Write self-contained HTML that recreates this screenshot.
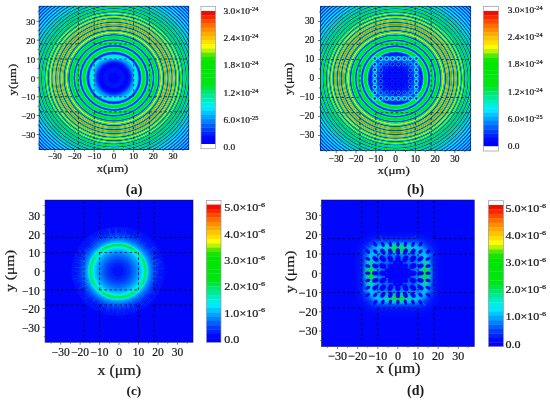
<!DOCTYPE html><html><head><meta charset="utf-8"><style>html,body{margin:0;padding:0;background:#fff;width:550px;height:400px;overflow:hidden}svg{display:block}</style></head><body><svg width="550" height="400" viewBox="0 0 550 400"><defs><clipPath id="cpa"><rect x="39.00" y="6.20" width="149.80" height="143.40"/></clipPath><clipPath id="cpb"><rect x="320.40" y="6.30" width="150.30" height="144.40"/></clipPath><clipPath id="cpc"><rect x="45.10" y="200.10" width="147.90" height="142.20"/></clipPath><clipPath id="cpd"><rect x="321.50" y="200.00" width="152.80" height="146.50"/></clipPath></defs><rect width="550" height="400" fill="#fff"/><g clip-path="url(#cpa)"><g><ellipse cx="113.90" cy="77.90" rx="114.37" ry="109.48" fill="#00a2ff"/><ellipse cx="113.90" cy="77.90" rx="114.27" ry="109.39" fill="#008cff"/><ellipse cx="113.90" cy="77.90" rx="114.17" ry="109.30" fill="#0060ff"/><ellipse cx="113.90" cy="77.90" rx="114.07" ry="109.20" fill="#004bfd"/><ellipse cx="113.90" cy="77.90" rx="113.98" ry="109.11" fill="#0037fb"/><ellipse cx="113.90" cy="77.90" rx="113.88" ry="109.01" fill="#0013fb"/><ellipse cx="113.90" cy="77.90" rx="113.78" ry="108.92" fill="#0005fa"/><ellipse cx="113.90" cy="77.90" rx="113.38" ry="108.54" fill="#0013fb"/><ellipse cx="113.90" cy="77.90" rx="113.29" ry="108.45" fill="#0024fa"/><ellipse cx="113.90" cy="77.90" rx="113.19" ry="108.35" fill="#0037fb"/><ellipse cx="113.90" cy="77.90" rx="113.09" ry="108.26" fill="#0060ff"/><ellipse cx="113.90" cy="77.90" rx="112.99" ry="108.16" fill="#0076ff"/><ellipse cx="113.90" cy="77.90" rx="112.89" ry="108.07" fill="#008cff"/><ellipse cx="113.90" cy="77.90" rx="112.79" ry="107.97" fill="#00a2ff"/><ellipse cx="113.90" cy="77.90" rx="112.69" ry="107.88" fill="#00b7ff"/><ellipse cx="113.90" cy="77.90" rx="112.20" ry="107.41" fill="#00a2ff"/><ellipse cx="113.90" cy="77.90" rx="112.10" ry="107.31" fill="#008cff"/><ellipse cx="113.90" cy="77.90" rx="112.01" ry="107.22" fill="#0076ff"/><ellipse cx="113.90" cy="77.90" rx="111.91" ry="107.13" fill="#004bfd"/><ellipse cx="113.90" cy="77.90" rx="111.81" ry="107.03" fill="#0037fb"/><ellipse cx="113.90" cy="77.90" rx="111.71" ry="106.94" fill="#0024fa"/><ellipse cx="113.90" cy="77.90" rx="111.61" ry="106.84" fill="#0013fb"/><ellipse cx="113.90" cy="77.90" rx="111.51" ry="106.75" fill="#0005fa"/><ellipse cx="113.90" cy="77.90" rx="111.12" ry="106.37" fill="#0013fb"/><ellipse cx="113.90" cy="77.90" rx="111.02" ry="106.28" fill="#0037fb"/><ellipse cx="113.90" cy="77.90" rx="110.92" ry="106.18" fill="#004bfd"/><ellipse cx="113.90" cy="77.90" rx="110.82" ry="106.09" fill="#0060ff"/><ellipse cx="113.90" cy="77.90" rx="110.72" ry="105.99" fill="#008cff"/><ellipse cx="113.90" cy="77.90" rx="110.63" ry="105.90" fill="#00a2ff"/><ellipse cx="113.90" cy="77.90" rx="110.53" ry="105.80" fill="#00b7ff"/><ellipse cx="113.90" cy="77.90" rx="110.23" ry="105.52" fill="#00ccff"/><ellipse cx="113.90" cy="77.90" rx="110.13" ry="105.43" fill="#00b7ff"/><ellipse cx="113.90" cy="77.90" rx="109.94" ry="105.24" fill="#00a2ff"/><ellipse cx="113.90" cy="77.90" rx="109.84" ry="105.14" fill="#008cff"/><ellipse cx="113.90" cy="77.90" rx="109.74" ry="105.05" fill="#0060ff"/><ellipse cx="113.90" cy="77.90" rx="109.64" ry="104.96" fill="#004bfd"/><ellipse cx="113.90" cy="77.90" rx="109.54" ry="104.86" fill="#0037fb"/><ellipse cx="113.90" cy="77.90" rx="109.44" ry="104.77" fill="#0024fa"/><ellipse cx="113.90" cy="77.90" rx="109.34" ry="104.67" fill="#0013fb"/><ellipse cx="113.90" cy="77.90" rx="109.25" ry="104.58" fill="#0005fa"/><ellipse cx="113.90" cy="77.90" rx="108.95" ry="104.30" fill="#0013fb"/><ellipse cx="113.90" cy="77.90" rx="108.85" ry="104.20" fill="#0024fa"/><ellipse cx="113.90" cy="77.90" rx="108.75" ry="104.11" fill="#0037fb"/><ellipse cx="113.90" cy="77.90" rx="108.65" ry="104.01" fill="#004bfd"/><ellipse cx="113.90" cy="77.90" rx="108.56" ry="103.92" fill="#0076ff"/><ellipse cx="113.90" cy="77.90" rx="108.46" ry="103.82" fill="#008cff"/><ellipse cx="113.90" cy="77.90" rx="108.36" ry="103.73" fill="#00a2ff"/><ellipse cx="113.90" cy="77.90" rx="108.26" ry="103.63" fill="#00b7ff"/><ellipse cx="113.90" cy="77.90" rx="108.16" ry="103.54" fill="#00ccff"/><ellipse cx="113.90" cy="77.90" rx="107.77" ry="103.16" fill="#00b7ff"/><ellipse cx="113.90" cy="77.90" rx="107.67" ry="103.07" fill="#00a2ff"/><ellipse cx="113.90" cy="77.90" rx="107.57" ry="102.97" fill="#008cff"/><ellipse cx="113.90" cy="77.90" rx="107.47" ry="102.88" fill="#0076ff"/><ellipse cx="113.90" cy="77.90" rx="107.37" ry="102.79" fill="#0060ff"/><ellipse cx="113.90" cy="77.90" rx="107.27" ry="102.69" fill="#0037fb"/><ellipse cx="113.90" cy="77.90" rx="107.18" ry="102.60" fill="#0024fa"/><ellipse cx="113.90" cy="77.90" rx="107.08" ry="102.50" fill="#0013fb"/><ellipse cx="113.90" cy="77.90" rx="106.98" ry="102.41" fill="#0005fa"/><ellipse cx="113.90" cy="77.90" rx="106.68" ry="102.13" fill="#0013fb"/><ellipse cx="113.90" cy="77.90" rx="106.58" ry="102.03" fill="#0024fa"/><ellipse cx="113.90" cy="77.90" rx="106.49" ry="101.94" fill="#0037fb"/><ellipse cx="113.90" cy="77.90" rx="106.39" ry="101.84" fill="#004bfd"/><ellipse cx="113.90" cy="77.90" rx="106.29" ry="101.75" fill="#0076ff"/><ellipse cx="113.90" cy="77.90" rx="106.19" ry="101.65" fill="#008cff"/><ellipse cx="113.90" cy="77.90" rx="106.09" ry="101.56" fill="#00a2ff"/><ellipse cx="113.90" cy="77.90" rx="105.99" ry="101.46" fill="#00b7ff"/><ellipse cx="113.90" cy="77.90" rx="105.89" ry="101.37" fill="#00ccff"/><ellipse cx="113.90" cy="77.90" rx="105.80" ry="101.28" fill="#00e1ff"/><ellipse cx="113.90" cy="77.90" rx="105.50" ry="100.99" fill="#00ccff"/><ellipse cx="113.90" cy="77.90" rx="105.40" ry="100.90" fill="#00b7ff"/><ellipse cx="113.90" cy="77.90" rx="105.30" ry="100.80" fill="#00a2ff"/><ellipse cx="113.90" cy="77.90" rx="105.20" ry="100.71" fill="#008cff"/><ellipse cx="113.90" cy="77.90" rx="105.11" ry="100.62" fill="#0076ff"/><ellipse cx="113.90" cy="77.90" rx="105.01" ry="100.52" fill="#004bfd"/><ellipse cx="113.90" cy="77.90" rx="104.91" ry="100.43" fill="#0037fb"/><ellipse cx="113.90" cy="77.90" rx="104.81" ry="100.33" fill="#0024fa"/><ellipse cx="113.90" cy="77.90" rx="104.71" ry="100.24" fill="#0013fb"/><ellipse cx="113.90" cy="77.90" rx="104.61" ry="100.14" fill="#0005fa"/><ellipse cx="113.90" cy="77.90" rx="104.32" ry="99.86" fill="#0013fb"/><ellipse cx="113.90" cy="77.90" rx="104.22" ry="99.77" fill="#0024fa"/><ellipse cx="113.90" cy="77.90" rx="104.12" ry="99.67" fill="#004bfd"/><ellipse cx="113.90" cy="77.90" rx="104.02" ry="99.58" fill="#0060ff"/><ellipse cx="113.90" cy="77.90" rx="103.92" ry="99.48" fill="#008cff"/><ellipse cx="113.90" cy="77.90" rx="103.83" ry="99.39" fill="#00a2ff"/><ellipse cx="113.90" cy="77.90" rx="103.73" ry="99.30" fill="#00b7ff"/><ellipse cx="113.90" cy="77.90" rx="103.63" ry="99.20" fill="#00ccff"/><ellipse cx="113.90" cy="77.90" rx="103.53" ry="99.11" fill="#00e1ff"/><ellipse cx="113.90" cy="77.90" rx="103.14" ry="98.73" fill="#00ccff"/><ellipse cx="113.90" cy="77.90" rx="102.94" ry="98.54" fill="#00a2ff"/><ellipse cx="113.90" cy="77.90" rx="102.84" ry="98.45" fill="#008cff"/><ellipse cx="113.90" cy="77.90" rx="102.74" ry="98.35" fill="#0076ff"/><ellipse cx="113.90" cy="77.90" rx="102.64" ry="98.26" fill="#004bfd"/><ellipse cx="113.90" cy="77.90" rx="102.54" ry="98.16" fill="#0037fb"/><ellipse cx="113.90" cy="77.90" rx="102.45" ry="98.07" fill="#0024fa"/><ellipse cx="113.90" cy="77.90" rx="102.35" ry="97.97" fill="#0013fb"/><ellipse cx="113.90" cy="77.90" rx="102.25" ry="97.88" fill="#0005fa"/><ellipse cx="113.90" cy="77.90" rx="101.95" ry="97.60" fill="#0013fb"/><ellipse cx="113.90" cy="77.90" rx="101.85" ry="97.50" fill="#0024fa"/><ellipse cx="113.90" cy="77.90" rx="101.76" ry="97.41" fill="#004bfd"/><ellipse cx="113.90" cy="77.90" rx="101.66" ry="97.31" fill="#0060ff"/><ellipse cx="113.90" cy="77.90" rx="101.56" ry="97.22" fill="#008cff"/><ellipse cx="113.90" cy="77.90" rx="101.46" ry="97.13" fill="#00a2ff"/><ellipse cx="113.90" cy="77.90" rx="101.36" ry="97.03" fill="#00b7ff"/><ellipse cx="113.90" cy="77.90" rx="101.26" ry="96.94" fill="#00ccff"/><ellipse cx="113.90" cy="77.90" rx="101.16" ry="96.84" fill="#00e1ff"/><ellipse cx="113.90" cy="77.90" rx="101.07" ry="96.75" fill="#00ecf5"/><ellipse cx="113.90" cy="77.90" rx="100.77" ry="96.46" fill="#00e1ff"/><ellipse cx="113.90" cy="77.90" rx="100.67" ry="96.37" fill="#00ccff"/><ellipse cx="113.90" cy="77.90" rx="100.57" ry="96.28" fill="#00b7ff"/><ellipse cx="113.90" cy="77.90" rx="100.47" ry="96.18" fill="#00a2ff"/><ellipse cx="113.90" cy="77.90" rx="100.38" ry="96.09" fill="#008cff"/><ellipse cx="113.90" cy="77.90" rx="100.28" ry="95.99" fill="#0060ff"/><ellipse cx="113.90" cy="77.90" rx="100.18" ry="95.90" fill="#004bfd"/><ellipse cx="113.90" cy="77.90" rx="100.08" ry="95.80" fill="#0024fa"/><ellipse cx="113.90" cy="77.90" rx="99.98" ry="95.71" fill="#0013fb"/><ellipse cx="113.90" cy="77.90" rx="99.88" ry="95.62" fill="#0005fa"/><ellipse cx="113.90" cy="77.90" rx="99.59" ry="95.33" fill="#0013fb"/><ellipse cx="113.90" cy="77.90" rx="99.49" ry="95.24" fill="#0024fa"/><ellipse cx="113.90" cy="77.90" rx="99.39" ry="95.14" fill="#0037fb"/><ellipse cx="113.90" cy="77.90" rx="99.29" ry="95.05" fill="#0060ff"/><ellipse cx="113.90" cy="77.90" rx="99.19" ry="94.96" fill="#0076ff"/><ellipse cx="113.90" cy="77.90" rx="99.09" ry="94.86" fill="#00a2ff"/><ellipse cx="113.90" cy="77.90" rx="99.00" ry="94.77" fill="#00b7ff"/><ellipse cx="113.90" cy="77.90" rx="98.90" ry="94.67" fill="#00ccff"/><ellipse cx="113.90" cy="77.90" rx="98.80" ry="94.58" fill="#00e1ff"/><ellipse cx="113.90" cy="77.90" rx="98.70" ry="94.48" fill="#00ecf5"/><ellipse cx="113.90" cy="77.90" rx="98.50" ry="94.29" fill="#00eee2"/><ellipse cx="113.90" cy="77.90" rx="98.40" ry="94.20" fill="#00ecf5"/><ellipse cx="113.90" cy="77.90" rx="98.21" ry="94.01" fill="#00e1ff"/><ellipse cx="113.90" cy="77.90" rx="98.11" ry="93.92" fill="#00ccff"/><ellipse cx="113.90" cy="77.90" rx="98.01" ry="93.82" fill="#00a2ff"/><ellipse cx="113.90" cy="77.90" rx="97.91" ry="93.73" fill="#008cff"/><ellipse cx="113.90" cy="77.90" rx="97.81" ry="93.63" fill="#0060ff"/><ellipse cx="113.90" cy="77.90" rx="97.71" ry="93.54" fill="#004bfd"/><ellipse cx="113.90" cy="77.90" rx="97.62" ry="93.45" fill="#0037fb"/><ellipse cx="113.90" cy="77.90" rx="97.52" ry="93.35" fill="#0013fb"/><ellipse cx="113.90" cy="77.90" rx="97.32" ry="93.16" fill="#0005fa"/><ellipse cx="113.90" cy="77.90" rx="97.12" ry="92.97" fill="#0013fb"/><ellipse cx="113.90" cy="77.90" rx="97.03" ry="92.88" fill="#0024fa"/><ellipse cx="113.90" cy="77.90" rx="96.93" ry="92.79" fill="#004bfd"/><ellipse cx="113.90" cy="77.90" rx="96.83" ry="92.69" fill="#0060ff"/><ellipse cx="113.90" cy="77.90" rx="96.73" ry="92.60" fill="#008cff"/><ellipse cx="113.90" cy="77.90" rx="96.63" ry="92.50" fill="#00a2ff"/><ellipse cx="113.90" cy="77.90" rx="96.53" ry="92.41" fill="#00ccff"/><ellipse cx="113.90" cy="77.90" rx="96.43" ry="92.31" fill="#00e1ff"/><ellipse cx="113.90" cy="77.90" rx="96.34" ry="92.22" fill="#00ecf5"/><ellipse cx="113.90" cy="77.90" rx="96.24" ry="92.13" fill="#00eee2"/><ellipse cx="113.90" cy="77.90" rx="95.74" ry="91.65" fill="#00ecf5"/><ellipse cx="113.90" cy="77.90" rx="95.65" ry="91.56" fill="#00e1ff"/><ellipse cx="113.90" cy="77.90" rx="95.55" ry="91.46" fill="#00b7ff"/><ellipse cx="113.90" cy="77.90" rx="95.45" ry="91.37" fill="#00a2ff"/><ellipse cx="113.90" cy="77.90" rx="95.35" ry="91.28" fill="#0076ff"/><ellipse cx="113.90" cy="77.90" rx="95.25" ry="91.18" fill="#0060ff"/><ellipse cx="113.90" cy="77.90" rx="95.15" ry="91.09" fill="#0037fb"/><ellipse cx="113.90" cy="77.90" rx="95.05" ry="90.99" fill="#0024fa"/><ellipse cx="113.90" cy="77.90" rx="94.96" ry="90.90" fill="#0013fb"/><ellipse cx="113.90" cy="77.90" rx="94.86" ry="90.80" fill="#0005fa"/><ellipse cx="113.90" cy="77.90" rx="94.66" ry="90.62" fill="#0013fb"/><ellipse cx="113.90" cy="77.90" rx="94.56" ry="90.52" fill="#0024fa"/><ellipse cx="113.90" cy="77.90" rx="94.46" ry="90.43" fill="#0037fb"/><ellipse cx="113.90" cy="77.90" rx="94.36" ry="90.33" fill="#0060ff"/><ellipse cx="113.90" cy="77.90" rx="94.27" ry="90.24" fill="#0076ff"/><ellipse cx="113.90" cy="77.90" rx="94.17" ry="90.14" fill="#00a2ff"/><ellipse cx="113.90" cy="77.90" rx="94.07" ry="90.05" fill="#00b7ff"/><ellipse cx="113.90" cy="77.90" rx="93.97" ry="89.96" fill="#00e1ff"/><ellipse cx="113.90" cy="77.90" rx="93.87" ry="89.86" fill="#00ecf5"/><ellipse cx="113.90" cy="77.90" rx="93.77" ry="89.77" fill="#00eee2"/><ellipse cx="113.90" cy="77.90" rx="93.67" ry="89.67" fill="#00f0cd"/><ellipse cx="113.90" cy="77.90" rx="93.18" ry="89.20" fill="#00eee2"/><ellipse cx="113.90" cy="77.90" rx="93.08" ry="89.11" fill="#00e1ff"/><ellipse cx="113.90" cy="77.90" rx="92.98" ry="89.01" fill="#00ccff"/><ellipse cx="113.90" cy="77.90" rx="92.89" ry="88.92" fill="#00a2ff"/><ellipse cx="113.90" cy="77.90" rx="92.79" ry="88.82" fill="#008cff"/><ellipse cx="113.90" cy="77.90" rx="92.69" ry="88.73" fill="#0060ff"/><ellipse cx="113.90" cy="77.90" rx="92.59" ry="88.63" fill="#004bfd"/><ellipse cx="113.90" cy="77.90" rx="92.49" ry="88.54" fill="#0024fa"/><ellipse cx="113.90" cy="77.90" rx="92.39" ry="88.45" fill="#0013fb"/><ellipse cx="113.90" cy="77.90" rx="92.20" ry="88.26" fill="#0005fa"/><ellipse cx="113.90" cy="77.90" rx="92.10" ry="88.16" fill="#0013fb"/><ellipse cx="113.90" cy="77.90" rx="92.00" ry="88.07" fill="#0024fa"/><ellipse cx="113.90" cy="77.90" rx="91.90" ry="87.97" fill="#0037fb"/><ellipse cx="113.90" cy="77.90" rx="91.80" ry="87.88" fill="#0060ff"/><ellipse cx="113.90" cy="77.90" rx="91.70" ry="87.79" fill="#0076ff"/><ellipse cx="113.90" cy="77.90" rx="91.60" ry="87.69" fill="#00a2ff"/><ellipse cx="113.90" cy="77.90" rx="91.51" ry="87.60" fill="#00ccff"/><ellipse cx="113.90" cy="77.90" rx="91.41" ry="87.50" fill="#00e1ff"/><ellipse cx="113.90" cy="77.90" rx="91.31" ry="87.41" fill="#00eee2"/><ellipse cx="113.90" cy="77.90" rx="91.21" ry="87.31" fill="#00f0cd"/><ellipse cx="113.90" cy="77.90" rx="91.11" ry="87.22" fill="#00edb1"/><ellipse cx="113.90" cy="77.90" rx="90.62" ry="86.75" fill="#00f0cd"/><ellipse cx="113.90" cy="77.90" rx="90.52" ry="86.65" fill="#00eee2"/><ellipse cx="113.90" cy="77.90" rx="90.42" ry="86.56" fill="#00ecf5"/><ellipse cx="113.90" cy="77.90" rx="90.32" ry="86.46" fill="#00ccff"/><ellipse cx="113.90" cy="77.90" rx="90.22" ry="86.37" fill="#00a2ff"/><ellipse cx="113.90" cy="77.90" rx="90.13" ry="86.28" fill="#008cff"/><ellipse cx="113.90" cy="77.90" rx="90.03" ry="86.18" fill="#0060ff"/><ellipse cx="113.90" cy="77.90" rx="89.93" ry="86.09" fill="#0037fb"/><ellipse cx="113.90" cy="77.90" rx="89.83" ry="85.99" fill="#0024fa"/><ellipse cx="113.90" cy="77.90" rx="89.73" ry="85.90" fill="#0013fb"/><ellipse cx="113.90" cy="77.90" rx="89.34" ry="85.52" fill="#0037fb"/><ellipse cx="113.90" cy="77.90" rx="89.24" ry="85.43" fill="#004bfd"/><ellipse cx="113.90" cy="77.90" rx="89.14" ry="85.33" fill="#0076ff"/><ellipse cx="113.90" cy="77.90" rx="89.04" ry="85.24" fill="#008cff"/><ellipse cx="113.90" cy="77.90" rx="88.94" ry="85.14" fill="#00b7ff"/><ellipse cx="113.90" cy="77.90" rx="88.85" ry="85.05" fill="#00e1ff"/><ellipse cx="113.90" cy="77.90" rx="88.75" ry="84.96" fill="#00eee2"/><ellipse cx="113.90" cy="77.90" rx="88.65" ry="84.86" fill="#00f0cd"/><ellipse cx="113.90" cy="77.90" rx="88.55" ry="84.77" fill="#00edb1"/><ellipse cx="113.90" cy="77.90" rx="88.45" ry="84.67" fill="#00eb96"/><ellipse cx="113.90" cy="77.90" rx="88.35" ry="84.58" fill="#00e97c"/><ellipse cx="113.90" cy="77.90" rx="87.96" ry="84.20" fill="#00eb96"/><ellipse cx="113.90" cy="77.90" rx="87.86" ry="84.11" fill="#00edb1"/><ellipse cx="113.90" cy="77.90" rx="87.76" ry="84.01" fill="#00eee2"/><ellipse cx="113.90" cy="77.90" rx="87.66" ry="83.92" fill="#00e1ff"/><ellipse cx="113.90" cy="77.90" rx="87.56" ry="83.82" fill="#00ccff"/><ellipse cx="113.90" cy="77.90" rx="87.47" ry="83.73" fill="#00a2ff"/><ellipse cx="113.90" cy="77.90" rx="87.37" ry="83.63" fill="#0076ff"/><ellipse cx="113.90" cy="77.90" rx="87.27" ry="83.54" fill="#004bfd"/><ellipse cx="113.90" cy="77.90" rx="87.17" ry="83.45" fill="#0037fb"/><ellipse cx="113.90" cy="77.90" rx="87.07" ry="83.35" fill="#0024fa"/><ellipse cx="113.90" cy="77.90" rx="86.97" ry="83.26" fill="#0013fb"/><ellipse cx="113.90" cy="77.90" rx="86.68" ry="82.97" fill="#0024fa"/><ellipse cx="113.90" cy="77.90" rx="86.58" ry="82.88" fill="#004bfd"/><ellipse cx="113.90" cy="77.90" rx="86.48" ry="82.79" fill="#0060ff"/><ellipse cx="113.90" cy="77.90" rx="86.38" ry="82.69" fill="#008cff"/><ellipse cx="113.90" cy="77.90" rx="86.28" ry="82.60" fill="#00b7ff"/><ellipse cx="113.90" cy="77.90" rx="86.18" ry="82.50" fill="#00e1ff"/><ellipse cx="113.90" cy="77.90" rx="86.09" ry="82.41" fill="#00eee2"/><ellipse cx="113.90" cy="77.90" rx="85.99" ry="82.31" fill="#00edb1"/><ellipse cx="113.90" cy="77.90" rx="85.89" ry="82.22" fill="#00eb96"/><ellipse cx="113.90" cy="77.90" rx="85.79" ry="82.12" fill="#00e762"/><ellipse cx="113.90" cy="77.90" rx="85.59" ry="81.94" fill="#00e644"/><ellipse cx="113.90" cy="77.90" rx="85.30" ry="81.65" fill="#00e762"/><ellipse cx="113.90" cy="77.90" rx="85.20" ry="81.56" fill="#00e97c"/><ellipse cx="113.90" cy="77.90" rx="85.10" ry="81.46" fill="#00eb96"/><ellipse cx="113.90" cy="77.90" rx="85.00" ry="81.37" fill="#00f0cd"/><ellipse cx="113.90" cy="77.90" rx="84.90" ry="81.28" fill="#00eee2"/><ellipse cx="113.90" cy="77.90" rx="84.80" ry="81.18" fill="#00e1ff"/><ellipse cx="113.90" cy="77.90" rx="84.71" ry="81.09" fill="#00b7ff"/><ellipse cx="113.90" cy="77.90" rx="84.61" ry="80.99" fill="#008cff"/><ellipse cx="113.90" cy="77.90" rx="84.51" ry="80.90" fill="#0060ff"/><ellipse cx="113.90" cy="77.90" rx="84.41" ry="80.80" fill="#0037fb"/><ellipse cx="113.90" cy="77.90" rx="84.31" ry="80.71" fill="#0024fa"/><ellipse cx="113.90" cy="77.90" rx="84.21" ry="80.62" fill="#0013fb"/><ellipse cx="113.90" cy="77.90" rx="83.92" ry="80.33" fill="#0024fa"/><ellipse cx="113.90" cy="77.90" rx="83.82" ry="80.24" fill="#004bfd"/><ellipse cx="113.90" cy="77.90" rx="83.72" ry="80.14" fill="#0076ff"/><ellipse cx="113.90" cy="77.90" rx="83.62" ry="80.05" fill="#00a2ff"/><ellipse cx="113.90" cy="77.90" rx="83.52" ry="79.95" fill="#00ccff"/><ellipse cx="113.90" cy="77.90" rx="83.42" ry="79.86" fill="#00ecf5"/><ellipse cx="113.90" cy="77.90" rx="83.33" ry="79.77" fill="#00f0cd"/><ellipse cx="113.90" cy="77.90" rx="83.23" ry="79.67" fill="#00eb96"/><ellipse cx="113.90" cy="77.90" rx="83.13" ry="79.58" fill="#00e97c"/><ellipse cx="113.90" cy="77.90" rx="83.03" ry="79.48" fill="#00e644"/><ellipse cx="113.90" cy="77.90" rx="82.93" ry="79.39" fill="#00e624"/><ellipse cx="113.90" cy="77.90" rx="82.83" ry="79.29" fill="#00e613"/><ellipse cx="113.90" cy="77.90" rx="82.44" ry="78.92" fill="#00e624"/><ellipse cx="113.90" cy="77.90" rx="82.34" ry="78.82" fill="#00e644"/><ellipse cx="113.90" cy="77.90" rx="82.24" ry="78.73" fill="#00e97c"/><ellipse cx="113.90" cy="77.90" rx="82.14" ry="78.63" fill="#00edb1"/><ellipse cx="113.90" cy="77.90" rx="82.05" ry="78.54" fill="#00eee2"/><ellipse cx="113.90" cy="77.90" rx="81.95" ry="78.45" fill="#00e1ff"/><ellipse cx="113.90" cy="77.90" rx="81.85" ry="78.35" fill="#00b7ff"/><ellipse cx="113.90" cy="77.90" rx="81.75" ry="78.26" fill="#008cff"/><ellipse cx="113.90" cy="77.90" rx="81.65" ry="78.16" fill="#0060ff"/><ellipse cx="113.90" cy="77.90" rx="81.55" ry="78.07" fill="#0037fb"/><ellipse cx="113.90" cy="77.90" rx="81.45" ry="77.97" fill="#0024fa"/><ellipse cx="113.90" cy="77.90" rx="81.36" ry="77.88" fill="#0013fb"/><ellipse cx="113.90" cy="77.90" rx="81.16" ry="77.69" fill="#0024fa"/><ellipse cx="113.90" cy="77.90" rx="81.06" ry="77.60" fill="#0037fb"/><ellipse cx="113.90" cy="77.90" rx="80.96" ry="77.50" fill="#004bfd"/><ellipse cx="113.90" cy="77.90" rx="80.86" ry="77.41" fill="#0076ff"/><ellipse cx="113.90" cy="77.90" rx="80.76" ry="77.31" fill="#00a2ff"/><ellipse cx="113.90" cy="77.90" rx="80.67" ry="77.22" fill="#00e1ff"/><ellipse cx="113.90" cy="77.90" rx="80.57" ry="77.12" fill="#00eee2"/><ellipse cx="113.90" cy="77.90" rx="80.47" ry="77.03" fill="#00edb1"/><ellipse cx="113.90" cy="77.90" rx="80.37" ry="76.94" fill="#00e97c"/><ellipse cx="113.90" cy="77.90" rx="80.27" ry="76.84" fill="#00e644"/><ellipse cx="113.90" cy="77.90" rx="80.17" ry="76.75" fill="#00e613"/><ellipse cx="113.90" cy="77.90" rx="80.07" ry="76.65" fill="#00e610"/><ellipse cx="113.90" cy="77.90" rx="79.98" ry="76.56" fill="#00e60e"/><ellipse cx="113.90" cy="77.90" rx="79.58" ry="76.18" fill="#00e610"/><ellipse cx="113.90" cy="77.90" rx="79.48" ry="76.09" fill="#00e613"/><ellipse cx="113.90" cy="77.90" rx="79.38" ry="75.99" fill="#00e624"/><ellipse cx="113.90" cy="77.90" rx="79.29" ry="75.90" fill="#00e762"/><ellipse cx="113.90" cy="77.90" rx="79.19" ry="75.80" fill="#00eb96"/><ellipse cx="113.90" cy="77.90" rx="79.09" ry="75.71" fill="#00f0cd"/><ellipse cx="113.90" cy="77.90" rx="78.99" ry="75.62" fill="#00ecf5"/><ellipse cx="113.90" cy="77.90" rx="78.89" ry="75.52" fill="#00b7ff"/><ellipse cx="113.90" cy="77.90" rx="78.79" ry="75.43" fill="#008cff"/><ellipse cx="113.90" cy="77.90" rx="78.69" ry="75.33" fill="#0060ff"/><ellipse cx="113.90" cy="77.90" rx="78.60" ry="75.24" fill="#0037fb"/><ellipse cx="113.90" cy="77.90" rx="78.50" ry="75.14" fill="#0024fa"/><ellipse cx="113.90" cy="77.90" rx="78.40" ry="75.05" fill="#0013fb"/><ellipse cx="113.90" cy="77.90" rx="78.20" ry="74.86" fill="#0024fa"/><ellipse cx="113.90" cy="77.90" rx="78.10" ry="74.77" fill="#0037fb"/><ellipse cx="113.90" cy="77.90" rx="78.00" ry="74.67" fill="#0060ff"/><ellipse cx="113.90" cy="77.90" rx="77.91" ry="74.58" fill="#008cff"/><ellipse cx="113.90" cy="77.90" rx="77.81" ry="74.48" fill="#00b7ff"/><ellipse cx="113.90" cy="77.90" rx="77.71" ry="74.39" fill="#00ecf5"/><ellipse cx="113.90" cy="77.90" rx="77.61" ry="74.29" fill="#00f0cd"/><ellipse cx="113.90" cy="77.90" rx="77.51" ry="74.20" fill="#00eb96"/><ellipse cx="113.90" cy="77.90" rx="77.41" ry="74.11" fill="#00e644"/><ellipse cx="113.90" cy="77.90" rx="77.31" ry="74.01" fill="#00e613"/><ellipse cx="113.90" cy="77.90" rx="77.22" ry="73.92" fill="#00e60e"/><ellipse cx="113.90" cy="77.90" rx="77.12" ry="73.82" fill="#00e60c"/><ellipse cx="113.90" cy="77.90" rx="77.02" ry="73.73" fill="#00e609"/><ellipse cx="113.90" cy="77.90" rx="76.92" ry="73.63" fill="#00e607"/><ellipse cx="113.90" cy="77.90" rx="76.62" ry="73.35" fill="#00e609"/><ellipse cx="113.90" cy="77.90" rx="76.53" ry="73.26" fill="#00e60c"/><ellipse cx="113.90" cy="77.90" rx="76.43" ry="73.16" fill="#00e60e"/><ellipse cx="113.90" cy="77.90" rx="76.33" ry="73.07" fill="#00e613"/><ellipse cx="113.90" cy="77.90" rx="76.23" ry="72.97" fill="#00e644"/><ellipse cx="113.90" cy="77.90" rx="76.13" ry="72.88" fill="#00e97c"/><ellipse cx="113.90" cy="77.90" rx="76.03" ry="72.78" fill="#00f0cd"/><ellipse cx="113.90" cy="77.90" rx="75.93" ry="72.69" fill="#00ecf5"/><ellipse cx="113.90" cy="77.90" rx="75.84" ry="72.60" fill="#00ccff"/><ellipse cx="113.90" cy="77.90" rx="75.74" ry="72.50" fill="#008cff"/><ellipse cx="113.90" cy="77.90" rx="75.64" ry="72.41" fill="#0060ff"/><ellipse cx="113.90" cy="77.90" rx="75.54" ry="72.31" fill="#0037fb"/><ellipse cx="113.90" cy="77.90" rx="75.44" ry="72.22" fill="#0024fa"/><ellipse cx="113.90" cy="77.90" rx="75.34" ry="72.12" fill="#0013fb"/><ellipse cx="113.90" cy="77.90" rx="75.15" ry="71.94" fill="#0024fa"/><ellipse cx="113.90" cy="77.90" rx="75.05" ry="71.84" fill="#004bfd"/><ellipse cx="113.90" cy="77.90" rx="74.95" ry="71.75" fill="#0076ff"/><ellipse cx="113.90" cy="77.90" rx="74.85" ry="71.65" fill="#00a2ff"/><ellipse cx="113.90" cy="77.90" rx="74.75" ry="71.56" fill="#00ccff"/><ellipse cx="113.90" cy="77.90" rx="74.65" ry="71.46" fill="#00eee2"/><ellipse cx="113.90" cy="77.90" rx="74.56" ry="71.37" fill="#00edb1"/><ellipse cx="113.90" cy="77.90" rx="74.46" ry="71.28" fill="#00e762"/><ellipse cx="113.90" cy="77.90" rx="74.36" ry="71.18" fill="#00e624"/><ellipse cx="113.90" cy="77.90" rx="74.26" ry="71.09" fill="#00e610"/><ellipse cx="113.90" cy="77.90" rx="74.16" ry="70.99" fill="#00e60c"/><ellipse cx="113.90" cy="77.90" rx="74.06" ry="70.90" fill="#00e607"/><ellipse cx="113.90" cy="77.90" rx="73.96" ry="70.80" fill="#00e605"/><ellipse cx="113.90" cy="77.90" rx="73.87" ry="70.71" fill="#00e602"/><ellipse cx="113.90" cy="77.90" rx="73.77" ry="70.62" fill="#00e600"/><ellipse cx="113.90" cy="77.90" rx="73.57" ry="70.43" fill="#00e602"/><ellipse cx="113.90" cy="77.90" rx="73.47" ry="70.33" fill="#00e605"/><ellipse cx="113.90" cy="77.90" rx="73.37" ry="70.24" fill="#00e607"/><ellipse cx="113.90" cy="77.90" rx="73.27" ry="70.14" fill="#00e60c"/><ellipse cx="113.90" cy="77.90" rx="73.18" ry="70.05" fill="#00e610"/><ellipse cx="113.90" cy="77.90" rx="73.08" ry="69.95" fill="#00e624"/><ellipse cx="113.90" cy="77.90" rx="72.98" ry="69.86" fill="#00e762"/><ellipse cx="113.90" cy="77.90" rx="72.88" ry="69.77" fill="#00edb1"/><ellipse cx="113.90" cy="77.90" rx="72.78" ry="69.67" fill="#00eee2"/><ellipse cx="113.90" cy="77.90" rx="72.68" ry="69.58" fill="#00ccff"/><ellipse cx="113.90" cy="77.90" rx="72.58" ry="69.48" fill="#00a2ff"/><ellipse cx="113.90" cy="77.90" rx="72.49" ry="69.39" fill="#0076ff"/><ellipse cx="113.90" cy="77.90" rx="72.39" ry="69.29" fill="#004bfd"/><ellipse cx="113.90" cy="77.90" rx="72.29" ry="69.20" fill="#0024fa"/><ellipse cx="113.90" cy="77.90" rx="72.19" ry="69.11" fill="#0013fb"/><ellipse cx="113.90" cy="77.90" rx="72.09" ry="69.01" fill="#0024fa"/><ellipse cx="113.90" cy="77.90" rx="71.99" ry="68.92" fill="#0037fb"/><ellipse cx="113.90" cy="77.90" rx="71.89" ry="68.82" fill="#004bfd"/><ellipse cx="113.90" cy="77.90" rx="71.80" ry="68.73" fill="#0076ff"/><ellipse cx="113.90" cy="77.90" rx="71.70" ry="68.63" fill="#00a2ff"/><ellipse cx="113.90" cy="77.90" rx="71.60" ry="68.54" fill="#00e1ff"/><ellipse cx="113.90" cy="77.90" rx="71.50" ry="68.45" fill="#00eee2"/><ellipse cx="113.90" cy="77.90" rx="71.40" ry="68.35" fill="#00eb96"/><ellipse cx="113.90" cy="77.90" rx="71.30" ry="68.26" fill="#00e644"/><ellipse cx="113.90" cy="77.90" rx="71.20" ry="68.16" fill="#00e613"/><ellipse cx="113.90" cy="77.90" rx="71.11" ry="68.07" fill="#00e60c"/><ellipse cx="113.90" cy="77.90" rx="71.01" ry="67.97" fill="#00e607"/><ellipse cx="113.90" cy="77.90" rx="70.91" ry="67.88" fill="#00e602"/><ellipse cx="113.90" cy="77.90" rx="70.81" ry="67.78" fill="#00e600"/><ellipse cx="113.90" cy="77.90" rx="70.71" ry="67.69" fill="#14e600"/><ellipse cx="113.90" cy="77.90" rx="70.61" ry="67.60" fill="#28e600"/><ellipse cx="113.90" cy="77.90" rx="70.22" ry="67.22" fill="#14e600"/><ellipse cx="113.90" cy="77.90" rx="70.12" ry="67.12" fill="#00e602"/><ellipse cx="113.90" cy="77.90" rx="70.02" ry="67.03" fill="#00e607"/><ellipse cx="113.90" cy="77.90" rx="69.92" ry="66.94" fill="#00e60c"/><ellipse cx="113.90" cy="77.90" rx="69.82" ry="66.84" fill="#00e610"/><ellipse cx="113.90" cy="77.90" rx="69.73" ry="66.75" fill="#00e644"/><ellipse cx="113.90" cy="77.90" rx="69.63" ry="66.65" fill="#00e97c"/><ellipse cx="113.90" cy="77.90" rx="69.53" ry="66.56" fill="#00f0cd"/><ellipse cx="113.90" cy="77.90" rx="69.43" ry="66.46" fill="#00e1ff"/><ellipse cx="113.90" cy="77.90" rx="69.33" ry="66.37" fill="#00b7ff"/><ellipse cx="113.90" cy="77.90" rx="69.23" ry="66.28" fill="#0076ff"/><ellipse cx="113.90" cy="77.90" rx="69.13" ry="66.18" fill="#004bfd"/><ellipse cx="113.90" cy="77.90" rx="69.04" ry="66.09" fill="#0037fb"/><ellipse cx="113.90" cy="77.90" rx="68.94" ry="65.99" fill="#0024fa"/><ellipse cx="113.90" cy="77.90" rx="68.64" ry="65.71" fill="#004bfd"/><ellipse cx="113.90" cy="77.90" rx="68.54" ry="65.61" fill="#0076ff"/><ellipse cx="113.90" cy="77.90" rx="68.44" ry="65.52" fill="#00a2ff"/><ellipse cx="113.90" cy="77.90" rx="68.35" ry="65.43" fill="#00ccff"/><ellipse cx="113.90" cy="77.90" rx="68.25" ry="65.33" fill="#00eee2"/><ellipse cx="113.90" cy="77.90" rx="68.15" ry="65.24" fill="#00eb96"/><ellipse cx="113.90" cy="77.90" rx="68.05" ry="65.14" fill="#00e644"/><ellipse cx="113.90" cy="77.90" rx="67.95" ry="65.05" fill="#00e613"/><ellipse cx="113.90" cy="77.90" rx="67.85" ry="64.95" fill="#00e60c"/><ellipse cx="113.90" cy="77.90" rx="67.75" ry="64.86" fill="#00e605"/><ellipse cx="113.90" cy="77.90" rx="67.66" ry="64.77" fill="#00e600"/><ellipse cx="113.90" cy="77.90" rx="67.56" ry="64.67" fill="#28e600"/><ellipse cx="113.90" cy="77.90" rx="67.46" ry="64.58" fill="#72ec00"/><ellipse cx="113.90" cy="77.90" rx="67.36" ry="64.48" fill="#b6f200"/><ellipse cx="113.90" cy="77.90" rx="67.26" ry="64.39" fill="#e7fb00"/><ellipse cx="113.90" cy="77.90" rx="66.87" ry="64.01" fill="#b6f200"/><ellipse cx="113.90" cy="77.90" rx="66.77" ry="63.92" fill="#28e600"/><ellipse cx="113.90" cy="77.90" rx="66.67" ry="63.82" fill="#00e600"/><ellipse cx="113.90" cy="77.90" rx="66.57" ry="63.73" fill="#00e605"/><ellipse cx="113.90" cy="77.90" rx="66.47" ry="63.63" fill="#00e609"/><ellipse cx="113.90" cy="77.90" rx="66.38" ry="63.54" fill="#00e610"/><ellipse cx="113.90" cy="77.90" rx="66.28" ry="63.45" fill="#00e644"/><ellipse cx="113.90" cy="77.90" rx="66.18" ry="63.35" fill="#00e97c"/><ellipse cx="113.90" cy="77.90" rx="66.08" ry="63.26" fill="#00f0cd"/><ellipse cx="113.90" cy="77.90" rx="65.98" ry="63.16" fill="#00e1ff"/><ellipse cx="113.90" cy="77.90" rx="65.88" ry="63.07" fill="#00b7ff"/><ellipse cx="113.90" cy="77.90" rx="65.78" ry="62.97" fill="#0076ff"/><ellipse cx="113.90" cy="77.90" rx="65.69" ry="62.88" fill="#004bfd"/><ellipse cx="113.90" cy="77.90" rx="65.59" ry="62.78" fill="#0037fb"/><ellipse cx="113.90" cy="77.90" rx="65.49" ry="62.69" fill="#0024fa"/><ellipse cx="113.90" cy="77.90" rx="65.29" ry="62.50" fill="#0037fb"/><ellipse cx="113.90" cy="77.90" rx="65.19" ry="62.41" fill="#004bfd"/><ellipse cx="113.90" cy="77.90" rx="65.09" ry="62.31" fill="#0076ff"/><ellipse cx="113.90" cy="77.90" rx="65.00" ry="62.22" fill="#00b7ff"/><ellipse cx="113.90" cy="77.90" rx="64.90" ry="62.12" fill="#00e1ff"/><ellipse cx="113.90" cy="77.90" rx="64.80" ry="62.03" fill="#00f0cd"/><ellipse cx="113.90" cy="77.90" rx="64.70" ry="61.94" fill="#00e97c"/><ellipse cx="113.90" cy="77.90" rx="64.60" ry="61.84" fill="#00e624"/><ellipse cx="113.90" cy="77.90" rx="64.50" ry="61.75" fill="#00e60e"/><ellipse cx="113.90" cy="77.90" rx="64.40" ry="61.65" fill="#00e607"/><ellipse cx="113.90" cy="77.90" rx="64.31" ry="61.56" fill="#00e600"/><ellipse cx="113.90" cy="77.90" rx="64.21" ry="61.46" fill="#28e600"/><ellipse cx="113.90" cy="77.90" rx="64.11" ry="61.37" fill="#b6f200"/><ellipse cx="113.90" cy="77.90" rx="64.01" ry="61.28" fill="#fff600"/><ellipse cx="113.90" cy="77.90" rx="63.91" ry="61.18" fill="#ffd200"/><ellipse cx="113.90" cy="77.90" rx="63.81" ry="61.09" fill="#ffc100"/><ellipse cx="113.90" cy="77.90" rx="63.42" ry="60.71" fill="#ffd200"/><ellipse cx="113.90" cy="77.90" rx="63.32" ry="60.61" fill="#ffe400"/><ellipse cx="113.90" cy="77.90" rx="63.22" ry="60.52" fill="#e7fb00"/><ellipse cx="113.90" cy="77.90" rx="63.12" ry="60.43" fill="#72ec00"/><ellipse cx="113.90" cy="77.90" rx="63.02" ry="60.33" fill="#14e600"/><ellipse cx="113.90" cy="77.90" rx="62.93" ry="60.24" fill="#00e602"/><ellipse cx="113.90" cy="77.90" rx="62.83" ry="60.14" fill="#00e609"/><ellipse cx="113.90" cy="77.90" rx="62.73" ry="60.05" fill="#00e610"/><ellipse cx="113.90" cy="77.90" rx="62.63" ry="59.95" fill="#00e644"/><ellipse cx="113.90" cy="77.90" rx="62.53" ry="59.86" fill="#00eb96"/><ellipse cx="113.90" cy="77.90" rx="62.43" ry="59.77" fill="#00eee2"/><ellipse cx="113.90" cy="77.90" rx="62.33" ry="59.67" fill="#00ccff"/><ellipse cx="113.90" cy="77.90" rx="62.24" ry="59.58" fill="#00a2ff"/><ellipse cx="113.90" cy="77.90" rx="62.14" ry="59.48" fill="#0076ff"/><ellipse cx="113.90" cy="77.90" rx="62.04" ry="59.39" fill="#004bfd"/><ellipse cx="113.90" cy="77.90" rx="61.94" ry="59.29" fill="#0024fa"/><ellipse cx="113.90" cy="77.90" rx="61.64" ry="59.01" fill="#004bfd"/><ellipse cx="113.90" cy="77.90" rx="61.55" ry="58.92" fill="#0060ff"/><ellipse cx="113.90" cy="77.90" rx="61.45" ry="58.82" fill="#00a2ff"/><ellipse cx="113.90" cy="77.90" rx="61.35" ry="58.73" fill="#00ccff"/><ellipse cx="113.90" cy="77.90" rx="61.25" ry="58.63" fill="#00eee2"/><ellipse cx="113.90" cy="77.90" rx="61.15" ry="58.54" fill="#00eb96"/><ellipse cx="113.90" cy="77.90" rx="61.05" ry="58.44" fill="#00e644"/><ellipse cx="113.90" cy="77.90" rx="60.95" ry="58.35" fill="#00e610"/><ellipse cx="113.90" cy="77.90" rx="60.86" ry="58.26" fill="#00e609"/><ellipse cx="113.90" cy="77.90" rx="60.76" ry="58.16" fill="#00e602"/><ellipse cx="113.90" cy="77.90" rx="60.66" ry="58.07" fill="#28e600"/><ellipse cx="113.90" cy="77.90" rx="60.56" ry="57.97" fill="#e7fb00"/><ellipse cx="113.90" cy="77.90" rx="60.46" ry="57.88" fill="#ffe400"/><ellipse cx="113.90" cy="77.90" rx="60.36" ry="57.78" fill="#ffc100"/><ellipse cx="113.90" cy="77.90" rx="60.26" ry="57.69" fill="#ffa000"/><ellipse cx="113.90" cy="77.90" rx="60.17" ry="57.60" fill="#ff8c00"/><ellipse cx="113.90" cy="77.90" rx="60.07" ry="57.50" fill="#ff7800"/><ellipse cx="113.90" cy="77.90" rx="59.67" ry="57.12" fill="#ff8c00"/><ellipse cx="113.90" cy="77.90" rx="59.58" ry="57.03" fill="#ffb100"/><ellipse cx="113.90" cy="77.90" rx="59.48" ry="56.94" fill="#ffd200"/><ellipse cx="113.90" cy="77.90" rx="59.38" ry="56.84" fill="#fff600"/><ellipse cx="113.90" cy="77.90" rx="59.28" ry="56.75" fill="#b6f200"/><ellipse cx="113.90" cy="77.90" rx="59.18" ry="56.65" fill="#14e600"/><ellipse cx="113.90" cy="77.90" rx="59.08" ry="56.56" fill="#00e605"/><ellipse cx="113.90" cy="77.90" rx="58.98" ry="56.46" fill="#00e60c"/><ellipse cx="113.90" cy="77.90" rx="58.89" ry="56.37" fill="#00e613"/><ellipse cx="113.90" cy="77.90" rx="58.79" ry="56.28" fill="#00e762"/><ellipse cx="113.90" cy="77.90" rx="58.69" ry="56.18" fill="#00edb1"/><ellipse cx="113.90" cy="77.90" rx="58.59" ry="56.09" fill="#00ecf5"/><ellipse cx="113.90" cy="77.90" rx="58.49" ry="55.99" fill="#00b7ff"/><ellipse cx="113.90" cy="77.90" rx="58.39" ry="55.90" fill="#008cff"/><ellipse cx="113.90" cy="77.90" rx="58.29" ry="55.80" fill="#0060ff"/><ellipse cx="113.90" cy="77.90" rx="58.20" ry="55.71" fill="#0037fb"/><ellipse cx="113.90" cy="77.90" rx="58.10" ry="55.61" fill="#0024fa"/><ellipse cx="113.90" cy="77.90" rx="57.90" ry="55.43" fill="#0037fb"/><ellipse cx="113.90" cy="77.90" rx="57.80" ry="55.33" fill="#004bfd"/><ellipse cx="113.90" cy="77.90" rx="57.70" ry="55.24" fill="#0076ff"/><ellipse cx="113.90" cy="77.90" rx="57.60" ry="55.14" fill="#00a2ff"/><ellipse cx="113.90" cy="77.90" rx="57.51" ry="55.05" fill="#00e1ff"/><ellipse cx="113.90" cy="77.90" rx="57.41" ry="54.95" fill="#00f0cd"/><ellipse cx="113.90" cy="77.90" rx="57.31" ry="54.86" fill="#00e97c"/><ellipse cx="113.90" cy="77.90" rx="57.21" ry="54.77" fill="#00e624"/><ellipse cx="113.90" cy="77.90" rx="57.11" ry="54.67" fill="#00e60e"/><ellipse cx="113.90" cy="77.90" rx="57.01" ry="54.58" fill="#00e607"/><ellipse cx="113.90" cy="77.90" rx="56.91" ry="54.48" fill="#00e600"/><ellipse cx="113.90" cy="77.90" rx="56.82" ry="54.39" fill="#72ec00"/><ellipse cx="113.90" cy="77.90" rx="56.72" ry="54.29" fill="#fff600"/><ellipse cx="113.90" cy="77.90" rx="56.62" ry="54.20" fill="#ffd200"/><ellipse cx="113.90" cy="77.90" rx="56.52" ry="54.11" fill="#ffb100"/><ellipse cx="113.90" cy="77.90" rx="56.42" ry="54.01" fill="#ff8c00"/><ellipse cx="113.90" cy="77.90" rx="56.32" ry="53.92" fill="#ff6200"/><ellipse cx="113.90" cy="77.90" rx="56.22" ry="53.82" fill="#ff4a00"/><ellipse cx="113.90" cy="77.90" rx="55.83" ry="53.44" fill="#ff6200"/><ellipse cx="113.90" cy="77.90" rx="55.73" ry="53.35" fill="#ff7800"/><ellipse cx="113.90" cy="77.90" rx="55.63" ry="53.26" fill="#ff8c00"/><ellipse cx="113.90" cy="77.90" rx="55.53" ry="53.16" fill="#ffb100"/><ellipse cx="113.90" cy="77.90" rx="55.44" ry="53.07" fill="#ffd200"/><ellipse cx="113.90" cy="77.90" rx="55.34" ry="52.97" fill="#e7fb00"/><ellipse cx="113.90" cy="77.90" rx="55.24" ry="52.88" fill="#72ec00"/><ellipse cx="113.90" cy="77.90" rx="55.14" ry="52.78" fill="#00e600"/><ellipse cx="113.90" cy="77.90" rx="55.04" ry="52.69" fill="#00e607"/><ellipse cx="113.90" cy="77.90" rx="54.94" ry="52.60" fill="#00e60e"/><ellipse cx="113.90" cy="77.90" rx="54.84" ry="52.50" fill="#00e624"/><ellipse cx="113.90" cy="77.90" rx="54.75" ry="52.41" fill="#00e97c"/><ellipse cx="113.90" cy="77.90" rx="54.65" ry="52.31" fill="#00f0cd"/><ellipse cx="113.90" cy="77.90" rx="54.55" ry="52.22" fill="#00e1ff"/><ellipse cx="113.90" cy="77.90" rx="54.45" ry="52.12" fill="#00b7ff"/><ellipse cx="113.90" cy="77.90" rx="54.35" ry="52.03" fill="#008cff"/><ellipse cx="113.90" cy="77.90" rx="54.25" ry="51.94" fill="#0060ff"/><ellipse cx="113.90" cy="77.90" rx="54.15" ry="51.84" fill="#0037fb"/><ellipse cx="113.90" cy="77.90" rx="54.06" ry="51.75" fill="#0024fa"/><ellipse cx="113.90" cy="77.90" rx="53.86" ry="51.56" fill="#0037fb"/><ellipse cx="113.90" cy="77.90" rx="53.76" ry="51.46" fill="#004bfd"/><ellipse cx="113.90" cy="77.90" rx="53.66" ry="51.37" fill="#0060ff"/><ellipse cx="113.90" cy="77.90" rx="53.56" ry="51.27" fill="#008cff"/><ellipse cx="113.90" cy="77.90" rx="53.46" ry="51.18" fill="#00ccff"/><ellipse cx="113.90" cy="77.90" rx="53.37" ry="51.09" fill="#00ecf5"/><ellipse cx="113.90" cy="77.90" rx="53.27" ry="50.99" fill="#00edb1"/><ellipse cx="113.90" cy="77.90" rx="53.17" ry="50.90" fill="#00e762"/><ellipse cx="113.90" cy="77.90" rx="53.07" ry="50.80" fill="#00e624"/><ellipse cx="113.90" cy="77.90" rx="52.97" ry="50.71" fill="#00e60e"/><ellipse cx="113.90" cy="77.90" rx="52.87" ry="50.61" fill="#00e607"/><ellipse cx="113.90" cy="77.90" rx="52.77" ry="50.52" fill="#00e600"/><ellipse cx="113.90" cy="77.90" rx="52.68" ry="50.43" fill="#28e600"/><ellipse cx="113.90" cy="77.90" rx="52.58" ry="50.33" fill="#e7fb00"/><ellipse cx="113.90" cy="77.90" rx="52.48" ry="50.24" fill="#ffe400"/><ellipse cx="113.90" cy="77.90" rx="52.38" ry="50.14" fill="#ffc100"/><ellipse cx="113.90" cy="77.90" rx="52.28" ry="50.05" fill="#ffb100"/><ellipse cx="113.90" cy="77.90" rx="52.18" ry="49.95" fill="#ff8c00"/><ellipse cx="113.90" cy="77.90" rx="52.09" ry="49.86" fill="#ff7800"/><ellipse cx="113.90" cy="77.90" rx="51.89" ry="49.67" fill="#ff6200"/><ellipse cx="113.90" cy="77.90" rx="51.69" ry="49.48" fill="#ff7800"/><ellipse cx="113.90" cy="77.90" rx="51.49" ry="49.29" fill="#ffa000"/><ellipse cx="113.90" cy="77.90" rx="51.40" ry="49.20" fill="#ffb100"/><ellipse cx="113.90" cy="77.90" rx="51.30" ry="49.11" fill="#ffd200"/><ellipse cx="113.90" cy="77.90" rx="51.20" ry="49.01" fill="#ffe400"/><ellipse cx="113.90" cy="77.90" rx="51.10" ry="48.92" fill="#b6f200"/><ellipse cx="113.90" cy="77.90" rx="51.00" ry="48.82" fill="#28e600"/><ellipse cx="113.90" cy="77.90" rx="50.90" ry="48.73" fill="#00e602"/><ellipse cx="113.90" cy="77.90" rx="50.80" ry="48.63" fill="#00e607"/><ellipse cx="113.90" cy="77.90" rx="50.71" ry="48.54" fill="#00e60e"/><ellipse cx="113.90" cy="77.90" rx="50.61" ry="48.44" fill="#00e624"/><ellipse cx="113.90" cy="77.90" rx="50.51" ry="48.35" fill="#00e762"/><ellipse cx="113.90" cy="77.90" rx="50.41" ry="48.26" fill="#00edb1"/><ellipse cx="113.90" cy="77.90" rx="50.31" ry="48.16" fill="#00eee2"/><ellipse cx="113.90" cy="77.90" rx="50.21" ry="48.07" fill="#00ccff"/><ellipse cx="113.90" cy="77.90" rx="50.11" ry="47.97" fill="#00a2ff"/><ellipse cx="113.90" cy="77.90" rx="50.02" ry="47.88" fill="#0076ff"/><ellipse cx="113.90" cy="77.90" rx="49.92" ry="47.78" fill="#004bfd"/><ellipse cx="113.90" cy="77.90" rx="49.82" ry="47.69" fill="#0037fb"/><ellipse cx="113.90" cy="77.90" rx="49.72" ry="47.60" fill="#0024fa"/><ellipse cx="113.90" cy="77.90" rx="49.42" ry="47.31" fill="#0037fb"/><ellipse cx="113.90" cy="77.90" rx="49.33" ry="47.22" fill="#004bfd"/><ellipse cx="113.90" cy="77.90" rx="49.23" ry="47.12" fill="#0076ff"/><ellipse cx="113.90" cy="77.90" rx="49.13" ry="47.03" fill="#00a2ff"/><ellipse cx="113.90" cy="77.90" rx="49.03" ry="46.94" fill="#00b7ff"/><ellipse cx="113.90" cy="77.90" rx="48.93" ry="46.84" fill="#00ecf5"/><ellipse cx="113.90" cy="77.90" rx="48.83" ry="46.75" fill="#00f0cd"/><ellipse cx="113.90" cy="77.90" rx="48.73" ry="46.65" fill="#00eb96"/><ellipse cx="113.90" cy="77.90" rx="48.64" ry="46.56" fill="#00e644"/><ellipse cx="113.90" cy="77.90" rx="48.54" ry="46.46" fill="#00e613"/><ellipse cx="113.90" cy="77.90" rx="48.44" ry="46.37" fill="#00e60e"/><ellipse cx="113.90" cy="77.90" rx="48.34" ry="46.27" fill="#00e609"/><ellipse cx="113.90" cy="77.90" rx="48.24" ry="46.18" fill="#00e602"/><ellipse cx="113.90" cy="77.90" rx="48.14" ry="46.09" fill="#14e600"/><ellipse cx="113.90" cy="77.90" rx="48.04" ry="45.99" fill="#28e600"/><ellipse cx="113.90" cy="77.90" rx="47.95" ry="45.90" fill="#b6f200"/><ellipse cx="113.90" cy="77.90" rx="47.85" ry="45.80" fill="#e7fb00"/><ellipse cx="113.90" cy="77.90" rx="47.75" ry="45.71" fill="#ffe400"/><ellipse cx="113.90" cy="77.90" rx="47.65" ry="45.61" fill="#ffd200"/><ellipse cx="113.90" cy="77.90" rx="47.45" ry="45.43" fill="#ffc100"/><ellipse cx="113.90" cy="77.90" rx="47.16" ry="45.14" fill="#ffd200"/><ellipse cx="113.90" cy="77.90" rx="46.96" ry="44.95" fill="#ffe400"/><ellipse cx="113.90" cy="77.90" rx="46.86" ry="44.86" fill="#fff600"/><ellipse cx="113.90" cy="77.90" rx="46.76" ry="44.77" fill="#b6f200"/><ellipse cx="113.90" cy="77.90" rx="46.66" ry="44.67" fill="#72ec00"/><ellipse cx="113.90" cy="77.90" rx="46.57" ry="44.58" fill="#14e600"/><ellipse cx="113.90" cy="77.90" rx="46.47" ry="44.48" fill="#00e602"/><ellipse cx="113.90" cy="77.90" rx="46.37" ry="44.39" fill="#00e607"/><ellipse cx="113.90" cy="77.90" rx="46.27" ry="44.29" fill="#00e60c"/><ellipse cx="113.90" cy="77.90" rx="46.17" ry="44.20" fill="#00e610"/><ellipse cx="113.90" cy="77.90" rx="46.07" ry="44.10" fill="#00e624"/><ellipse cx="113.90" cy="77.90" rx="45.97" ry="44.01" fill="#00e762"/><ellipse cx="113.90" cy="77.90" rx="45.88" ry="43.92" fill="#00eb96"/><ellipse cx="113.90" cy="77.90" rx="45.78" ry="43.82" fill="#00f0cd"/><ellipse cx="113.90" cy="77.90" rx="45.68" ry="43.73" fill="#00ecf5"/><ellipse cx="113.90" cy="77.90" rx="45.58" ry="43.63" fill="#00ccff"/><ellipse cx="113.90" cy="77.90" rx="45.48" ry="43.54" fill="#00a2ff"/><ellipse cx="113.90" cy="77.90" rx="45.38" ry="43.44" fill="#008cff"/><ellipse cx="113.90" cy="77.90" rx="45.28" ry="43.35" fill="#0060ff"/><ellipse cx="113.90" cy="77.90" rx="45.19" ry="43.26" fill="#004bfd"/><ellipse cx="113.90" cy="77.90" rx="45.09" ry="43.16" fill="#0037fb"/><ellipse cx="113.90" cy="77.90" rx="44.99" ry="43.07" fill="#0024fa"/><ellipse cx="113.90" cy="77.90" rx="44.60" ry="42.69" fill="#0037fb"/><ellipse cx="113.90" cy="77.90" rx="44.50" ry="42.60" fill="#004bfd"/><ellipse cx="113.90" cy="77.90" rx="44.40" ry="42.50" fill="#0060ff"/><ellipse cx="113.90" cy="77.90" rx="44.30" ry="42.41" fill="#0076ff"/><ellipse cx="113.90" cy="77.90" rx="44.20" ry="42.31" fill="#00a2ff"/><ellipse cx="113.90" cy="77.90" rx="44.10" ry="42.22" fill="#00b7ff"/><ellipse cx="113.90" cy="77.90" rx="44.00" ry="42.12" fill="#00e1ff"/><ellipse cx="113.90" cy="77.90" rx="43.91" ry="42.03" fill="#00eee2"/><ellipse cx="113.90" cy="77.90" rx="43.81" ry="41.94" fill="#00f0cd"/><ellipse cx="113.90" cy="77.90" rx="43.71" ry="41.84" fill="#00eb96"/><ellipse cx="113.90" cy="77.90" rx="43.61" ry="41.75" fill="#00e97c"/><ellipse cx="113.90" cy="77.90" rx="43.51" ry="41.65" fill="#00e644"/><ellipse cx="113.90" cy="77.90" rx="43.41" ry="41.56" fill="#00e624"/><ellipse cx="113.90" cy="77.90" rx="43.31" ry="41.46" fill="#00e610"/><ellipse cx="113.90" cy="77.90" rx="43.22" ry="41.37" fill="#00e60e"/><ellipse cx="113.90" cy="77.90" rx="43.12" ry="41.27" fill="#00e609"/><ellipse cx="113.90" cy="77.90" rx="43.02" ry="41.18" fill="#00e607"/><ellipse cx="113.90" cy="77.90" rx="42.92" ry="41.09" fill="#00e605"/><ellipse cx="113.90" cy="77.90" rx="42.82" ry="40.99" fill="#00e602"/><ellipse cx="113.90" cy="77.90" rx="42.72" ry="40.90" fill="#00e600"/><ellipse cx="113.90" cy="77.90" rx="42.53" ry="40.71" fill="#14e600"/><ellipse cx="113.90" cy="77.90" rx="42.03" ry="40.24" fill="#00e600"/><ellipse cx="113.90" cy="77.90" rx="41.84" ry="40.05" fill="#00e602"/><ellipse cx="113.90" cy="77.90" rx="41.74" ry="39.95" fill="#00e605"/><ellipse cx="113.90" cy="77.90" rx="41.64" ry="39.86" fill="#00e607"/><ellipse cx="113.90" cy="77.90" rx="41.54" ry="39.77" fill="#00e609"/><ellipse cx="113.90" cy="77.90" rx="41.44" ry="39.67" fill="#00e60c"/><ellipse cx="113.90" cy="77.90" rx="41.34" ry="39.58" fill="#00e60e"/><ellipse cx="113.90" cy="77.90" rx="41.24" ry="39.48" fill="#00e613"/><ellipse cx="113.90" cy="77.90" rx="41.15" ry="39.39" fill="#00e624"/><ellipse cx="113.90" cy="77.90" rx="41.05" ry="39.29" fill="#00e644"/><ellipse cx="113.90" cy="77.90" rx="40.95" ry="39.20" fill="#00e97c"/><ellipse cx="113.90" cy="77.90" rx="40.85" ry="39.10" fill="#00eb96"/><ellipse cx="113.90" cy="77.90" rx="40.75" ry="39.01" fill="#00f0cd"/><ellipse cx="113.90" cy="77.90" rx="40.65" ry="38.92" fill="#00eee2"/><ellipse cx="113.90" cy="77.90" rx="40.55" ry="38.82" fill="#00e1ff"/><ellipse cx="113.90" cy="77.90" rx="40.46" ry="38.73" fill="#00ccff"/><ellipse cx="113.90" cy="77.90" rx="40.36" ry="38.63" fill="#00a2ff"/><ellipse cx="113.90" cy="77.90" rx="40.26" ry="38.54" fill="#008cff"/><ellipse cx="113.90" cy="77.90" rx="40.16" ry="38.44" fill="#0076ff"/><ellipse cx="113.90" cy="77.90" rx="40.06" ry="38.35" fill="#0060ff"/><ellipse cx="113.90" cy="77.90" rx="39.96" ry="38.26" fill="#004bfd"/><ellipse cx="113.90" cy="77.90" rx="39.86" ry="38.16" fill="#0037fb"/><ellipse cx="113.90" cy="77.90" rx="39.77" ry="38.07" fill="#0024fa"/><ellipse cx="113.90" cy="77.90" rx="39.27" ry="37.60" fill="#0037fb"/><ellipse cx="113.90" cy="77.90" rx="39.08" ry="37.41" fill="#004bfd"/><ellipse cx="113.90" cy="77.90" rx="38.98" ry="37.31" fill="#0060ff"/><ellipse cx="113.90" cy="77.90" rx="38.88" ry="37.22" fill="#0076ff"/><ellipse cx="113.90" cy="77.90" rx="38.78" ry="37.12" fill="#008cff"/><ellipse cx="113.90" cy="77.90" rx="38.68" ry="37.03" fill="#00b7ff"/><ellipse cx="113.90" cy="77.90" rx="38.58" ry="36.93" fill="#00ccff"/><ellipse cx="113.90" cy="77.90" rx="38.48" ry="36.84" fill="#00e1ff"/><ellipse cx="113.90" cy="77.90" rx="38.39" ry="36.75" fill="#00ecf5"/><ellipse cx="113.90" cy="77.90" rx="38.29" ry="36.65" fill="#00f0cd"/><ellipse cx="113.90" cy="77.90" rx="38.19" ry="36.56" fill="#00edb1"/><ellipse cx="113.90" cy="77.90" rx="38.09" ry="36.46" fill="#00eb96"/><ellipse cx="113.90" cy="77.90" rx="37.99" ry="36.37" fill="#00e762"/><ellipse cx="113.90" cy="77.90" rx="37.89" ry="36.27" fill="#00e644"/><ellipse cx="113.90" cy="77.90" rx="37.79" ry="36.18" fill="#00e624"/><ellipse cx="113.90" cy="77.90" rx="37.70" ry="36.09" fill="#00e613"/><ellipse cx="113.90" cy="77.90" rx="37.60" ry="35.99" fill="#00e610"/><ellipse cx="113.90" cy="77.90" rx="37.50" ry="35.90" fill="#00e60e"/><ellipse cx="113.90" cy="77.90" rx="37.40" ry="35.80" fill="#00e60c"/><ellipse cx="113.90" cy="77.90" rx="37.30" ry="35.71" fill="#00e609"/><ellipse cx="113.90" cy="77.90" rx="37.11" ry="35.52" fill="#00e607"/><ellipse cx="113.90" cy="77.90" rx="36.91" ry="35.33" fill="#00e605"/><ellipse cx="113.90" cy="77.90" rx="36.32" ry="34.77" fill="#00e607"/><ellipse cx="113.90" cy="77.90" rx="36.12" ry="34.58" fill="#00e609"/><ellipse cx="113.90" cy="77.90" rx="35.92" ry="34.39" fill="#00e60c"/><ellipse cx="113.90" cy="77.90" rx="35.82" ry="34.29" fill="#00e60e"/><ellipse cx="113.90" cy="77.90" rx="35.73" ry="34.20" fill="#00e610"/><ellipse cx="113.90" cy="77.90" rx="35.63" ry="34.10" fill="#00e613"/><ellipse cx="113.90" cy="77.90" rx="35.53" ry="34.01" fill="#00e624"/><ellipse cx="113.90" cy="77.90" rx="35.43" ry="33.92" fill="#00e644"/><ellipse cx="113.90" cy="77.90" rx="35.33" ry="33.82" fill="#00e762"/><ellipse cx="113.90" cy="77.90" rx="35.23" ry="33.73" fill="#00e97c"/><ellipse cx="113.90" cy="77.90" rx="35.13" ry="33.63" fill="#00eb96"/><ellipse cx="113.90" cy="77.90" rx="35.04" ry="33.54" fill="#00edb1"/><ellipse cx="113.90" cy="77.90" rx="34.94" ry="33.44" fill="#00f0cd"/><ellipse cx="113.90" cy="77.90" rx="34.84" ry="33.35" fill="#00eee2"/><ellipse cx="113.90" cy="77.90" rx="34.74" ry="33.26" fill="#00e1ff"/><ellipse cx="113.90" cy="77.90" rx="34.64" ry="33.16" fill="#00ccff"/><ellipse cx="113.90" cy="77.90" rx="34.54" ry="33.07" fill="#00b7ff"/><ellipse cx="113.90" cy="77.90" rx="34.44" ry="32.97" fill="#00a2ff"/><ellipse cx="113.90" cy="77.90" rx="34.35" ry="32.88" fill="#008cff"/><ellipse cx="113.90" cy="77.90" rx="34.25" ry="32.78" fill="#0076ff"/><ellipse cx="113.90" cy="77.90" rx="34.15" ry="32.69" fill="#0060ff"/><ellipse cx="113.90" cy="77.90" rx="34.05" ry="32.60" fill="#004bfd"/><ellipse cx="113.90" cy="77.90" rx="33.95" ry="32.50" fill="#0037fb"/><ellipse cx="113.90" cy="77.90" rx="33.75" ry="32.31" fill="#0024fa"/><ellipse cx="113.90" cy="77.90" rx="33.46" ry="32.03" fill="#0013fb"/><ellipse cx="113.90" cy="77.90" rx="33.26" ry="31.84" fill="#0024fa"/><ellipse cx="113.90" cy="77.90" rx="33.06" ry="31.65" fill="#0037fb"/><ellipse cx="113.90" cy="77.90" rx="32.87" ry="31.46" fill="#004bfd"/><ellipse cx="113.90" cy="77.90" rx="32.77" ry="31.37" fill="#0060ff"/><ellipse cx="113.90" cy="77.90" rx="32.67" ry="31.27" fill="#0076ff"/><ellipse cx="113.90" cy="77.90" rx="32.47" ry="31.09" fill="#008cff"/><ellipse cx="113.90" cy="77.90" rx="32.37" ry="30.99" fill="#00a2ff"/><ellipse cx="113.90" cy="77.90" rx="32.28" ry="30.90" fill="#00b7ff"/><ellipse cx="113.90" cy="77.90" rx="32.18" ry="30.80" fill="#00ccff"/><ellipse cx="113.90" cy="77.90" rx="32.08" ry="30.71" fill="#00e1ff"/><ellipse cx="113.90" cy="77.90" rx="31.98" ry="30.61" fill="#00ecf5"/><ellipse cx="113.90" cy="77.90" rx="31.88" ry="30.52" fill="#00eee2"/><ellipse cx="113.90" cy="77.90" rx="31.78" ry="30.43" fill="#00f0cd"/><ellipse cx="113.90" cy="77.90" rx="31.68" ry="30.33" fill="#00edb1"/><ellipse cx="113.90" cy="77.90" rx="31.59" ry="30.24" fill="#00eb96"/><ellipse cx="113.90" cy="77.90" rx="31.49" ry="30.14" fill="#00e97c"/><ellipse cx="113.90" cy="77.90" rx="31.39" ry="30.05" fill="#00e762"/><ellipse cx="113.90" cy="77.90" rx="31.29" ry="29.95" fill="#00e644"/><ellipse cx="113.90" cy="77.90" rx="31.19" ry="29.86" fill="#00e624"/><ellipse cx="113.90" cy="77.90" rx="30.99" ry="29.67" fill="#00e613"/><ellipse cx="113.90" cy="77.90" rx="30.90" ry="29.58" fill="#00e610"/><ellipse cx="113.90" cy="77.90" rx="30.70" ry="29.39" fill="#00e60e"/><ellipse cx="113.90" cy="77.90" rx="30.50" ry="29.20" fill="#00e60c"/><ellipse cx="113.90" cy="77.90" rx="30.11" ry="28.82" fill="#00e609"/><ellipse cx="113.90" cy="77.90" rx="29.71" ry="28.44" fill="#00e60c"/><ellipse cx="113.90" cy="77.90" rx="29.42" ry="28.16" fill="#00e60e"/><ellipse cx="113.90" cy="77.90" rx="29.22" ry="27.97" fill="#00e610"/><ellipse cx="113.90" cy="77.90" rx="29.02" ry="27.78" fill="#00e613"/><ellipse cx="113.90" cy="77.90" rx="28.93" ry="27.69" fill="#00e624"/><ellipse cx="113.90" cy="77.90" rx="28.73" ry="27.50" fill="#00e644"/><ellipse cx="113.90" cy="77.90" rx="28.63" ry="27.41" fill="#00e762"/><ellipse cx="113.90" cy="77.90" rx="28.53" ry="27.31" fill="#00e97c"/><ellipse cx="113.90" cy="77.90" rx="28.33" ry="27.12" fill="#00eb96"/><ellipse cx="113.90" cy="77.90" rx="28.24" ry="27.03" fill="#00edb1"/><ellipse cx="113.90" cy="77.90" rx="28.14" ry="26.93" fill="#00f0cd"/><ellipse cx="113.90" cy="77.90" rx="28.04" ry="26.84" fill="#00eee2"/><ellipse cx="113.90" cy="77.90" rx="27.94" ry="26.75" fill="#00ecf5"/><ellipse cx="113.90" cy="77.90" rx="27.84" ry="26.65" fill="#00e1ff"/><ellipse cx="113.90" cy="77.90" rx="27.64" ry="26.46" fill="#00ccff"/><ellipse cx="113.90" cy="77.90" rx="27.55" ry="26.37" fill="#00b7ff"/><ellipse cx="113.90" cy="77.90" rx="27.45" ry="26.27" fill="#00a2ff"/><ellipse cx="113.90" cy="77.90" rx="27.35" ry="26.18" fill="#008cff"/><ellipse cx="113.90" cy="77.90" rx="27.15" ry="25.99" fill="#0076ff"/><ellipse cx="113.90" cy="77.90" rx="27.05" ry="25.90" fill="#0060ff"/><ellipse cx="113.90" cy="77.90" rx="26.86" ry="25.71" fill="#004bfd"/><ellipse cx="113.90" cy="77.90" rx="26.66" ry="25.52" fill="#0037fb"/><ellipse cx="113.90" cy="77.90" rx="26.46" ry="25.33" fill="#0024fa"/><ellipse cx="113.90" cy="77.90" rx="26.17" ry="25.05" fill="#0013fb"/><ellipse cx="113.90" cy="77.90" rx="25.67" ry="24.58" fill="#0024fa"/><rect x="88.52" y="53.61" width="50.75" height="48.59" rx="25.11" ry="24.04" fill="#0037fb"/><rect x="88.82" y="53.89" width="50.16" height="48.02" rx="24.51" ry="23.46" fill="#004bfd"/><rect x="89.02" y="54.08" width="49.77" height="47.64" rx="24.11" ry="23.08" fill="#0060ff"/><rect x="89.21" y="54.27" width="49.37" height="47.27" rx="23.71" ry="22.70" fill="#0076ff"/><rect x="89.41" y="54.46" width="48.98" height="46.89" rx="23.32" ry="22.32" fill="#008cff"/><rect x="89.61" y="54.64" width="48.59" height="46.51" rx="22.93" ry="21.95" fill="#00a2ff"/><rect x="89.80" y="54.83" width="48.19" height="46.13" rx="22.54" ry="21.58" fill="#00b7ff"/><rect x="90.10" y="55.12" width="47.60" height="45.57" rx="21.97" ry="21.03" fill="#00ccff"/><rect x="90.30" y="55.31" width="47.21" height="45.19" rx="21.59" ry="20.66" fill="#00e1ff"/><rect x="90.59" y="55.59" width="46.62" height="44.62" rx="21.03" ry="20.13" fill="#00ecf5"/><rect x="90.89" y="55.87" width="46.02" height="44.06" rx="20.19" ry="19.33" fill="#00eee2"/><rect x="91.28" y="56.25" width="45.24" height="43.30" rx="19.03" ry="18.22" fill="#00f0cd"/><rect x="92.86" y="57.76" width="42.08" height="40.28" rx="14.97" ry="14.33" fill="#00eee2"/><rect x="93.25" y="58.14" width="41.29" height="39.53" rx="14.42" ry="13.80" fill="#00ecf5"/><rect x="93.65" y="58.51" width="40.51" height="38.77" rx="13.87" ry="13.28" fill="#00e1ff"/><rect x="94.04" y="58.89" width="39.72" height="38.02" rx="13.34" ry="12.77" fill="#00ccff"/><rect x="94.34" y="59.17" width="39.13" height="37.45" rx="12.94" ry="12.39" fill="#00b7ff"/><rect x="94.63" y="59.46" width="38.53" height="36.89" rx="14.35" ry="13.74" fill="#00a2ff"/><rect x="94.93" y="59.74" width="37.94" height="36.32" rx="16.07" ry="15.38" fill="#008cff"/><rect x="95.22" y="60.02" width="37.35" height="35.76" rx="17.72" ry="16.97" fill="#0076ff"/><ellipse cx="113.90" cy="77.90" rx="18.38" ry="17.59" fill="#0060ff"/><ellipse cx="113.90" cy="77.90" rx="17.89" ry="17.12" fill="#004bfd"/><ellipse cx="113.90" cy="77.90" rx="17.30" ry="16.56" fill="#0037fb"/><ellipse cx="113.90" cy="77.90" rx="16.80" ry="16.09" fill="#0024fa"/><ellipse cx="113.90" cy="77.90" rx="15.72" ry="15.05" fill="#0013fb"/><ellipse cx="113.90" cy="77.90" rx="14.83" ry="14.20" fill="#0005fa"/><ellipse cx="113.90" cy="77.90" rx="10.79" ry="10.33" fill="#0013fb"/><ellipse cx="113.90" cy="77.90" rx="5.67" ry="5.42" fill="#0005fa"/></g><g stroke="#0a0a30" stroke-width="0.90" stroke-dasharray="2.4 2.6" fill="none" opacity="0.85"><line x1="78.42" y1="111.86" x2="78.42" y2="153.37"/><line x1="78.42" y1="59.03" x2="78.42" y2="96.77"/><line x1="78.42" y1="2.43" x2="78.42" y2="43.94"/><line x1="94.19" y1="111.86" x2="94.19" y2="153.37"/><line x1="94.19" y1="59.03" x2="94.19" y2="96.77"/><line x1="94.19" y1="2.43" x2="94.19" y2="43.94"/><line x1="133.61" y1="111.86" x2="133.61" y2="153.37"/><line x1="133.61" y1="59.03" x2="133.61" y2="96.77"/><line x1="133.61" y1="2.43" x2="133.61" y2="43.94"/><line x1="149.38" y1="111.86" x2="149.38" y2="153.37"/><line x1="149.38" y1="59.03" x2="149.38" y2="96.77"/><line x1="149.38" y1="2.43" x2="149.38" y2="43.94"/><line x1="35.06" y1="111.86" x2="78.42" y2="111.86"/><line x1="94.19" y1="111.86" x2="133.61" y2="111.86"/><line x1="149.38" y1="111.86" x2="192.74" y2="111.86"/><line x1="35.06" y1="96.77" x2="78.42" y2="96.77"/><line x1="94.19" y1="96.77" x2="133.61" y2="96.77"/><line x1="149.38" y1="96.77" x2="192.74" y2="96.77"/><line x1="35.06" y1="59.03" x2="78.42" y2="59.03"/><line x1="94.19" y1="59.03" x2="133.61" y2="59.03"/><line x1="149.38" y1="59.03" x2="192.74" y2="59.03"/><line x1="35.06" y1="43.94" x2="78.42" y2="43.94"/><line x1="94.19" y1="43.94" x2="133.61" y2="43.94"/><line x1="149.38" y1="43.94" x2="192.74" y2="43.94"/></g></g><g clip-path="url(#cpb)"><g><ellipse cx="395.55" cy="78.50" rx="114.75" ry="110.25" fill="#00a2ff"/><ellipse cx="395.55" cy="78.50" rx="114.65" ry="110.15" fill="#008cff"/><ellipse cx="395.55" cy="78.50" rx="114.55" ry="110.06" fill="#0060ff"/><ellipse cx="395.55" cy="78.50" rx="114.46" ry="109.96" fill="#004bfd"/><ellipse cx="395.55" cy="78.50" rx="114.36" ry="109.87" fill="#0037fb"/><ellipse cx="395.55" cy="78.50" rx="114.26" ry="109.77" fill="#0013fb"/><ellipse cx="395.55" cy="78.50" rx="114.16" ry="109.68" fill="#0005fa"/><ellipse cx="395.55" cy="78.50" rx="113.76" ry="109.30" fill="#0013fb"/><ellipse cx="395.55" cy="78.50" rx="113.66" ry="109.20" fill="#0024fa"/><ellipse cx="395.55" cy="78.50" rx="113.57" ry="109.11" fill="#0037fb"/><ellipse cx="395.55" cy="78.50" rx="113.47" ry="109.01" fill="#0060ff"/><ellipse cx="395.55" cy="78.50" rx="113.37" ry="108.92" fill="#0076ff"/><ellipse cx="395.55" cy="78.50" rx="113.27" ry="108.82" fill="#008cff"/><ellipse cx="395.55" cy="78.50" rx="113.17" ry="108.73" fill="#00a2ff"/><ellipse cx="395.55" cy="78.50" rx="113.07" ry="108.63" fill="#00b7ff"/><ellipse cx="395.55" cy="78.50" rx="112.58" ry="108.16" fill="#00a2ff"/><ellipse cx="395.55" cy="78.50" rx="112.48" ry="108.06" fill="#008cff"/><ellipse cx="395.55" cy="78.50" rx="112.38" ry="107.97" fill="#0076ff"/><ellipse cx="395.55" cy="78.50" rx="112.28" ry="107.87" fill="#004bfd"/><ellipse cx="395.55" cy="78.50" rx="112.18" ry="107.78" fill="#0037fb"/><ellipse cx="395.55" cy="78.50" rx="112.08" ry="107.68" fill="#0024fa"/><ellipse cx="395.55" cy="78.50" rx="111.98" ry="107.59" fill="#0013fb"/><ellipse cx="395.55" cy="78.50" rx="111.88" ry="107.49" fill="#0005fa"/><ellipse cx="395.55" cy="78.50" rx="111.49" ry="107.11" fill="#0013fb"/><ellipse cx="395.55" cy="78.50" rx="111.39" ry="107.02" fill="#0037fb"/><ellipse cx="395.55" cy="78.50" rx="111.29" ry="106.92" fill="#004bfd"/><ellipse cx="395.55" cy="78.50" rx="111.19" ry="106.83" fill="#0060ff"/><ellipse cx="395.55" cy="78.50" rx="111.09" ry="106.73" fill="#008cff"/><ellipse cx="395.55" cy="78.50" rx="110.99" ry="106.64" fill="#00a2ff"/><ellipse cx="395.55" cy="78.50" rx="110.90" ry="106.54" fill="#00b7ff"/><ellipse cx="395.55" cy="78.50" rx="110.60" ry="106.26" fill="#00ccff"/><ellipse cx="395.55" cy="78.50" rx="110.50" ry="106.16" fill="#00b7ff"/><ellipse cx="395.55" cy="78.50" rx="110.30" ry="105.97" fill="#00a2ff"/><ellipse cx="395.55" cy="78.50" rx="110.20" ry="105.88" fill="#008cff"/><ellipse cx="395.55" cy="78.50" rx="110.10" ry="105.78" fill="#0060ff"/><ellipse cx="395.55" cy="78.50" rx="110.01" ry="105.69" fill="#004bfd"/><ellipse cx="395.55" cy="78.50" rx="109.91" ry="105.59" fill="#0037fb"/><ellipse cx="395.55" cy="78.50" rx="109.81" ry="105.50" fill="#0024fa"/><ellipse cx="395.55" cy="78.50" rx="109.71" ry="105.40" fill="#0013fb"/><ellipse cx="395.55" cy="78.50" rx="109.61" ry="105.31" fill="#0005fa"/><ellipse cx="395.55" cy="78.50" rx="109.31" ry="105.02" fill="#0013fb"/><ellipse cx="395.55" cy="78.50" rx="109.21" ry="104.93" fill="#0024fa"/><ellipse cx="395.55" cy="78.50" rx="109.12" ry="104.83" fill="#0037fb"/><ellipse cx="395.55" cy="78.50" rx="109.02" ry="104.74" fill="#004bfd"/><ellipse cx="395.55" cy="78.50" rx="108.92" ry="104.64" fill="#0076ff"/><ellipse cx="395.55" cy="78.50" rx="108.82" ry="104.55" fill="#008cff"/><ellipse cx="395.55" cy="78.50" rx="108.72" ry="104.45" fill="#00a2ff"/><ellipse cx="395.55" cy="78.50" rx="108.62" ry="104.36" fill="#00b7ff"/><ellipse cx="395.55" cy="78.50" rx="108.52" ry="104.26" fill="#00ccff"/><ellipse cx="395.55" cy="78.50" rx="108.13" ry="103.88" fill="#00b7ff"/><ellipse cx="395.55" cy="78.50" rx="108.03" ry="103.79" fill="#00a2ff"/><ellipse cx="395.55" cy="78.50" rx="107.93" ry="103.69" fill="#008cff"/><ellipse cx="395.55" cy="78.50" rx="107.83" ry="103.60" fill="#0076ff"/><ellipse cx="395.55" cy="78.50" rx="107.73" ry="103.50" fill="#0060ff"/><ellipse cx="395.55" cy="78.50" rx="107.63" ry="103.41" fill="#0037fb"/><ellipse cx="395.55" cy="78.50" rx="107.53" ry="103.31" fill="#0024fa"/><ellipse cx="395.55" cy="78.50" rx="107.43" ry="103.22" fill="#0013fb"/><ellipse cx="395.55" cy="78.50" rx="107.34" ry="103.12" fill="#0005fa"/><ellipse cx="395.55" cy="78.50" rx="107.04" ry="102.84" fill="#0013fb"/><ellipse cx="395.55" cy="78.50" rx="106.94" ry="102.74" fill="#0024fa"/><ellipse cx="395.55" cy="78.50" rx="106.84" ry="102.65" fill="#0037fb"/><ellipse cx="395.55" cy="78.50" rx="106.74" ry="102.55" fill="#004bfd"/><ellipse cx="395.55" cy="78.50" rx="106.64" ry="102.46" fill="#0076ff"/><ellipse cx="395.55" cy="78.50" rx="106.54" ry="102.36" fill="#008cff"/><ellipse cx="395.55" cy="78.50" rx="106.45" ry="102.27" fill="#00a2ff"/><ellipse cx="395.55" cy="78.50" rx="106.35" ry="102.17" fill="#00b7ff"/><ellipse cx="395.55" cy="78.50" rx="106.25" ry="102.08" fill="#00ccff"/><ellipse cx="395.55" cy="78.50" rx="106.15" ry="101.98" fill="#00e1ff"/><ellipse cx="395.55" cy="78.50" rx="105.85" ry="101.70" fill="#00ccff"/><ellipse cx="395.55" cy="78.50" rx="105.75" ry="101.60" fill="#00b7ff"/><ellipse cx="395.55" cy="78.50" rx="105.65" ry="101.51" fill="#00a2ff"/><ellipse cx="395.55" cy="78.50" rx="105.56" ry="101.41" fill="#008cff"/><ellipse cx="395.55" cy="78.50" rx="105.46" ry="101.32" fill="#0076ff"/><ellipse cx="395.55" cy="78.50" rx="105.36" ry="101.22" fill="#004bfd"/><ellipse cx="395.55" cy="78.50" rx="105.26" ry="101.13" fill="#0037fb"/><ellipse cx="395.55" cy="78.50" rx="105.16" ry="101.03" fill="#0024fa"/><ellipse cx="395.55" cy="78.50" rx="105.06" ry="100.94" fill="#0013fb"/><ellipse cx="395.55" cy="78.50" rx="104.96" ry="100.84" fill="#0005fa"/><ellipse cx="395.55" cy="78.50" rx="104.67" ry="100.56" fill="#0013fb"/><ellipse cx="395.55" cy="78.50" rx="104.57" ry="100.46" fill="#0024fa"/><ellipse cx="395.55" cy="78.50" rx="104.47" ry="100.37" fill="#004bfd"/><ellipse cx="395.55" cy="78.50" rx="104.37" ry="100.27" fill="#0060ff"/><ellipse cx="395.55" cy="78.50" rx="104.27" ry="100.18" fill="#008cff"/><ellipse cx="395.55" cy="78.50" rx="104.17" ry="100.08" fill="#00a2ff"/><ellipse cx="395.55" cy="78.50" rx="104.07" ry="99.99" fill="#00b7ff"/><ellipse cx="395.55" cy="78.50" rx="103.97" ry="99.89" fill="#00ccff"/><ellipse cx="395.55" cy="78.50" rx="103.88" ry="99.80" fill="#00e1ff"/><ellipse cx="395.55" cy="78.50" rx="103.48" ry="99.42" fill="#00ccff"/><ellipse cx="395.55" cy="78.50" rx="103.28" ry="99.23" fill="#00a2ff"/><ellipse cx="395.55" cy="78.50" rx="103.18" ry="99.13" fill="#008cff"/><ellipse cx="395.55" cy="78.50" rx="103.08" ry="99.04" fill="#0076ff"/><ellipse cx="395.55" cy="78.50" rx="102.99" ry="98.94" fill="#004bfd"/><ellipse cx="395.55" cy="78.50" rx="102.89" ry="98.85" fill="#0037fb"/><ellipse cx="395.55" cy="78.50" rx="102.79" ry="98.75" fill="#0024fa"/><ellipse cx="395.55" cy="78.50" rx="102.69" ry="98.66" fill="#0013fb"/><ellipse cx="395.55" cy="78.50" rx="102.59" ry="98.56" fill="#0005fa"/><ellipse cx="395.55" cy="78.50" rx="102.29" ry="98.28" fill="#0013fb"/><ellipse cx="395.55" cy="78.50" rx="102.19" ry="98.18" fill="#0024fa"/><ellipse cx="395.55" cy="78.50" rx="102.10" ry="98.09" fill="#004bfd"/><ellipse cx="395.55" cy="78.50" rx="102.00" ry="97.99" fill="#0060ff"/><ellipse cx="395.55" cy="78.50" rx="101.90" ry="97.90" fill="#008cff"/><ellipse cx="395.55" cy="78.50" rx="101.80" ry="97.80" fill="#00a2ff"/><ellipse cx="395.55" cy="78.50" rx="101.70" ry="97.71" fill="#00b7ff"/><ellipse cx="395.55" cy="78.50" rx="101.60" ry="97.61" fill="#00ccff"/><ellipse cx="395.55" cy="78.50" rx="101.50" ry="97.52" fill="#00e1ff"/><ellipse cx="395.55" cy="78.50" rx="101.40" ry="97.42" fill="#00ecf5"/><ellipse cx="395.55" cy="78.50" rx="101.11" ry="97.14" fill="#00e1ff"/><ellipse cx="395.55" cy="78.50" rx="101.01" ry="97.04" fill="#00ccff"/><ellipse cx="395.55" cy="78.50" rx="100.91" ry="96.95" fill="#00b7ff"/><ellipse cx="395.55" cy="78.50" rx="100.81" ry="96.85" fill="#00a2ff"/><ellipse cx="395.55" cy="78.50" rx="100.71" ry="96.76" fill="#008cff"/><ellipse cx="395.55" cy="78.50" rx="100.61" ry="96.66" fill="#0060ff"/><ellipse cx="395.55" cy="78.50" rx="100.51" ry="96.57" fill="#004bfd"/><ellipse cx="395.55" cy="78.50" rx="100.41" ry="96.47" fill="#0024fa"/><ellipse cx="395.55" cy="78.50" rx="100.32" ry="96.38" fill="#0013fb"/><ellipse cx="395.55" cy="78.50" rx="100.22" ry="96.28" fill="#0005fa"/><ellipse cx="395.55" cy="78.50" rx="99.92" ry="96.00" fill="#0013fb"/><ellipse cx="395.55" cy="78.50" rx="99.82" ry="95.90" fill="#0024fa"/><ellipse cx="395.55" cy="78.50" rx="99.72" ry="95.81" fill="#0037fb"/><ellipse cx="395.55" cy="78.50" rx="99.62" ry="95.71" fill="#0060ff"/><ellipse cx="395.55" cy="78.50" rx="99.52" ry="95.62" fill="#0076ff"/><ellipse cx="395.55" cy="78.50" rx="99.43" ry="95.52" fill="#00a2ff"/><ellipse cx="395.55" cy="78.50" rx="99.33" ry="95.43" fill="#00b7ff"/><ellipse cx="395.55" cy="78.50" rx="99.23" ry="95.33" fill="#00ccff"/><ellipse cx="395.55" cy="78.50" rx="99.13" ry="95.24" fill="#00e1ff"/><ellipse cx="395.55" cy="78.50" rx="99.03" ry="95.14" fill="#00ecf5"/><ellipse cx="395.55" cy="78.50" rx="98.83" ry="94.95" fill="#00eee2"/><ellipse cx="395.55" cy="78.50" rx="98.73" ry="94.86" fill="#00ecf5"/><ellipse cx="395.55" cy="78.50" rx="98.54" ry="94.67" fill="#00e1ff"/><ellipse cx="395.55" cy="78.50" rx="98.44" ry="94.57" fill="#00ccff"/><ellipse cx="395.55" cy="78.50" rx="98.34" ry="94.48" fill="#00a2ff"/><ellipse cx="395.55" cy="78.50" rx="98.24" ry="94.38" fill="#008cff"/><ellipse cx="395.55" cy="78.50" rx="98.14" ry="94.29" fill="#0060ff"/><ellipse cx="395.55" cy="78.50" rx="98.04" ry="94.19" fill="#004bfd"/><ellipse cx="395.55" cy="78.50" rx="97.94" ry="94.10" fill="#0037fb"/><ellipse cx="395.55" cy="78.50" rx="97.84" ry="94.00" fill="#0013fb"/><ellipse cx="395.55" cy="78.50" rx="97.65" ry="93.81" fill="#0005fa"/><ellipse cx="395.55" cy="78.50" rx="97.45" ry="93.62" fill="#0013fb"/><ellipse cx="395.55" cy="78.50" rx="97.35" ry="93.53" fill="#0024fa"/><ellipse cx="395.55" cy="78.50" rx="97.25" ry="93.43" fill="#004bfd"/><ellipse cx="395.55" cy="78.50" rx="97.15" ry="93.34" fill="#0060ff"/><ellipse cx="395.55" cy="78.50" rx="97.05" ry="93.24" fill="#008cff"/><ellipse cx="395.55" cy="78.50" rx="96.95" ry="93.15" fill="#00a2ff"/><ellipse cx="395.55" cy="78.50" rx="96.85" ry="93.05" fill="#00ccff"/><ellipse cx="395.55" cy="78.50" rx="96.76" ry="92.96" fill="#00e1ff"/><ellipse cx="395.55" cy="78.50" rx="96.66" ry="92.86" fill="#00ecf5"/><ellipse cx="395.55" cy="78.50" rx="96.56" ry="92.77" fill="#00eee2"/><ellipse cx="395.55" cy="78.50" rx="96.06" ry="92.29" fill="#00ecf5"/><ellipse cx="395.55" cy="78.50" rx="95.96" ry="92.20" fill="#00e1ff"/><ellipse cx="395.55" cy="78.50" rx="95.87" ry="92.10" fill="#00b7ff"/><ellipse cx="395.55" cy="78.50" rx="95.77" ry="92.01" fill="#00a2ff"/><ellipse cx="395.55" cy="78.50" rx="95.67" ry="91.91" fill="#0076ff"/><ellipse cx="395.55" cy="78.50" rx="95.57" ry="91.82" fill="#0060ff"/><ellipse cx="395.55" cy="78.50" rx="95.47" ry="91.72" fill="#0037fb"/><ellipse cx="395.55" cy="78.50" rx="95.37" ry="91.63" fill="#0024fa"/><ellipse cx="395.55" cy="78.50" rx="95.27" ry="91.53" fill="#0013fb"/><ellipse cx="395.55" cy="78.50" rx="95.17" ry="91.44" fill="#0005fa"/><ellipse cx="395.55" cy="78.50" rx="94.98" ry="91.25" fill="#0013fb"/><ellipse cx="395.55" cy="78.50" rx="94.88" ry="91.15" fill="#0024fa"/><ellipse cx="395.55" cy="78.50" rx="94.78" ry="91.06" fill="#0037fb"/><ellipse cx="395.55" cy="78.50" rx="94.68" ry="90.96" fill="#0060ff"/><ellipse cx="395.55" cy="78.50" rx="94.58" ry="90.87" fill="#0076ff"/><ellipse cx="395.55" cy="78.50" rx="94.48" ry="90.77" fill="#00a2ff"/><ellipse cx="395.55" cy="78.50" rx="94.38" ry="90.68" fill="#00b7ff"/><ellipse cx="395.55" cy="78.50" rx="94.28" ry="90.58" fill="#00e1ff"/><ellipse cx="395.55" cy="78.50" rx="94.18" ry="90.49" fill="#00ecf5"/><ellipse cx="395.55" cy="78.50" rx="94.09" ry="90.39" fill="#00eee2"/><ellipse cx="395.55" cy="78.50" rx="93.99" ry="90.30" fill="#00f0cd"/><ellipse cx="395.55" cy="78.50" rx="93.49" ry="89.82" fill="#00eee2"/><ellipse cx="395.55" cy="78.50" rx="93.39" ry="89.73" fill="#00e1ff"/><ellipse cx="395.55" cy="78.50" rx="93.29" ry="89.63" fill="#00ccff"/><ellipse cx="395.55" cy="78.50" rx="93.20" ry="89.54" fill="#00a2ff"/><ellipse cx="395.55" cy="78.50" rx="93.10" ry="89.44" fill="#008cff"/><ellipse cx="395.55" cy="78.50" rx="93.00" ry="89.35" fill="#0060ff"/><ellipse cx="395.55" cy="78.50" rx="92.90" ry="89.25" fill="#004bfd"/><ellipse cx="395.55" cy="78.50" rx="92.80" ry="89.16" fill="#0024fa"/><ellipse cx="395.55" cy="78.50" rx="92.70" ry="89.06" fill="#0013fb"/><ellipse cx="395.55" cy="78.50" rx="92.50" ry="88.87" fill="#0005fa"/><ellipse cx="395.55" cy="78.50" rx="92.40" ry="88.78" fill="#0013fb"/><ellipse cx="395.55" cy="78.50" rx="92.31" ry="88.68" fill="#0024fa"/><ellipse cx="395.55" cy="78.50" rx="92.21" ry="88.59" fill="#0037fb"/><ellipse cx="395.55" cy="78.50" rx="92.11" ry="88.49" fill="#0060ff"/><ellipse cx="395.55" cy="78.50" rx="92.01" ry="88.40" fill="#0076ff"/><ellipse cx="395.55" cy="78.50" rx="91.91" ry="88.30" fill="#00a2ff"/><ellipse cx="395.55" cy="78.50" rx="91.81" ry="88.21" fill="#00ccff"/><ellipse cx="395.55" cy="78.50" rx="91.71" ry="88.11" fill="#00e1ff"/><ellipse cx="395.55" cy="78.50" rx="91.61" ry="88.02" fill="#00eee2"/><ellipse cx="395.55" cy="78.50" rx="91.51" ry="87.92" fill="#00f0cd"/><ellipse cx="395.55" cy="78.50" rx="91.42" ry="87.83" fill="#00edb1"/><ellipse cx="395.55" cy="78.50" rx="90.92" ry="87.35" fill="#00f0cd"/><ellipse cx="395.55" cy="78.50" rx="90.82" ry="87.26" fill="#00eee2"/><ellipse cx="395.55" cy="78.50" rx="90.72" ry="87.16" fill="#00ecf5"/><ellipse cx="395.55" cy="78.50" rx="90.62" ry="87.07" fill="#00ccff"/><ellipse cx="395.55" cy="78.50" rx="90.53" ry="86.97" fill="#00a2ff"/><ellipse cx="395.55" cy="78.50" rx="90.43" ry="86.88" fill="#008cff"/><ellipse cx="395.55" cy="78.50" rx="90.33" ry="86.78" fill="#0060ff"/><ellipse cx="395.55" cy="78.50" rx="90.23" ry="86.69" fill="#0037fb"/><ellipse cx="395.55" cy="78.50" rx="90.13" ry="86.59" fill="#0024fa"/><ellipse cx="395.55" cy="78.50" rx="90.03" ry="86.50" fill="#0013fb"/><ellipse cx="395.55" cy="78.50" rx="89.64" ry="86.12" fill="#0037fb"/><ellipse cx="395.55" cy="78.50" rx="89.54" ry="86.02" fill="#004bfd"/><ellipse cx="395.55" cy="78.50" rx="89.44" ry="85.93" fill="#0076ff"/><ellipse cx="395.55" cy="78.50" rx="89.34" ry="85.83" fill="#008cff"/><ellipse cx="395.55" cy="78.50" rx="89.24" ry="85.74" fill="#00b7ff"/><ellipse cx="395.55" cy="78.50" rx="89.14" ry="85.64" fill="#00e1ff"/><ellipse cx="395.55" cy="78.50" rx="89.04" ry="85.55" fill="#00eee2"/><ellipse cx="395.55" cy="78.50" rx="88.94" ry="85.45" fill="#00f0cd"/><ellipse cx="395.55" cy="78.50" rx="88.85" ry="85.36" fill="#00edb1"/><ellipse cx="395.55" cy="78.50" rx="88.75" ry="85.26" fill="#00eb96"/><ellipse cx="395.55" cy="78.50" rx="88.65" ry="85.17" fill="#00e97c"/><ellipse cx="395.55" cy="78.50" rx="88.25" ry="84.79" fill="#00eb96"/><ellipse cx="395.55" cy="78.50" rx="88.15" ry="84.69" fill="#00edb1"/><ellipse cx="395.55" cy="78.50" rx="88.05" ry="84.60" fill="#00eee2"/><ellipse cx="395.55" cy="78.50" rx="87.96" ry="84.50" fill="#00e1ff"/><ellipse cx="395.55" cy="78.50" rx="87.86" ry="84.41" fill="#00ccff"/><ellipse cx="395.55" cy="78.50" rx="87.76" ry="84.31" fill="#00a2ff"/><ellipse cx="395.55" cy="78.50" rx="87.66" ry="84.22" fill="#0076ff"/><ellipse cx="395.55" cy="78.50" rx="87.56" ry="84.12" fill="#004bfd"/><ellipse cx="395.55" cy="78.50" rx="87.46" ry="84.03" fill="#0037fb"/><ellipse cx="395.55" cy="78.50" rx="87.36" ry="83.93" fill="#0024fa"/><ellipse cx="395.55" cy="78.50" rx="87.26" ry="83.84" fill="#0013fb"/><ellipse cx="395.55" cy="78.50" rx="86.97" ry="83.55" fill="#0024fa"/><ellipse cx="395.55" cy="78.50" rx="86.87" ry="83.46" fill="#004bfd"/><ellipse cx="395.55" cy="78.50" rx="86.77" ry="83.36" fill="#0060ff"/><ellipse cx="395.55" cy="78.50" rx="86.67" ry="83.27" fill="#008cff"/><ellipse cx="395.55" cy="78.50" rx="86.57" ry="83.17" fill="#00b7ff"/><ellipse cx="395.55" cy="78.50" rx="86.47" ry="83.08" fill="#00e1ff"/><ellipse cx="395.55" cy="78.50" rx="86.37" ry="82.98" fill="#00eee2"/><ellipse cx="395.55" cy="78.50" rx="86.27" ry="82.89" fill="#00edb1"/><ellipse cx="395.55" cy="78.50" rx="86.18" ry="82.79" fill="#00eb96"/><ellipse cx="395.55" cy="78.50" rx="86.08" ry="82.70" fill="#00e762"/><ellipse cx="395.55" cy="78.50" rx="85.88" ry="82.51" fill="#00e644"/><ellipse cx="395.55" cy="78.50" rx="85.58" ry="82.22" fill="#00e762"/><ellipse cx="395.55" cy="78.50" rx="85.48" ry="82.13" fill="#00e97c"/><ellipse cx="395.55" cy="78.50" rx="85.38" ry="82.03" fill="#00eb96"/><ellipse cx="395.55" cy="78.50" rx="85.29" ry="81.94" fill="#00f0cd"/><ellipse cx="395.55" cy="78.50" rx="85.19" ry="81.84" fill="#00eee2"/><ellipse cx="395.55" cy="78.50" rx="85.09" ry="81.75" fill="#00e1ff"/><ellipse cx="395.55" cy="78.50" rx="84.99" ry="81.65" fill="#00b7ff"/><ellipse cx="395.55" cy="78.50" rx="84.89" ry="81.56" fill="#008cff"/><ellipse cx="395.55" cy="78.50" rx="84.79" ry="81.46" fill="#0060ff"/><ellipse cx="395.55" cy="78.50" rx="84.69" ry="81.37" fill="#0037fb"/><ellipse cx="395.55" cy="78.50" rx="84.59" ry="81.27" fill="#0024fa"/><ellipse cx="395.55" cy="78.50" rx="84.49" ry="81.18" fill="#0013fb"/><ellipse cx="395.55" cy="78.50" rx="84.20" ry="80.89" fill="#0024fa"/><ellipse cx="395.55" cy="78.50" rx="84.10" ry="80.80" fill="#004bfd"/><ellipse cx="395.55" cy="78.50" rx="84.00" ry="80.70" fill="#0076ff"/><ellipse cx="395.55" cy="78.50" rx="83.90" ry="80.61" fill="#00a2ff"/><ellipse cx="395.55" cy="78.50" rx="83.80" ry="80.51" fill="#00ccff"/><ellipse cx="395.55" cy="78.50" rx="83.70" ry="80.42" fill="#00ecf5"/><ellipse cx="395.55" cy="78.50" rx="83.60" ry="80.32" fill="#00f0cd"/><ellipse cx="395.55" cy="78.50" rx="83.51" ry="80.23" fill="#00eb96"/><ellipse cx="395.55" cy="78.50" rx="83.41" ry="80.13" fill="#00e97c"/><ellipse cx="395.55" cy="78.50" rx="83.31" ry="80.04" fill="#00e644"/><ellipse cx="395.55" cy="78.50" rx="83.21" ry="79.94" fill="#00e624"/><ellipse cx="395.55" cy="78.50" rx="83.11" ry="79.85" fill="#00e613"/><ellipse cx="395.55" cy="78.50" rx="82.71" ry="79.47" fill="#00e624"/><ellipse cx="395.55" cy="78.50" rx="82.62" ry="79.37" fill="#00e644"/><ellipse cx="395.55" cy="78.50" rx="82.52" ry="79.28" fill="#00e97c"/><ellipse cx="395.55" cy="78.50" rx="82.42" ry="79.18" fill="#00edb1"/><ellipse cx="395.55" cy="78.50" rx="82.32" ry="79.09" fill="#00eee2"/><ellipse cx="395.55" cy="78.50" rx="82.22" ry="78.99" fill="#00e1ff"/><ellipse cx="395.55" cy="78.50" rx="82.12" ry="78.90" fill="#00b7ff"/><ellipse cx="395.55" cy="78.50" rx="82.02" ry="78.80" fill="#008cff"/><ellipse cx="395.55" cy="78.50" rx="81.92" ry="78.71" fill="#0060ff"/><ellipse cx="395.55" cy="78.50" rx="81.82" ry="78.61" fill="#0037fb"/><ellipse cx="395.55" cy="78.50" rx="81.73" ry="78.52" fill="#0024fa"/><ellipse cx="395.55" cy="78.50" rx="81.63" ry="78.42" fill="#0013fb"/><ellipse cx="395.55" cy="78.50" rx="81.43" ry="78.23" fill="#0024fa"/><ellipse cx="395.55" cy="78.50" rx="81.33" ry="78.14" fill="#0037fb"/><ellipse cx="395.55" cy="78.50" rx="81.23" ry="78.04" fill="#004bfd"/><ellipse cx="395.55" cy="78.50" rx="81.13" ry="77.95" fill="#0076ff"/><ellipse cx="395.55" cy="78.50" rx="81.03" ry="77.85" fill="#00a2ff"/><ellipse cx="395.55" cy="78.50" rx="80.93" ry="77.76" fill="#00e1ff"/><ellipse cx="395.55" cy="78.50" rx="80.84" ry="77.66" fill="#00eee2"/><ellipse cx="395.55" cy="78.50" rx="80.74" ry="77.57" fill="#00edb1"/><ellipse cx="395.55" cy="78.50" rx="80.64" ry="77.47" fill="#00e97c"/><ellipse cx="395.55" cy="78.50" rx="80.54" ry="77.38" fill="#00e644"/><ellipse cx="395.55" cy="78.50" rx="80.44" ry="77.28" fill="#00e613"/><ellipse cx="395.55" cy="78.50" rx="80.34" ry="77.19" fill="#00e610"/><ellipse cx="395.55" cy="78.50" rx="80.24" ry="77.09" fill="#00e60e"/><ellipse cx="395.55" cy="78.50" rx="79.85" ry="76.71" fill="#00e610"/><ellipse cx="395.55" cy="78.50" rx="79.75" ry="76.62" fill="#00e613"/><ellipse cx="395.55" cy="78.50" rx="79.65" ry="76.52" fill="#00e624"/><ellipse cx="395.55" cy="78.50" rx="79.55" ry="76.43" fill="#00e762"/><ellipse cx="395.55" cy="78.50" rx="79.45" ry="76.33" fill="#00eb96"/><ellipse cx="395.55" cy="78.50" rx="79.35" ry="76.24" fill="#00f0cd"/><ellipse cx="395.55" cy="78.50" rx="79.25" ry="76.14" fill="#00ecf5"/><ellipse cx="395.55" cy="78.50" rx="79.15" ry="76.05" fill="#00b7ff"/><ellipse cx="395.55" cy="78.50" rx="79.06" ry="75.95" fill="#008cff"/><ellipse cx="395.55" cy="78.50" rx="78.96" ry="75.86" fill="#0060ff"/><ellipse cx="395.55" cy="78.50" rx="78.86" ry="75.76" fill="#0037fb"/><ellipse cx="395.55" cy="78.50" rx="78.76" ry="75.67" fill="#0024fa"/><ellipse cx="395.55" cy="78.50" rx="78.66" ry="75.57" fill="#0013fb"/><ellipse cx="395.55" cy="78.50" rx="78.46" ry="75.38" fill="#0024fa"/><ellipse cx="395.55" cy="78.50" rx="78.36" ry="75.29" fill="#0037fb"/><ellipse cx="395.55" cy="78.50" rx="78.26" ry="75.19" fill="#0060ff"/><ellipse cx="395.55" cy="78.50" rx="78.17" ry="75.10" fill="#008cff"/><ellipse cx="395.55" cy="78.50" rx="78.07" ry="75.00" fill="#00b7ff"/><ellipse cx="395.55" cy="78.50" rx="77.97" ry="74.91" fill="#00ecf5"/><ellipse cx="395.55" cy="78.50" rx="77.87" ry="74.81" fill="#00f0cd"/><ellipse cx="395.55" cy="78.50" rx="77.77" ry="74.72" fill="#00eb96"/><ellipse cx="395.55" cy="78.50" rx="77.67" ry="74.62" fill="#00e644"/><ellipse cx="395.55" cy="78.50" rx="77.57" ry="74.53" fill="#00e613"/><ellipse cx="395.55" cy="78.50" rx="77.47" ry="74.43" fill="#00e60e"/><ellipse cx="395.55" cy="78.50" rx="77.37" ry="74.34" fill="#00e60c"/><ellipse cx="395.55" cy="78.50" rx="77.28" ry="74.24" fill="#00e609"/><ellipse cx="395.55" cy="78.50" rx="77.18" ry="74.15" fill="#00e607"/><ellipse cx="395.55" cy="78.50" rx="76.88" ry="73.86" fill="#00e609"/><ellipse cx="395.55" cy="78.50" rx="76.78" ry="73.77" fill="#00e60c"/><ellipse cx="395.55" cy="78.50" rx="76.68" ry="73.67" fill="#00e60e"/><ellipse cx="395.55" cy="78.50" rx="76.58" ry="73.58" fill="#00e613"/><ellipse cx="395.55" cy="78.50" rx="76.48" ry="73.48" fill="#00e644"/><ellipse cx="395.55" cy="78.50" rx="76.39" ry="73.39" fill="#00e97c"/><ellipse cx="395.55" cy="78.50" rx="76.29" ry="73.29" fill="#00f0cd"/><ellipse cx="395.55" cy="78.50" rx="76.19" ry="73.20" fill="#00ecf5"/><ellipse cx="395.55" cy="78.50" rx="76.09" ry="73.10" fill="#00ccff"/><ellipse cx="395.55" cy="78.50" rx="75.99" ry="73.01" fill="#008cff"/><ellipse cx="395.55" cy="78.50" rx="75.89" ry="72.91" fill="#0060ff"/><ellipse cx="395.55" cy="78.50" rx="75.79" ry="72.82" fill="#0037fb"/><ellipse cx="395.55" cy="78.50" rx="75.69" ry="72.72" fill="#0024fa"/><ellipse cx="395.55" cy="78.50" rx="75.59" ry="72.63" fill="#0013fb"/><ellipse cx="395.55" cy="78.50" rx="75.40" ry="72.44" fill="#0024fa"/><ellipse cx="395.55" cy="78.50" rx="75.30" ry="72.34" fill="#004bfd"/><ellipse cx="395.55" cy="78.50" rx="75.20" ry="72.25" fill="#0076ff"/><ellipse cx="395.55" cy="78.50" rx="75.10" ry="72.15" fill="#00a2ff"/><ellipse cx="395.55" cy="78.50" rx="75.00" ry="72.06" fill="#00ccff"/><ellipse cx="395.55" cy="78.50" rx="74.90" ry="71.96" fill="#00eee2"/><ellipse cx="395.55" cy="78.50" rx="74.80" ry="71.87" fill="#00edb1"/><ellipse cx="395.55" cy="78.50" rx="74.71" ry="71.77" fill="#00e762"/><ellipse cx="395.55" cy="78.50" rx="74.61" ry="71.68" fill="#00e624"/><ellipse cx="395.55" cy="78.50" rx="74.51" ry="71.58" fill="#00e610"/><ellipse cx="395.55" cy="78.50" rx="74.41" ry="71.49" fill="#00e60c"/><ellipse cx="395.55" cy="78.50" rx="74.31" ry="71.39" fill="#00e607"/><ellipse cx="395.55" cy="78.50" rx="74.21" ry="71.30" fill="#00e605"/><ellipse cx="395.55" cy="78.50" rx="74.11" ry="71.20" fill="#00e602"/><ellipse cx="395.55" cy="78.50" rx="74.01" ry="71.11" fill="#00e600"/><ellipse cx="395.55" cy="78.50" rx="73.82" ry="70.92" fill="#00e602"/><ellipse cx="395.55" cy="78.50" rx="73.72" ry="70.82" fill="#00e605"/><ellipse cx="395.55" cy="78.50" rx="73.62" ry="70.73" fill="#00e607"/><ellipse cx="395.55" cy="78.50" rx="73.52" ry="70.63" fill="#00e60c"/><ellipse cx="395.55" cy="78.50" rx="73.42" ry="70.54" fill="#00e610"/><ellipse cx="395.55" cy="78.50" rx="73.32" ry="70.44" fill="#00e624"/><ellipse cx="395.55" cy="78.50" rx="73.22" ry="70.35" fill="#00e762"/><ellipse cx="395.55" cy="78.50" rx="73.12" ry="70.25" fill="#00edb1"/><ellipse cx="395.55" cy="78.50" rx="73.02" ry="70.16" fill="#00eee2"/><ellipse cx="395.55" cy="78.50" rx="72.93" ry="70.06" fill="#00ccff"/><ellipse cx="395.55" cy="78.50" rx="72.83" ry="69.97" fill="#00a2ff"/><ellipse cx="395.55" cy="78.50" rx="72.73" ry="69.87" fill="#0076ff"/><ellipse cx="395.55" cy="78.50" rx="72.63" ry="69.78" fill="#004bfd"/><ellipse cx="395.55" cy="78.50" rx="72.53" ry="69.68" fill="#0024fa"/><ellipse cx="395.55" cy="78.50" rx="72.43" ry="69.59" fill="#0013fb"/><ellipse cx="395.55" cy="78.50" rx="72.33" ry="69.49" fill="#0024fa"/><ellipse cx="395.55" cy="78.50" rx="72.23" ry="69.40" fill="#0037fb"/><ellipse cx="395.55" cy="78.50" rx="72.13" ry="69.30" fill="#004bfd"/><ellipse cx="395.55" cy="78.50" rx="72.04" ry="69.21" fill="#0076ff"/><ellipse cx="395.55" cy="78.50" rx="71.94" ry="69.11" fill="#00a2ff"/><ellipse cx="395.55" cy="78.50" rx="71.84" ry="69.02" fill="#00e1ff"/><ellipse cx="395.55" cy="78.50" rx="71.74" ry="68.92" fill="#00eee2"/><ellipse cx="395.55" cy="78.50" rx="71.64" ry="68.83" fill="#00eb96"/><ellipse cx="395.55" cy="78.50" rx="71.54" ry="68.73" fill="#00e644"/><ellipse cx="395.55" cy="78.50" rx="71.44" ry="68.64" fill="#00e613"/><ellipse cx="395.55" cy="78.50" rx="71.34" ry="68.54" fill="#00e60c"/><ellipse cx="395.55" cy="78.50" rx="71.24" ry="68.45" fill="#00e607"/><ellipse cx="395.55" cy="78.50" rx="71.15" ry="68.35" fill="#00e602"/><ellipse cx="395.55" cy="78.50" rx="71.05" ry="68.26" fill="#00e600"/><ellipse cx="395.55" cy="78.50" rx="70.95" ry="68.16" fill="#14e600"/><ellipse cx="395.55" cy="78.50" rx="70.85" ry="68.07" fill="#28e600"/><ellipse cx="395.55" cy="78.50" rx="70.45" ry="67.69" fill="#14e600"/><ellipse cx="395.55" cy="78.50" rx="70.35" ry="67.59" fill="#00e602"/><ellipse cx="395.55" cy="78.50" rx="70.26" ry="67.50" fill="#00e607"/><ellipse cx="395.55" cy="78.50" rx="70.16" ry="67.40" fill="#00e60c"/><ellipse cx="395.55" cy="78.50" rx="70.06" ry="67.31" fill="#00e610"/><ellipse cx="395.55" cy="78.50" rx="69.96" ry="67.21" fill="#00e644"/><ellipse cx="395.55" cy="78.50" rx="69.86" ry="67.12" fill="#00e97c"/><ellipse cx="395.55" cy="78.50" rx="69.76" ry="67.02" fill="#00f0cd"/><ellipse cx="395.55" cy="78.50" rx="69.66" ry="66.93" fill="#00e1ff"/><ellipse cx="395.55" cy="78.50" rx="69.56" ry="66.83" fill="#00b7ff"/><ellipse cx="395.55" cy="78.50" rx="69.46" ry="66.74" fill="#0076ff"/><ellipse cx="395.55" cy="78.50" rx="69.37" ry="66.64" fill="#004bfd"/><ellipse cx="395.55" cy="78.50" rx="69.27" ry="66.55" fill="#0037fb"/><ellipse cx="395.55" cy="78.50" rx="69.17" ry="66.45" fill="#0024fa"/><ellipse cx="395.55" cy="78.50" rx="68.87" ry="66.17" fill="#004bfd"/><ellipse cx="395.55" cy="78.50" rx="68.77" ry="66.07" fill="#0076ff"/><ellipse cx="395.55" cy="78.50" rx="68.67" ry="65.98" fill="#00a2ff"/><ellipse cx="395.55" cy="78.50" rx="68.57" ry="65.88" fill="#00ccff"/><ellipse cx="395.55" cy="78.50" rx="68.48" ry="65.79" fill="#00eee2"/><ellipse cx="395.55" cy="78.50" rx="68.38" ry="65.69" fill="#00eb96"/><ellipse cx="395.55" cy="78.50" rx="68.28" ry="65.60" fill="#00e644"/><ellipse cx="395.55" cy="78.50" rx="68.18" ry="65.50" fill="#00e613"/><ellipse cx="395.55" cy="78.50" rx="68.08" ry="65.41" fill="#00e60c"/><ellipse cx="395.55" cy="78.50" rx="67.98" ry="65.31" fill="#00e605"/><ellipse cx="395.55" cy="78.50" rx="67.88" ry="65.22" fill="#00e600"/><ellipse cx="395.55" cy="78.50" rx="67.78" ry="65.12" fill="#28e600"/><ellipse cx="395.55" cy="78.50" rx="67.68" ry="65.03" fill="#72ec00"/><ellipse cx="395.55" cy="78.50" rx="67.59" ry="64.93" fill="#b6f200"/><ellipse cx="395.55" cy="78.50" rx="67.49" ry="64.84" fill="#e7fb00"/><ellipse cx="395.55" cy="78.50" rx="67.09" ry="64.46" fill="#b6f200"/><ellipse cx="395.55" cy="78.50" rx="66.99" ry="64.36" fill="#28e600"/><ellipse cx="395.55" cy="78.50" rx="66.89" ry="64.27" fill="#00e600"/><ellipse cx="395.55" cy="78.50" rx="66.79" ry="64.17" fill="#00e605"/><ellipse cx="395.55" cy="78.50" rx="66.70" ry="64.08" fill="#00e609"/><ellipse cx="395.55" cy="78.50" rx="66.60" ry="63.98" fill="#00e610"/><ellipse cx="395.55" cy="78.50" rx="66.50" ry="63.89" fill="#00e644"/><ellipse cx="395.55" cy="78.50" rx="66.40" ry="63.79" fill="#00e97c"/><ellipse cx="395.55" cy="78.50" rx="66.30" ry="63.70" fill="#00f0cd"/><ellipse cx="395.55" cy="78.50" rx="66.20" ry="63.60" fill="#00e1ff"/><ellipse cx="395.55" cy="78.50" rx="66.10" ry="63.51" fill="#00b7ff"/><ellipse cx="395.55" cy="78.50" rx="66.00" ry="63.41" fill="#0076ff"/><ellipse cx="395.55" cy="78.50" rx="65.90" ry="63.32" fill="#004bfd"/><ellipse cx="395.55" cy="78.50" rx="65.81" ry="63.22" fill="#0037fb"/><ellipse cx="395.55" cy="78.50" rx="65.71" ry="63.13" fill="#0024fa"/><ellipse cx="395.55" cy="78.50" rx="65.51" ry="62.94" fill="#0037fb"/><ellipse cx="395.55" cy="78.50" rx="65.41" ry="62.84" fill="#004bfd"/><ellipse cx="395.55" cy="78.50" rx="65.31" ry="62.75" fill="#0076ff"/><ellipse cx="395.55" cy="78.50" rx="65.21" ry="62.65" fill="#00b7ff"/><ellipse cx="395.55" cy="78.50" rx="65.11" ry="62.56" fill="#00e1ff"/><ellipse cx="395.55" cy="78.50" rx="65.01" ry="62.46" fill="#00f0cd"/><ellipse cx="395.55" cy="78.50" rx="64.92" ry="62.37" fill="#00e97c"/><ellipse cx="395.55" cy="78.50" rx="64.82" ry="62.27" fill="#00e624"/><ellipse cx="395.55" cy="78.50" rx="64.72" ry="62.18" fill="#00e60e"/><ellipse cx="395.55" cy="78.50" rx="64.62" ry="62.08" fill="#00e607"/><ellipse cx="395.55" cy="78.50" rx="64.52" ry="61.99" fill="#00e600"/><ellipse cx="395.55" cy="78.50" rx="64.42" ry="61.89" fill="#28e600"/><ellipse cx="395.55" cy="78.50" rx="64.32" ry="61.80" fill="#b6f200"/><ellipse cx="395.55" cy="78.50" rx="64.22" ry="61.70" fill="#fff600"/><ellipse cx="395.55" cy="78.50" rx="64.12" ry="61.61" fill="#ffd200"/><ellipse cx="395.55" cy="78.50" rx="64.03" ry="61.51" fill="#ffc100"/><ellipse cx="395.55" cy="78.50" rx="63.63" ry="61.13" fill="#ffd200"/><ellipse cx="395.55" cy="78.50" rx="63.53" ry="61.04" fill="#ffe400"/><ellipse cx="395.55" cy="78.50" rx="63.43" ry="60.94" fill="#e7fb00"/><ellipse cx="395.55" cy="78.50" rx="63.33" ry="60.85" fill="#72ec00"/><ellipse cx="395.55" cy="78.50" rx="63.23" ry="60.75" fill="#14e600"/><ellipse cx="395.55" cy="78.50" rx="63.14" ry="60.66" fill="#00e602"/><ellipse cx="395.55" cy="78.50" rx="63.04" ry="60.56" fill="#00e609"/><ellipse cx="395.55" cy="78.50" rx="62.94" ry="60.47" fill="#00e610"/><ellipse cx="395.55" cy="78.50" rx="62.84" ry="60.37" fill="#00e644"/><ellipse cx="395.55" cy="78.50" rx="62.74" ry="60.28" fill="#00eb96"/><ellipse cx="395.55" cy="78.50" rx="62.64" ry="60.18" fill="#00eee2"/><ellipse cx="395.55" cy="78.50" rx="62.54" ry="60.09" fill="#00ccff"/><ellipse cx="395.55" cy="78.50" rx="62.44" ry="59.99" fill="#00a2ff"/><ellipse cx="395.55" cy="78.50" rx="62.34" ry="59.90" fill="#0076ff"/><ellipse cx="395.55" cy="78.50" rx="62.25" ry="59.80" fill="#004bfd"/><ellipse cx="395.55" cy="78.50" rx="62.15" ry="59.71" fill="#0024fa"/><ellipse cx="395.55" cy="78.50" rx="61.85" ry="59.42" fill="#004bfd"/><ellipse cx="395.55" cy="78.50" rx="61.75" ry="59.33" fill="#0060ff"/><ellipse cx="395.55" cy="78.50" rx="61.65" ry="59.23" fill="#00a2ff"/><ellipse cx="395.55" cy="78.50" rx="61.55" ry="59.14" fill="#00ccff"/><ellipse cx="395.55" cy="78.50" rx="61.45" ry="59.04" fill="#00eee2"/><ellipse cx="395.55" cy="78.50" rx="61.36" ry="58.95" fill="#00eb96"/><ellipse cx="395.55" cy="78.50" rx="61.26" ry="58.85" fill="#00e644"/><ellipse cx="395.55" cy="78.50" rx="61.16" ry="58.76" fill="#00e610"/><ellipse cx="395.55" cy="78.50" rx="61.06" ry="58.66" fill="#00e609"/><ellipse cx="395.55" cy="78.50" rx="60.96" ry="58.57" fill="#00e602"/><ellipse cx="395.55" cy="78.50" rx="60.86" ry="58.47" fill="#28e600"/><ellipse cx="395.55" cy="78.50" rx="60.76" ry="58.38" fill="#e7fb00"/><ellipse cx="395.55" cy="78.50" rx="60.66" ry="58.28" fill="#ffe400"/><ellipse cx="395.55" cy="78.50" rx="60.56" ry="58.19" fill="#ffc100"/><ellipse cx="395.55" cy="78.50" rx="60.47" ry="58.09" fill="#ffa000"/><ellipse cx="395.55" cy="78.50" rx="60.37" ry="58.00" fill="#ff8c00"/><ellipse cx="395.55" cy="78.50" rx="60.27" ry="57.90" fill="#ff7800"/><ellipse cx="395.55" cy="78.50" rx="59.87" ry="57.52" fill="#ff8c00"/><ellipse cx="395.55" cy="78.50" rx="59.77" ry="57.43" fill="#ffb100"/><ellipse cx="395.55" cy="78.50" rx="59.68" ry="57.33" fill="#ffd200"/><ellipse cx="395.55" cy="78.50" rx="59.58" ry="57.24" fill="#fff600"/><ellipse cx="395.55" cy="78.50" rx="59.48" ry="57.14" fill="#b6f200"/><ellipse cx="395.55" cy="78.50" rx="59.38" ry="57.05" fill="#14e600"/><ellipse cx="395.55" cy="78.50" rx="59.28" ry="56.95" fill="#00e605"/><ellipse cx="395.55" cy="78.50" rx="59.18" ry="56.86" fill="#00e60c"/><ellipse cx="395.55" cy="78.50" rx="59.08" ry="56.76" fill="#00e613"/><ellipse cx="395.55" cy="78.50" rx="58.98" ry="56.67" fill="#00e762"/><ellipse cx="395.55" cy="78.50" rx="58.88" ry="56.57" fill="#00edb1"/><ellipse cx="395.55" cy="78.50" rx="58.79" ry="56.48" fill="#00ecf5"/><ellipse cx="395.55" cy="78.50" rx="58.69" ry="56.38" fill="#00b7ff"/><ellipse cx="395.55" cy="78.50" rx="58.59" ry="56.29" fill="#008cff"/><ellipse cx="395.55" cy="78.50" rx="58.49" ry="56.19" fill="#0060ff"/><ellipse cx="395.55" cy="78.50" rx="58.39" ry="56.10" fill="#0037fb"/><ellipse cx="395.55" cy="78.50" rx="58.29" ry="56.00" fill="#0024fa"/><ellipse cx="395.55" cy="78.50" rx="58.09" ry="55.81" fill="#0037fb"/><ellipse cx="395.55" cy="78.50" rx="57.99" ry="55.72" fill="#004bfd"/><ellipse cx="395.55" cy="78.50" rx="57.90" ry="55.62" fill="#0076ff"/><ellipse cx="395.55" cy="78.50" rx="57.80" ry="55.53" fill="#00a2ff"/><ellipse cx="395.55" cy="78.50" rx="57.70" ry="55.43" fill="#00e1ff"/><ellipse cx="395.55" cy="78.50" rx="57.60" ry="55.34" fill="#00f0cd"/><ellipse cx="395.55" cy="78.50" rx="57.50" ry="55.24" fill="#00e97c"/><ellipse cx="395.55" cy="78.50" rx="57.40" ry="55.15" fill="#00e624"/><ellipse cx="395.55" cy="78.50" rx="57.30" ry="55.05" fill="#00e60e"/><ellipse cx="395.55" cy="78.50" rx="57.20" ry="54.96" fill="#00e607"/><ellipse cx="395.55" cy="78.50" rx="57.10" ry="54.86" fill="#00e600"/><ellipse cx="395.55" cy="78.50" rx="57.01" ry="54.77" fill="#72ec00"/><ellipse cx="395.55" cy="78.50" rx="56.91" ry="54.67" fill="#fff600"/><ellipse cx="395.55" cy="78.50" rx="56.81" ry="54.58" fill="#ffd200"/><ellipse cx="395.55" cy="78.50" rx="56.71" ry="54.48" fill="#ffb100"/><ellipse cx="395.55" cy="78.50" rx="56.61" ry="54.39" fill="#ff8c00"/><ellipse cx="395.55" cy="78.50" rx="56.51" ry="54.29" fill="#ff6200"/><ellipse cx="395.55" cy="78.50" rx="56.41" ry="54.20" fill="#ff4a00"/><ellipse cx="395.55" cy="78.50" rx="56.02" ry="53.82" fill="#ff6200"/><ellipse cx="395.55" cy="78.50" rx="55.92" ry="53.72" fill="#ff7800"/><ellipse cx="395.55" cy="78.50" rx="55.82" ry="53.63" fill="#ff8c00"/><ellipse cx="395.55" cy="78.50" rx="55.72" ry="53.53" fill="#ffb100"/><ellipse cx="395.55" cy="78.50" rx="55.62" ry="53.44" fill="#ffd200"/><ellipse cx="395.55" cy="78.50" rx="55.52" ry="53.34" fill="#e7fb00"/><ellipse cx="395.55" cy="78.50" rx="55.42" ry="53.25" fill="#72ec00"/><ellipse cx="395.55" cy="78.50" rx="55.32" ry="53.15" fill="#00e600"/><ellipse cx="395.55" cy="78.50" rx="55.23" ry="53.06" fill="#00e607"/><ellipse cx="395.55" cy="78.50" rx="55.13" ry="52.96" fill="#00e60e"/><ellipse cx="395.55" cy="78.50" rx="55.03" ry="52.87" fill="#00e624"/><ellipse cx="395.55" cy="78.50" rx="54.93" ry="52.77" fill="#00e97c"/><ellipse cx="395.55" cy="78.50" rx="54.83" ry="52.68" fill="#00f0cd"/><ellipse cx="395.55" cy="78.50" rx="54.73" ry="52.58" fill="#00e1ff"/><ellipse cx="395.55" cy="78.50" rx="54.63" ry="52.49" fill="#00b7ff"/><ellipse cx="395.55" cy="78.50" rx="54.53" ry="52.39" fill="#008cff"/><ellipse cx="395.55" cy="78.50" rx="54.43" ry="52.30" fill="#0060ff"/><ellipse cx="395.55" cy="78.50" rx="54.34" ry="52.20" fill="#0037fb"/><ellipse cx="395.55" cy="78.50" rx="54.24" ry="52.11" fill="#0024fa"/><ellipse cx="395.55" cy="78.50" rx="54.04" ry="51.92" fill="#0037fb"/><ellipse cx="395.55" cy="78.50" rx="53.94" ry="51.82" fill="#004bfd"/><ellipse cx="395.55" cy="78.50" rx="53.84" ry="51.73" fill="#0060ff"/><ellipse cx="395.55" cy="78.50" rx="53.74" ry="51.63" fill="#008cff"/><ellipse cx="395.55" cy="78.50" rx="53.64" ry="51.54" fill="#00ccff"/><ellipse cx="395.55" cy="78.50" rx="53.54" ry="51.44" fill="#00ecf5"/><ellipse cx="395.55" cy="78.50" rx="53.45" ry="51.35" fill="#00edb1"/><ellipse cx="395.55" cy="78.50" rx="53.35" ry="51.25" fill="#00e762"/><ellipse cx="395.55" cy="78.50" rx="53.25" ry="51.16" fill="#00e624"/><ellipse cx="395.55" cy="78.50" rx="53.15" ry="51.06" fill="#00e60e"/><ellipse cx="395.55" cy="78.50" rx="53.05" ry="50.97" fill="#00e607"/><ellipse cx="395.55" cy="78.50" rx="52.95" ry="50.87" fill="#00e600"/><ellipse cx="395.55" cy="78.50" rx="52.85" ry="50.78" fill="#28e600"/><ellipse cx="395.55" cy="78.50" rx="52.75" ry="50.68" fill="#e7fb00"/><ellipse cx="395.55" cy="78.50" rx="52.65" ry="50.59" fill="#ffe400"/><ellipse cx="395.55" cy="78.50" rx="52.56" ry="50.49" fill="#ffc100"/><ellipse cx="395.55" cy="78.50" rx="52.46" ry="50.40" fill="#ffb100"/><ellipse cx="395.55" cy="78.50" rx="52.36" ry="50.30" fill="#ff8c00"/><ellipse cx="395.55" cy="78.50" rx="52.26" ry="50.21" fill="#ff7800"/><ellipse cx="395.55" cy="78.50" rx="52.06" ry="50.02" fill="#ff6200"/><ellipse cx="395.55" cy="78.50" rx="51.86" ry="49.83" fill="#ff7800"/><ellipse cx="395.55" cy="78.50" rx="51.67" ry="49.64" fill="#ffa000"/><ellipse cx="395.55" cy="78.50" rx="51.57" ry="49.54" fill="#ffb100"/><ellipse cx="395.55" cy="78.50" rx="51.47" ry="49.45" fill="#ffd200"/><ellipse cx="395.55" cy="78.50" rx="51.37" ry="49.35" fill="#ffe400"/><ellipse cx="395.55" cy="78.50" rx="51.27" ry="49.26" fill="#b6f200"/><ellipse cx="395.55" cy="78.50" rx="51.17" ry="49.16" fill="#28e600"/><ellipse cx="395.55" cy="78.50" rx="51.07" ry="49.07" fill="#00e602"/><ellipse cx="395.55" cy="78.50" rx="50.97" ry="48.97" fill="#00e607"/><ellipse cx="395.55" cy="78.50" rx="50.87" ry="48.88" fill="#00e60e"/><ellipse cx="395.55" cy="78.50" rx="50.78" ry="48.78" fill="#00e624"/><ellipse cx="395.55" cy="78.50" rx="50.68" ry="48.69" fill="#00e762"/><ellipse cx="395.55" cy="78.50" rx="50.58" ry="48.59" fill="#00edb1"/><ellipse cx="395.55" cy="78.50" rx="50.48" ry="48.50" fill="#00eee2"/><ellipse cx="395.55" cy="78.50" rx="50.38" ry="48.40" fill="#00ccff"/><ellipse cx="395.55" cy="78.50" rx="50.28" ry="48.31" fill="#00a2ff"/><ellipse cx="395.55" cy="78.50" rx="50.18" ry="48.21" fill="#0076ff"/><ellipse cx="395.55" cy="78.50" rx="50.08" ry="48.12" fill="#004bfd"/><ellipse cx="395.55" cy="78.50" rx="49.98" ry="48.02" fill="#0037fb"/><ellipse cx="395.55" cy="78.50" rx="49.89" ry="47.93" fill="#0024fa"/><ellipse cx="395.55" cy="78.50" rx="49.59" ry="47.64" fill="#0037fb"/><ellipse cx="395.55" cy="78.50" rx="49.49" ry="47.55" fill="#004bfd"/><ellipse cx="395.55" cy="78.50" rx="49.39" ry="47.45" fill="#0076ff"/><ellipse cx="395.55" cy="78.50" rx="49.29" ry="47.36" fill="#00a2ff"/><ellipse cx="395.55" cy="78.50" rx="49.19" ry="47.26" fill="#00b7ff"/><ellipse cx="395.55" cy="78.50" rx="49.09" ry="47.17" fill="#00ecf5"/><ellipse cx="395.55" cy="78.50" rx="49.00" ry="47.07" fill="#00f0cd"/><ellipse cx="395.55" cy="78.50" rx="48.90" ry="46.98" fill="#00eb96"/><ellipse cx="395.55" cy="78.50" rx="48.80" ry="46.88" fill="#00e644"/><ellipse cx="395.55" cy="78.50" rx="48.70" ry="46.79" fill="#00e613"/><ellipse cx="395.55" cy="78.50" rx="48.60" ry="46.69" fill="#00e60e"/><ellipse cx="395.55" cy="78.50" rx="48.50" ry="46.60" fill="#00e609"/><ellipse cx="395.55" cy="78.50" rx="48.40" ry="46.50" fill="#00e602"/><ellipse cx="395.55" cy="78.50" rx="48.30" ry="46.41" fill="#14e600"/><ellipse cx="395.55" cy="78.50" rx="48.20" ry="46.31" fill="#28e600"/><ellipse cx="395.55" cy="78.50" rx="48.11" ry="46.22" fill="#b6f200"/><ellipse cx="395.55" cy="78.50" rx="48.01" ry="46.12" fill="#e7fb00"/><ellipse cx="395.55" cy="78.50" rx="47.91" ry="46.03" fill="#ffe400"/><ellipse cx="395.55" cy="78.50" rx="47.81" ry="45.93" fill="#ffd200"/><ellipse cx="395.55" cy="78.50" rx="47.61" ry="45.74" fill="#ffc100"/><ellipse cx="395.55" cy="78.50" rx="47.31" ry="45.46" fill="#ffd200"/><ellipse cx="395.55" cy="78.50" rx="47.12" ry="45.27" fill="#ffe400"/><ellipse cx="395.55" cy="78.50" rx="47.02" ry="45.17" fill="#fff600"/><ellipse cx="395.55" cy="78.50" rx="46.92" ry="45.08" fill="#b6f200"/><ellipse cx="395.55" cy="78.50" rx="46.82" ry="44.98" fill="#72ec00"/><ellipse cx="395.55" cy="78.50" rx="46.72" ry="44.89" fill="#14e600"/><ellipse cx="395.55" cy="78.50" rx="46.62" ry="44.79" fill="#00e602"/><ellipse cx="395.55" cy="78.50" rx="46.52" ry="44.70" fill="#00e607"/><ellipse cx="395.55" cy="78.50" rx="46.42" ry="44.60" fill="#00e60c"/><ellipse cx="395.55" cy="78.50" rx="46.33" ry="44.51" fill="#00e610"/><ellipse cx="395.55" cy="78.50" rx="46.23" ry="44.41" fill="#00e624"/><ellipse cx="395.55" cy="78.50" rx="46.13" ry="44.32" fill="#00e762"/><ellipse cx="395.55" cy="78.50" rx="46.03" ry="44.22" fill="#00eb96"/><ellipse cx="395.55" cy="78.50" rx="45.93" ry="44.13" fill="#00f0cd"/><ellipse cx="395.55" cy="78.50" rx="45.83" ry="44.03" fill="#00ecf5"/><ellipse cx="395.55" cy="78.50" rx="45.73" ry="43.94" fill="#00ccff"/><ellipse cx="395.55" cy="78.50" rx="45.63" ry="43.84" fill="#00a2ff"/><ellipse cx="395.55" cy="78.50" rx="45.53" ry="43.75" fill="#008cff"/><ellipse cx="395.55" cy="78.50" rx="45.44" ry="43.65" fill="#0060ff"/><ellipse cx="395.55" cy="78.50" rx="45.34" ry="43.56" fill="#004bfd"/><ellipse cx="395.55" cy="78.50" rx="45.24" ry="43.46" fill="#0037fb"/><ellipse cx="395.55" cy="78.50" rx="45.14" ry="43.37" fill="#0024fa"/><ellipse cx="395.55" cy="78.50" rx="44.74" ry="42.99" fill="#0037fb"/><ellipse cx="395.55" cy="78.50" rx="44.65" ry="42.89" fill="#004bfd"/><ellipse cx="395.55" cy="78.50" rx="44.55" ry="42.80" fill="#0060ff"/><ellipse cx="395.55" cy="78.50" rx="44.45" ry="42.70" fill="#0076ff"/><ellipse cx="395.55" cy="78.50" rx="44.35" ry="42.61" fill="#00a2ff"/><ellipse cx="395.55" cy="78.50" rx="44.25" ry="42.51" fill="#00b7ff"/><ellipse cx="395.55" cy="78.50" rx="44.15" ry="42.42" fill="#00e1ff"/><ellipse cx="395.55" cy="78.50" rx="44.05" ry="42.32" fill="#00eee2"/><ellipse cx="395.55" cy="78.50" rx="43.95" ry="42.23" fill="#00f0cd"/><ellipse cx="395.55" cy="78.50" rx="43.85" ry="42.13" fill="#00eb96"/><ellipse cx="395.55" cy="78.50" rx="43.76" ry="42.04" fill="#00e97c"/><ellipse cx="395.55" cy="78.50" rx="43.66" ry="41.94" fill="#00e644"/><ellipse cx="395.55" cy="78.50" rx="43.56" ry="41.85" fill="#00e624"/><ellipse cx="395.55" cy="78.50" rx="43.46" ry="41.75" fill="#00e610"/><ellipse cx="395.55" cy="78.50" rx="43.36" ry="41.66" fill="#00e60e"/><ellipse cx="395.55" cy="78.50" rx="43.26" ry="41.56" fill="#00e609"/><ellipse cx="395.55" cy="78.50" rx="43.16" ry="41.47" fill="#00e607"/><ellipse cx="395.55" cy="78.50" rx="43.06" ry="41.37" fill="#00e605"/><ellipse cx="395.55" cy="78.50" rx="42.96" ry="41.28" fill="#00e602"/><ellipse cx="395.55" cy="78.50" rx="42.87" ry="41.18" fill="#00e600"/><ellipse cx="395.55" cy="78.50" rx="42.67" ry="40.99" fill="#14e600"/><ellipse cx="395.55" cy="78.50" rx="42.17" ry="40.52" fill="#00e600"/><ellipse cx="395.55" cy="78.50" rx="41.98" ry="40.33" fill="#00e602"/><ellipse cx="395.55" cy="78.50" rx="41.88" ry="40.23" fill="#00e605"/><ellipse cx="395.55" cy="78.50" rx="41.78" ry="40.14" fill="#00e607"/><ellipse cx="395.55" cy="78.50" rx="41.68" ry="40.04" fill="#00e609"/><ellipse cx="395.55" cy="78.50" rx="41.58" ry="39.95" fill="#00e60c"/><ellipse cx="395.55" cy="78.50" rx="41.48" ry="39.85" fill="#00e60e"/><ellipse cx="395.55" cy="78.50" rx="41.38" ry="39.76" fill="#00e613"/><ellipse cx="395.55" cy="78.50" rx="41.28" ry="39.66" fill="#00e624"/><ellipse cx="395.55" cy="78.50" rx="41.18" ry="39.57" fill="#00e644"/><ellipse cx="395.55" cy="78.50" rx="41.09" ry="39.47" fill="#00e97c"/><ellipse cx="395.55" cy="78.50" rx="40.99" ry="39.38" fill="#00eb96"/><ellipse cx="395.55" cy="78.50" rx="40.89" ry="39.28" fill="#00f0cd"/><ellipse cx="395.55" cy="78.50" rx="40.79" ry="39.19" fill="#00eee2"/><ellipse cx="395.55" cy="78.50" rx="40.69" ry="39.09" fill="#00e1ff"/><ellipse cx="395.55" cy="78.50" rx="40.59" ry="39.00" fill="#00ccff"/><ellipse cx="395.55" cy="78.50" rx="40.49" ry="38.90" fill="#00a2ff"/><ellipse cx="395.55" cy="78.50" rx="40.39" ry="38.81" fill="#008cff"/><ellipse cx="395.55" cy="78.50" rx="40.29" ry="38.71" fill="#0076ff"/><ellipse cx="395.55" cy="78.50" rx="40.20" ry="38.62" fill="#0060ff"/><ellipse cx="395.55" cy="78.50" rx="40.10" ry="38.52" fill="#004bfd"/><ellipse cx="395.55" cy="78.50" rx="40.00" ry="38.43" fill="#0037fb"/><ellipse cx="395.55" cy="78.50" rx="39.90" ry="38.33" fill="#0024fa"/><ellipse cx="395.55" cy="78.50" rx="39.40" ry="37.86" fill="#0037fb"/><ellipse cx="395.55" cy="78.50" rx="39.21" ry="37.67" fill="#004bfd"/><ellipse cx="395.55" cy="78.50" rx="39.11" ry="37.57" fill="#0060ff"/><ellipse cx="395.55" cy="78.50" rx="39.01" ry="37.48" fill="#0076ff"/><ellipse cx="395.55" cy="78.50" rx="38.91" ry="37.38" fill="#008cff"/><ellipse cx="395.55" cy="78.50" rx="38.81" ry="37.29" fill="#00b7ff"/><ellipse cx="395.55" cy="78.50" rx="38.71" ry="37.19" fill="#00ccff"/><ellipse cx="395.55" cy="78.50" rx="38.61" ry="37.10" fill="#00e1ff"/><ellipse cx="395.55" cy="78.50" rx="38.51" ry="37.00" fill="#00ecf5"/><ellipse cx="395.55" cy="78.50" rx="38.42" ry="36.91" fill="#00f0cd"/><ellipse cx="395.55" cy="78.50" rx="38.32" ry="36.81" fill="#00edb1"/><ellipse cx="395.55" cy="78.50" rx="38.22" ry="36.72" fill="#00eb96"/><ellipse cx="395.55" cy="78.50" rx="38.12" ry="36.62" fill="#00e762"/><ellipse cx="395.55" cy="78.50" rx="38.02" ry="36.53" fill="#00e644"/><ellipse cx="395.55" cy="78.50" rx="37.92" ry="36.43" fill="#00e624"/><ellipse cx="395.55" cy="78.50" rx="37.82" ry="36.34" fill="#00e613"/><ellipse cx="395.55" cy="78.50" rx="37.72" ry="36.24" fill="#00e610"/><ellipse cx="395.55" cy="78.50" rx="37.62" ry="36.15" fill="#00e60e"/><ellipse cx="395.55" cy="78.50" rx="37.53" ry="36.05" fill="#00e60c"/><ellipse cx="395.55" cy="78.50" rx="37.43" ry="35.96" fill="#00e609"/><ellipse cx="395.55" cy="78.50" rx="37.23" ry="35.77" fill="#00e607"/><ellipse cx="395.55" cy="78.50" rx="37.03" ry="35.58" fill="#00e605"/><ellipse cx="395.55" cy="78.50" rx="36.44" ry="35.01" fill="#00e607"/><ellipse cx="395.55" cy="78.50" rx="36.24" ry="34.82" fill="#00e609"/><ellipse cx="395.55" cy="78.50" rx="36.04" ry="34.63" fill="#00e60c"/><ellipse cx="395.55" cy="78.50" rx="35.94" ry="34.53" fill="#00e60e"/><ellipse cx="395.55" cy="78.50" rx="35.84" ry="34.44" fill="#00e610"/><ellipse cx="395.55" cy="78.50" rx="35.75" ry="34.34" fill="#00e613"/><ellipse cx="395.55" cy="78.50" rx="35.65" ry="34.25" fill="#00e624"/><ellipse cx="395.55" cy="78.50" rx="35.55" ry="34.15" fill="#00e644"/><ellipse cx="395.55" cy="78.50" rx="35.45" ry="34.06" fill="#00e762"/><ellipse cx="395.55" cy="78.50" rx="35.35" ry="33.96" fill="#00e97c"/><ellipse cx="395.55" cy="78.50" rx="35.25" ry="33.87" fill="#00eb96"/><ellipse cx="395.55" cy="78.50" rx="35.15" ry="33.77" fill="#00edb1"/><ellipse cx="395.55" cy="78.50" rx="35.05" ry="33.68" fill="#00f0cd"/><ellipse cx="395.55" cy="78.50" rx="34.95" ry="33.58" fill="#00eee2"/><ellipse cx="395.55" cy="78.50" rx="34.86" ry="33.49" fill="#00e1ff"/><ellipse cx="395.55" cy="78.50" rx="34.76" ry="33.39" fill="#00ccff"/><ellipse cx="395.55" cy="78.50" rx="34.66" ry="33.30" fill="#00b7ff"/><ellipse cx="395.55" cy="78.50" rx="34.56" ry="33.20" fill="#00a2ff"/><ellipse cx="395.55" cy="78.50" rx="34.46" ry="33.11" fill="#008cff"/><ellipse cx="395.55" cy="78.50" rx="34.36" ry="33.01" fill="#0076ff"/><ellipse cx="395.55" cy="78.50" rx="34.26" ry="32.92" fill="#0060ff"/><ellipse cx="395.55" cy="78.50" rx="34.16" ry="32.82" fill="#004bfd"/><ellipse cx="395.55" cy="78.50" rx="34.06" ry="32.73" fill="#0037fb"/><ellipse cx="395.55" cy="78.50" rx="33.87" ry="32.54" fill="#0024fa"/><ellipse cx="395.55" cy="78.50" rx="33.57" ry="32.25" fill="#0013fb"/><ellipse cx="395.55" cy="78.50" rx="33.37" ry="32.06" fill="#0024fa"/><ellipse cx="395.55" cy="78.50" rx="33.17" ry="31.87" fill="#0037fb"/><ellipse cx="395.55" cy="78.50" rx="32.98" ry="31.68" fill="#004bfd"/><ellipse cx="395.55" cy="78.50" rx="32.88" ry="31.59" fill="#0060ff"/><ellipse cx="395.55" cy="78.50" rx="32.78" ry="31.49" fill="#0076ff"/><ellipse cx="395.55" cy="78.50" rx="32.58" ry="31.30" fill="#008cff"/><ellipse cx="395.55" cy="78.50" rx="32.48" ry="31.21" fill="#00a2ff"/><ellipse cx="395.55" cy="78.50" rx="32.38" ry="31.11" fill="#00b7ff"/><ellipse cx="395.55" cy="78.50" rx="32.28" ry="31.02" fill="#00ccff"/><ellipse cx="395.55" cy="78.50" rx="32.19" ry="30.92" fill="#00e1ff"/><ellipse cx="395.55" cy="78.50" rx="32.09" ry="30.83" fill="#00ecf5"/><ellipse cx="395.55" cy="78.50" rx="31.99" ry="30.73" fill="#00eee2"/><ellipse cx="395.55" cy="78.50" rx="31.89" ry="30.64" fill="#00f0cd"/><ellipse cx="395.55" cy="78.50" rx="31.79" ry="30.54" fill="#00edb1"/><ellipse cx="395.55" cy="78.50" rx="31.69" ry="30.45" fill="#00eb96"/><ellipse cx="395.55" cy="78.50" rx="31.59" ry="30.35" fill="#00e97c"/><ellipse cx="395.55" cy="78.50" rx="31.49" ry="30.26" fill="#00e762"/><ellipse cx="395.55" cy="78.50" rx="31.39" ry="30.16" fill="#00e644"/><ellipse cx="395.55" cy="78.50" rx="31.30" ry="30.07" fill="#00e624"/><ellipse cx="395.55" cy="78.50" rx="31.10" ry="29.88" fill="#00e613"/><ellipse cx="395.55" cy="78.50" rx="31.00" ry="29.78" fill="#00e610"/><ellipse cx="395.55" cy="78.50" rx="30.80" ry="29.59" fill="#00e60e"/><ellipse cx="395.55" cy="78.50" rx="30.60" ry="29.40" fill="#00e60c"/><ellipse cx="395.55" cy="78.50" rx="30.21" ry="29.02" fill="#00e609"/><ellipse cx="395.55" cy="78.50" rx="29.81" ry="28.64" fill="#00e60c"/><ellipse cx="395.55" cy="78.50" rx="29.52" ry="28.36" fill="#00e60e"/><ellipse cx="395.55" cy="78.50" rx="29.32" ry="28.17" fill="#00e610"/><ellipse cx="395.55" cy="78.50" rx="29.12" ry="27.98" fill="#00e613"/><ellipse cx="395.55" cy="78.50" rx="29.02" ry="27.88" fill="#00e624"/><ellipse cx="395.55" cy="78.50" rx="28.92" ry="27.79" fill="#00e644"/><ellipse cx="395.55" cy="78.50" rx="28.73" ry="27.60" fill="#00e762"/><ellipse cx="395.55" cy="78.50" rx="28.63" ry="27.50" fill="#00e97c"/><ellipse cx="395.55" cy="78.50" rx="28.53" ry="27.41" fill="#00eb96"/><ellipse cx="395.55" cy="78.50" rx="28.43" ry="27.31" fill="#00edb1"/><ellipse cx="395.55" cy="78.50" rx="28.33" ry="27.22" fill="#00f0cd"/><ellipse cx="395.55" cy="78.50" rx="28.23" ry="27.12" fill="#00eee2"/><ellipse cx="395.55" cy="78.50" rx="28.13" ry="27.03" fill="#00ecf5"/><ellipse cx="395.55" cy="78.50" rx="28.03" ry="26.93" fill="#00e1ff"/><ellipse cx="395.55" cy="78.50" rx="27.93" ry="26.84" fill="#00ccff"/><ellipse cx="395.55" cy="78.50" rx="27.84" ry="26.74" fill="#00b7ff"/><ellipse cx="395.55" cy="78.50" rx="27.74" ry="26.65" fill="#00a2ff"/><ellipse cx="395.55" cy="78.50" rx="27.64" ry="26.55" fill="#008cff"/><ellipse cx="395.55" cy="78.50" rx="27.54" ry="26.46" fill="#0076ff"/><ellipse cx="395.55" cy="78.50" rx="27.34" ry="26.27" fill="#0060ff"/><ellipse cx="395.55" cy="78.50" rx="27.14" ry="26.08" fill="#004bfd"/><ellipse cx="395.55" cy="78.50" rx="27.04" ry="25.98" fill="#0037fb"/><ellipse cx="395.55" cy="78.50" rx="26.75" ry="25.70" fill="#0024fa"/><ellipse cx="395.55" cy="78.50" rx="26.35" ry="25.32" fill="#0013fb"/><rect x="369.99" y="53.94" width="51.12" height="49.11" rx="25.40" ry="24.40" fill="#0024fa"/><rect x="371.57" y="55.46" width="47.96" height="46.07" rx="22.23" ry="21.36" fill="#0037fb"/><rect x="372.76" y="56.60" width="45.58" height="43.79" rx="19.38" ry="18.62" fill="#004bfd"/><rect x="373.25" y="57.08" width="44.60" height="42.84" rx="17.96" ry="17.26" fill="#0060ff"/><rect x="373.85" y="57.65" width="43.41" height="41.70" rx="16.31" ry="15.67" fill="#0076ff"/><rect x="374.44" y="58.22" width="42.22" height="40.56" rx="15.02" ry="14.43" fill="#008cff"/><rect x="375.13" y="58.88" width="40.84" height="39.23" rx="14.06" ry="13.50" fill="#0076ff"/><rect x="375.82" y="59.55" width="39.45" height="37.91" rx="13.12" ry="12.60" fill="#0060ff"/><rect x="376.42" y="60.12" width="38.27" height="36.76" rx="15.56" ry="14.94" fill="#004bfd"/><ellipse cx="395.55" cy="78.50" rx="18.54" ry="17.81" fill="#0037fb"/><ellipse cx="395.55" cy="78.50" rx="17.85" ry="17.15" fill="#0024fa"/><ellipse cx="395.55" cy="78.50" rx="17.06" ry="16.39" fill="#0013fb"/><ellipse cx="395.55" cy="78.50" rx="11.92" ry="11.45" fill="#0005fa"/><rect x="374.78" y="58.55" width="41.53" height="39.90" rx="3" fill="none" stroke="#00c8ff" stroke-width="4.5" opacity="0.45"/><circle cx="374.78" cy="98.45" r="1.9" fill="none" stroke="#30ffff" stroke-width="0.80" opacity="1.00"/><circle cx="374.78" cy="98.45" r="1.1" fill="#0008c0" opacity="1.00"/><circle cx="374.78" cy="92.75" r="1.9" fill="none" stroke="#30ffff" stroke-width="0.80" opacity="1.00"/><circle cx="374.78" cy="92.75" r="1.1" fill="#0008c0" opacity="1.00"/><circle cx="374.78" cy="87.05" r="1.9" fill="none" stroke="#30ffff" stroke-width="0.80" opacity="1.00"/><circle cx="374.78" cy="87.05" r="1.1" fill="#0008c0" opacity="1.00"/><circle cx="374.78" cy="81.35" r="1.9" fill="none" stroke="#30ffff" stroke-width="0.80" opacity="1.00"/><circle cx="374.78" cy="81.35" r="1.1" fill="#0008c0" opacity="1.00"/><circle cx="374.78" cy="75.65" r="1.9" fill="none" stroke="#30ffff" stroke-width="0.80" opacity="1.00"/><circle cx="374.78" cy="75.65" r="1.1" fill="#0008c0" opacity="1.00"/><circle cx="374.78" cy="69.95" r="1.9" fill="none" stroke="#30ffff" stroke-width="0.80" opacity="1.00"/><circle cx="374.78" cy="69.95" r="1.1" fill="#0008c0" opacity="1.00"/><circle cx="374.78" cy="64.25" r="1.9" fill="none" stroke="#30ffff" stroke-width="0.80" opacity="1.00"/><circle cx="374.78" cy="64.25" r="1.1" fill="#0008c0" opacity="1.00"/><circle cx="374.78" cy="58.55" r="1.9" fill="none" stroke="#30ffff" stroke-width="0.80" opacity="1.00"/><circle cx="374.78" cy="58.55" r="1.1" fill="#0008c0" opacity="1.00"/><circle cx="380.72" cy="98.45" r="1.9" fill="none" stroke="#30ffff" stroke-width="0.80" opacity="1.00"/><circle cx="380.72" cy="98.45" r="1.1" fill="#0008c0" opacity="1.00"/><circle cx="380.72" cy="92.75" r="1.9" fill="none" stroke="#10c8ff" stroke-width="0.70" opacity="0.80"/><circle cx="380.72" cy="92.75" r="1.1" fill="#0008c0" opacity="0.80"/><circle cx="380.72" cy="87.05" r="1.9" fill="none" stroke="#10c8ff" stroke-width="0.70" opacity="0.80"/><circle cx="380.72" cy="87.05" r="1.1" fill="#0008c0" opacity="0.80"/><circle cx="380.72" cy="81.35" r="1.9" fill="none" stroke="#10c8ff" stroke-width="0.70" opacity="0.80"/><circle cx="380.72" cy="81.35" r="1.1" fill="#0008c0" opacity="0.80"/><circle cx="380.72" cy="75.65" r="1.9" fill="none" stroke="#10c8ff" stroke-width="0.70" opacity="0.80"/><circle cx="380.72" cy="75.65" r="1.1" fill="#0008c0" opacity="0.80"/><circle cx="380.72" cy="69.95" r="1.9" fill="none" stroke="#10c8ff" stroke-width="0.70" opacity="0.80"/><circle cx="380.72" cy="69.95" r="1.1" fill="#0008c0" opacity="0.80"/><circle cx="380.72" cy="64.25" r="1.9" fill="none" stroke="#10c8ff" stroke-width="0.70" opacity="0.80"/><circle cx="380.72" cy="64.25" r="1.1" fill="#0008c0" opacity="0.80"/><circle cx="380.72" cy="58.55" r="1.9" fill="none" stroke="#30ffff" stroke-width="0.80" opacity="1.00"/><circle cx="380.72" cy="58.55" r="1.1" fill="#0008c0" opacity="1.00"/><circle cx="386.65" cy="98.45" r="1.9" fill="none" stroke="#30ffff" stroke-width="0.80" opacity="1.00"/><circle cx="386.65" cy="98.45" r="1.1" fill="#0008c0" opacity="1.00"/><circle cx="386.65" cy="92.75" r="1.9" fill="none" stroke="#10c8ff" stroke-width="0.70" opacity="0.80"/><circle cx="386.65" cy="92.75" r="1.1" fill="#0008c0" opacity="0.80"/><circle cx="386.65" cy="87.05" r="1.9" fill="none" stroke="#1070ff" stroke-width="0.50" opacity="0.45"/><circle cx="386.65" cy="87.05" r="1.1" fill="#0008c0" opacity="0.45"/><circle cx="386.65" cy="81.35" r="1.9" fill="none" stroke="#1070ff" stroke-width="0.50" opacity="0.45"/><circle cx="386.65" cy="81.35" r="1.1" fill="#0008c0" opacity="0.45"/><circle cx="386.65" cy="75.65" r="1.9" fill="none" stroke="#1070ff" stroke-width="0.50" opacity="0.45"/><circle cx="386.65" cy="75.65" r="1.1" fill="#0008c0" opacity="0.45"/><circle cx="386.65" cy="69.95" r="1.9" fill="none" stroke="#1070ff" stroke-width="0.50" opacity="0.45"/><circle cx="386.65" cy="69.95" r="1.1" fill="#0008c0" opacity="0.45"/><circle cx="386.65" cy="64.25" r="1.9" fill="none" stroke="#10c8ff" stroke-width="0.70" opacity="0.80"/><circle cx="386.65" cy="64.25" r="1.1" fill="#0008c0" opacity="0.80"/><circle cx="386.65" cy="58.55" r="1.9" fill="none" stroke="#30ffff" stroke-width="0.80" opacity="1.00"/><circle cx="386.65" cy="58.55" r="1.1" fill="#0008c0" opacity="1.00"/><circle cx="392.58" cy="98.45" r="1.9" fill="none" stroke="#30ffff" stroke-width="0.80" opacity="1.00"/><circle cx="392.58" cy="98.45" r="1.1" fill="#0008c0" opacity="1.00"/><circle cx="392.58" cy="92.75" r="1.9" fill="none" stroke="#10c8ff" stroke-width="0.70" opacity="0.80"/><circle cx="392.58" cy="92.75" r="1.1" fill="#0008c0" opacity="0.80"/><circle cx="392.58" cy="87.05" r="1.9" fill="none" stroke="#1070ff" stroke-width="0.50" opacity="0.45"/><circle cx="392.58" cy="87.05" r="1.1" fill="#0008c0" opacity="0.45"/><circle cx="392.58" cy="81.35" r="1.9" fill="none" stroke="#1070ff" stroke-width="0.50" opacity="0.45"/><circle cx="392.58" cy="81.35" r="1.1" fill="#0008c0" opacity="0.45"/><circle cx="392.58" cy="75.65" r="1.9" fill="none" stroke="#1070ff" stroke-width="0.50" opacity="0.45"/><circle cx="392.58" cy="75.65" r="1.1" fill="#0008c0" opacity="0.45"/><circle cx="392.58" cy="69.95" r="1.9" fill="none" stroke="#1070ff" stroke-width="0.50" opacity="0.45"/><circle cx="392.58" cy="69.95" r="1.1" fill="#0008c0" opacity="0.45"/><circle cx="392.58" cy="64.25" r="1.9" fill="none" stroke="#10c8ff" stroke-width="0.70" opacity="0.80"/><circle cx="392.58" cy="64.25" r="1.1" fill="#0008c0" opacity="0.80"/><circle cx="392.58" cy="58.55" r="1.9" fill="none" stroke="#30ffff" stroke-width="0.80" opacity="1.00"/><circle cx="392.58" cy="58.55" r="1.1" fill="#0008c0" opacity="1.00"/><circle cx="398.52" cy="98.45" r="1.9" fill="none" stroke="#30ffff" stroke-width="0.80" opacity="1.00"/><circle cx="398.52" cy="98.45" r="1.1" fill="#0008c0" opacity="1.00"/><circle cx="398.52" cy="92.75" r="1.9" fill="none" stroke="#10c8ff" stroke-width="0.70" opacity="0.80"/><circle cx="398.52" cy="92.75" r="1.1" fill="#0008c0" opacity="0.80"/><circle cx="398.52" cy="87.05" r="1.9" fill="none" stroke="#1070ff" stroke-width="0.50" opacity="0.45"/><circle cx="398.52" cy="87.05" r="1.1" fill="#0008c0" opacity="0.45"/><circle cx="398.52" cy="81.35" r="1.9" fill="none" stroke="#1070ff" stroke-width="0.50" opacity="0.45"/><circle cx="398.52" cy="81.35" r="1.1" fill="#0008c0" opacity="0.45"/><circle cx="398.52" cy="75.65" r="1.9" fill="none" stroke="#1070ff" stroke-width="0.50" opacity="0.45"/><circle cx="398.52" cy="75.65" r="1.1" fill="#0008c0" opacity="0.45"/><circle cx="398.52" cy="69.95" r="1.9" fill="none" stroke="#1070ff" stroke-width="0.50" opacity="0.45"/><circle cx="398.52" cy="69.95" r="1.1" fill="#0008c0" opacity="0.45"/><circle cx="398.52" cy="64.25" r="1.9" fill="none" stroke="#10c8ff" stroke-width="0.70" opacity="0.80"/><circle cx="398.52" cy="64.25" r="1.1" fill="#0008c0" opacity="0.80"/><circle cx="398.52" cy="58.55" r="1.9" fill="none" stroke="#30ffff" stroke-width="0.80" opacity="1.00"/><circle cx="398.52" cy="58.55" r="1.1" fill="#0008c0" opacity="1.00"/><circle cx="404.45" cy="98.45" r="1.9" fill="none" stroke="#30ffff" stroke-width="0.80" opacity="1.00"/><circle cx="404.45" cy="98.45" r="1.1" fill="#0008c0" opacity="1.00"/><circle cx="404.45" cy="92.75" r="1.9" fill="none" stroke="#10c8ff" stroke-width="0.70" opacity="0.80"/><circle cx="404.45" cy="92.75" r="1.1" fill="#0008c0" opacity="0.80"/><circle cx="404.45" cy="87.05" r="1.9" fill="none" stroke="#1070ff" stroke-width="0.50" opacity="0.45"/><circle cx="404.45" cy="87.05" r="1.1" fill="#0008c0" opacity="0.45"/><circle cx="404.45" cy="81.35" r="1.9" fill="none" stroke="#1070ff" stroke-width="0.50" opacity="0.45"/><circle cx="404.45" cy="81.35" r="1.1" fill="#0008c0" opacity="0.45"/><circle cx="404.45" cy="75.65" r="1.9" fill="none" stroke="#1070ff" stroke-width="0.50" opacity="0.45"/><circle cx="404.45" cy="75.65" r="1.1" fill="#0008c0" opacity="0.45"/><circle cx="404.45" cy="69.95" r="1.9" fill="none" stroke="#1070ff" stroke-width="0.50" opacity="0.45"/><circle cx="404.45" cy="69.95" r="1.1" fill="#0008c0" opacity="0.45"/><circle cx="404.45" cy="64.25" r="1.9" fill="none" stroke="#10c8ff" stroke-width="0.70" opacity="0.80"/><circle cx="404.45" cy="64.25" r="1.1" fill="#0008c0" opacity="0.80"/><circle cx="404.45" cy="58.55" r="1.9" fill="none" stroke="#30ffff" stroke-width="0.80" opacity="1.00"/><circle cx="404.45" cy="58.55" r="1.1" fill="#0008c0" opacity="1.00"/><circle cx="410.38" cy="98.45" r="1.9" fill="none" stroke="#30ffff" stroke-width="0.80" opacity="1.00"/><circle cx="410.38" cy="98.45" r="1.1" fill="#0008c0" opacity="1.00"/><circle cx="410.38" cy="92.75" r="1.9" fill="none" stroke="#10c8ff" stroke-width="0.70" opacity="0.80"/><circle cx="410.38" cy="92.75" r="1.1" fill="#0008c0" opacity="0.80"/><circle cx="410.38" cy="87.05" r="1.9" fill="none" stroke="#10c8ff" stroke-width="0.70" opacity="0.80"/><circle cx="410.38" cy="87.05" r="1.1" fill="#0008c0" opacity="0.80"/><circle cx="410.38" cy="81.35" r="1.9" fill="none" stroke="#10c8ff" stroke-width="0.70" opacity="0.80"/><circle cx="410.38" cy="81.35" r="1.1" fill="#0008c0" opacity="0.80"/><circle cx="410.38" cy="75.65" r="1.9" fill="none" stroke="#10c8ff" stroke-width="0.70" opacity="0.80"/><circle cx="410.38" cy="75.65" r="1.1" fill="#0008c0" opacity="0.80"/><circle cx="410.38" cy="69.95" r="1.9" fill="none" stroke="#10c8ff" stroke-width="0.70" opacity="0.80"/><circle cx="410.38" cy="69.95" r="1.1" fill="#0008c0" opacity="0.80"/><circle cx="410.38" cy="64.25" r="1.9" fill="none" stroke="#10c8ff" stroke-width="0.70" opacity="0.80"/><circle cx="410.38" cy="64.25" r="1.1" fill="#0008c0" opacity="0.80"/><circle cx="410.38" cy="58.55" r="1.9" fill="none" stroke="#30ffff" stroke-width="0.80" opacity="1.00"/><circle cx="410.38" cy="58.55" r="1.1" fill="#0008c0" opacity="1.00"/><circle cx="416.32" cy="98.45" r="1.9" fill="none" stroke="#30ffff" stroke-width="0.80" opacity="1.00"/><circle cx="416.32" cy="98.45" r="1.1" fill="#0008c0" opacity="1.00"/><circle cx="416.32" cy="92.75" r="1.9" fill="none" stroke="#30ffff" stroke-width="0.80" opacity="1.00"/><circle cx="416.32" cy="92.75" r="1.1" fill="#0008c0" opacity="1.00"/><circle cx="416.32" cy="87.05" r="1.9" fill="none" stroke="#30ffff" stroke-width="0.80" opacity="1.00"/><circle cx="416.32" cy="87.05" r="1.1" fill="#0008c0" opacity="1.00"/><circle cx="416.32" cy="81.35" r="1.9" fill="none" stroke="#30ffff" stroke-width="0.80" opacity="1.00"/><circle cx="416.32" cy="81.35" r="1.1" fill="#0008c0" opacity="1.00"/><circle cx="416.32" cy="75.65" r="1.9" fill="none" stroke="#30ffff" stroke-width="0.80" opacity="1.00"/><circle cx="416.32" cy="75.65" r="1.1" fill="#0008c0" opacity="1.00"/><circle cx="416.32" cy="69.95" r="1.9" fill="none" stroke="#30ffff" stroke-width="0.80" opacity="1.00"/><circle cx="416.32" cy="69.95" r="1.1" fill="#0008c0" opacity="1.00"/><circle cx="416.32" cy="64.25" r="1.9" fill="none" stroke="#30ffff" stroke-width="0.80" opacity="1.00"/><circle cx="416.32" cy="64.25" r="1.1" fill="#0008c0" opacity="1.00"/><circle cx="416.32" cy="58.55" r="1.9" fill="none" stroke="#30ffff" stroke-width="0.80" opacity="1.00"/><circle cx="416.32" cy="58.55" r="1.1" fill="#0008c0" opacity="1.00"/></g><g stroke="#0a0a30" stroke-width="0.90" stroke-dasharray="2.4 2.6" fill="none" opacity="0.85"><line x1="359.95" y1="112.70" x2="359.95" y2="154.50"/><line x1="359.95" y1="59.50" x2="359.95" y2="97.50"/><line x1="359.95" y1="2.50" x2="359.95" y2="44.30"/><line x1="375.77" y1="112.70" x2="375.77" y2="154.50"/><line x1="375.77" y1="2.50" x2="375.77" y2="44.30"/><line x1="415.33" y1="112.70" x2="415.33" y2="154.50"/><line x1="415.33" y1="2.50" x2="415.33" y2="44.30"/><line x1="431.15" y1="112.70" x2="431.15" y2="154.50"/><line x1="431.15" y1="59.50" x2="431.15" y2="97.50"/><line x1="431.15" y1="2.50" x2="431.15" y2="44.30"/><line x1="316.44" y1="112.70" x2="359.95" y2="112.70"/><line x1="375.77" y1="112.70" x2="415.33" y2="112.70"/><line x1="431.15" y1="112.70" x2="474.66" y2="112.70"/><line x1="316.44" y1="97.50" x2="359.95" y2="97.50"/><line x1="431.15" y1="97.50" x2="474.66" y2="97.50"/><line x1="316.44" y1="59.50" x2="359.95" y2="59.50"/><line x1="431.15" y1="59.50" x2="474.66" y2="59.50"/><line x1="316.44" y1="44.30" x2="359.95" y2="44.30"/><line x1="375.77" y1="44.30" x2="415.33" y2="44.30"/><line x1="431.15" y1="44.30" x2="474.66" y2="44.30"/></g></g><g clip-path="url(#cpc)"><g><ellipse cx="118.05" cy="271.20" rx="112.97" ry="108.61" fill="#0005fa"/><ellipse cx="118.05" cy="271.20" rx="46.61" ry="44.81" fill="#0013fb"/><ellipse cx="118.05" cy="271.20" rx="40.19" ry="38.64" fill="#0024fa"/><ellipse cx="118.05" cy="271.20" rx="37.85" ry="36.39" fill="#0037fb"/><ellipse cx="118.05" cy="271.20" rx="36.49" ry="35.08" fill="#004bfd"/><ellipse cx="118.05" cy="271.20" rx="34.93" ry="33.59" fill="#0060ff"/><ellipse cx="118.05" cy="271.20" rx="33.76" ry="32.46" fill="#0076ff"/><ellipse cx="118.05" cy="271.20" rx="32.60" ry="31.34" fill="#008cff"/><ellipse cx="118.05" cy="271.20" rx="31.82" ry="30.59" fill="#00a2ff"/><ellipse cx="118.05" cy="271.20" rx="31.04" ry="29.84" fill="#00b7ff"/><ellipse cx="118.05" cy="271.20" rx="30.26" ry="29.09" fill="#00ccff"/><ellipse cx="118.05" cy="271.20" rx="29.87" ry="28.72" fill="#00e1ff"/><ellipse cx="118.05" cy="271.20" rx="29.48" ry="28.35" fill="#00ecf5"/><ellipse cx="118.05" cy="271.20" rx="29.09" ry="27.97" fill="#00eee2"/><ellipse cx="118.05" cy="271.20" rx="28.70" ry="27.60" fill="#00f0cd"/><ellipse cx="118.05" cy="271.20" rx="28.51" ry="27.41" fill="#00edb1"/><ellipse cx="118.05" cy="271.20" rx="28.12" ry="27.04" fill="#00eb96"/><ellipse cx="118.05" cy="271.20" rx="27.93" ry="26.85" fill="#00e97c"/><ellipse cx="118.05" cy="271.20" rx="27.73" ry="26.66" fill="#00eb96"/><ellipse cx="118.05" cy="271.20" rx="27.54" ry="26.48" fill="#00edb1"/><ellipse cx="118.05" cy="271.20" rx="27.34" ry="26.29" fill="#00f0cd"/><ellipse cx="118.05" cy="271.20" rx="26.76" ry="25.73" fill="#00edb1"/><ellipse cx="118.05" cy="271.20" rx="26.56" ry="25.54" fill="#00eb96"/><ellipse cx="118.05" cy="271.20" rx="25.98" ry="24.98" fill="#00edb1"/><ellipse cx="118.05" cy="271.20" rx="25.79" ry="24.79" fill="#00f0cd"/><ellipse cx="118.05" cy="271.20" rx="25.59" ry="24.60" fill="#00eee2"/><ellipse cx="118.05" cy="271.20" rx="25.01" ry="24.04" fill="#00ecf5"/><ellipse cx="118.05" cy="271.20" rx="24.42" ry="23.48" fill="#00e1ff"/><ellipse cx="118.05" cy="271.20" rx="23.45" ry="22.55" fill="#00ccff"/><ellipse cx="118.05" cy="271.20" rx="22.28" ry="21.42" fill="#00b7ff"/><ellipse cx="118.05" cy="271.20" rx="21.11" ry="20.30" fill="#00a2ff"/><ellipse cx="118.05" cy="271.20" rx="19.36" ry="18.62" fill="#008cff"/><ellipse cx="118.05" cy="271.20" rx="17.81" ry="17.12" fill="#0076ff"/><ellipse cx="118.05" cy="271.20" rx="15.86" ry="15.25" fill="#0060ff"/><ellipse cx="118.05" cy="271.20" rx="13.72" ry="13.19" fill="#004bfd"/><ellipse cx="118.05" cy="271.20" rx="11.58" ry="11.13" fill="#0037fb"/><ellipse cx="118.05" cy="271.20" rx="8.85" ry="8.51" fill="#0024fa"/><ellipse cx="118.05" cy="271.20" rx="5.74" ry="5.52" fill="#0013fb"/><g stroke="#00a2ff" stroke-width="0.5" stroke-linecap="round"><line x1="147.91" y1="271.50" x2="158.26" y2="271.61" stroke-opacity="0.46"/><line x1="146.95" y1="269.97" x2="155.10" y2="269.62" stroke-opacity="0.54"/><line x1="147.24" y1="269.26" x2="163.64" y2="268.17" stroke-opacity="0.41"/><line x1="147.52" y1="267.46" x2="160.26" y2="265.84" stroke-opacity="0.30"/><line x1="148.14" y1="266.46" x2="159.06" y2="264.74" stroke-opacity="0.51"/><line x1="146.38" y1="265.59" x2="160.77" y2="262.74" stroke-opacity="0.46"/><line x1="146.17" y1="264.94" x2="161.45" y2="261.53" stroke-opacity="0.42"/><line x1="147.34" y1="262.99" x2="159.55" y2="259.57" stroke-opacity="0.57"/><line x1="146.96" y1="262.30" x2="156.97" y2="259.21" stroke-opacity="0.58"/><line x1="145.09" y1="261.16" x2="153.65" y2="257.98" stroke-opacity="0.33"/><line x1="145.23" y1="259.80" x2="156.97" y2="254.88" stroke-opacity="0.36"/><line x1="144.88" y1="259.30" x2="154.41" y2="255.07" stroke-opacity="0.45"/><line x1="145.23" y1="257.77" x2="156.25" y2="252.33" stroke-opacity="0.58"/><line x1="144.65" y1="256.40" x2="155.14" y2="250.56" stroke-opacity="0.31"/><line x1="143.97" y1="255.43" x2="155.99" y2="248.12" stroke-opacity="0.45"/><line x1="142.20" y1="255.40" x2="154.64" y2="247.26" stroke-opacity="0.45"/><line x1="141.60" y1="255.05" x2="154.24" y2="246.38" stroke-opacity="0.60"/><line x1="142.20" y1="253.51" x2="150.32" y2="247.56" stroke-opacity="0.30"/><line x1="141.25" y1="252.46" x2="152.22" y2="243.61" stroke-opacity="0.27"/><line x1="139.17" y1="252.25" x2="149.69" y2="242.82" stroke-opacity="0.37"/><line x1="139.43" y1="250.01" x2="146.88" y2="242.63" stroke-opacity="0.60"/><line x1="137.86" y1="250.90" x2="146.95" y2="241.60" stroke-opacity="0.26"/><line x1="137.54" y1="249.79" x2="145.92" y2="240.58" stroke-opacity="0.30"/><line x1="137.36" y1="248.51" x2="143.21" y2="241.64" stroke-opacity="0.59"/><line x1="135.03" y1="247.96" x2="141.62" y2="238.94" stroke-opacity="0.43"/><line x1="134.55" y1="247.16" x2="141.11" y2="237.60" stroke-opacity="0.47"/><line x1="133.16" y1="246.52" x2="138.73" y2="237.44" stroke-opacity="0.50"/><line x1="132.68" y1="246.69" x2="140.72" y2="233.23" stroke-opacity="0.43"/><line x1="131.09" y1="246.48" x2="136.42" y2="236.38" stroke-opacity="0.45"/><line x1="131.13" y1="245.24" x2="136.59" y2="234.42" stroke-opacity="0.27"/><line x1="129.28" y1="244.76" x2="134.27" y2="232.99" stroke-opacity="0.37"/><line x1="128.28" y1="243.84" x2="130.63" y2="237.57" stroke-opacity="0.27"/><line x1="127.32" y1="243.09" x2="129.89" y2="235.30" stroke-opacity="0.41"/><line x1="125.93" y1="243.94" x2="128.81" y2="234.00" stroke-opacity="0.36"/><line x1="125.20" y1="243.23" x2="127.50" y2="234.22" stroke-opacity="0.38"/><line x1="123.37" y1="243.93" x2="125.79" y2="231.55" stroke-opacity="0.51"/><line x1="122.84" y1="243.47" x2="125.27" y2="229.45" stroke-opacity="0.33"/><line x1="121.90" y1="242.94" x2="123.65" y2="230.12" stroke-opacity="0.29"/><line x1="120.57" y1="242.99" x2="121.84" y2="228.79" stroke-opacity="0.40"/><line x1="118.78" y1="243.20" x2="119.05" y2="232.83" stroke-opacity="0.48"/><line x1="117.59" y1="242.67" x2="117.45" y2="233.76" stroke-opacity="0.29"/><line x1="116.87" y1="243.17" x2="116.27" y2="228.89" stroke-opacity="0.54"/><line x1="116.12" y1="243.05" x2="115.15" y2="228.95" stroke-opacity="0.47"/><line x1="114.23" y1="243.10" x2="113.11" y2="234.87" stroke-opacity="0.35"/><line x1="113.12" y1="243.40" x2="111.33" y2="233.28" stroke-opacity="0.40"/><line x1="112.37" y1="243.27" x2="109.41" y2="228.70" stroke-opacity="0.30"/><line x1="111.49" y1="242.43" x2="108.48" y2="229.24" stroke-opacity="0.60"/><line x1="109.81" y1="242.82" x2="105.92" y2="229.44" stroke-opacity="0.33"/><line x1="108.36" y1="243.46" x2="104.43" y2="232.21" stroke-opacity="0.43"/><line x1="108.09" y1="244.54" x2="104.87" y2="235.94" stroke-opacity="0.27"/><line x1="106.72" y1="245.16" x2="101.04" y2="232.11" stroke-opacity="0.27"/><line x1="104.99" y1="245.07" x2="98.52" y2="232.15" stroke-opacity="0.56"/><line x1="104.04" y1="245.78" x2="100.69" y2="239.69" stroke-opacity="0.51"/><line x1="104.03" y1="246.37" x2="97.64" y2="235.05" stroke-opacity="0.43"/><line x1="102.14" y1="246.04" x2="96.05" y2="236.42" stroke-opacity="0.37"/><line x1="101.37" y1="246.67" x2="95.53" y2="238.08" stroke-opacity="0.52"/><line x1="101.04" y1="248.40" x2="93.76" y2="238.66" stroke-opacity="0.54"/><line x1="99.58" y1="248.05" x2="90.63" y2="236.84" stroke-opacity="0.53"/><line x1="99.05" y1="250.37" x2="90.05" y2="240.49" stroke-opacity="0.55"/><line x1="98.53" y1="250.15" x2="91.88" y2="242.98" stroke-opacity="0.43"/><line x1="97.10" y1="250.93" x2="87.19" y2="241.35" stroke-opacity="0.25"/><line x1="97.07" y1="251.88" x2="90.56" y2="245.88" stroke-opacity="0.27"/><line x1="94.51" y1="252.60" x2="88.90" y2="248.17" stroke-opacity="0.43"/><line x1="95.09" y1="253.53" x2="86.78" y2="247.14" stroke-opacity="0.48"/><line x1="94.12" y1="254.61" x2="86.70" y2="249.46" stroke-opacity="0.37"/><line x1="93.46" y1="254.88" x2="82.46" y2="247.58" stroke-opacity="0.38"/><line x1="93.46" y1="256.16" x2="84.09" y2="250.43" stroke-opacity="0.46"/><line x1="92.11" y1="257.60" x2="79.43" y2="250.95" stroke-opacity="0.47"/><line x1="91.78" y1="258.24" x2="81.29" y2="253.07" stroke-opacity="0.50"/><line x1="90.71" y1="258.98" x2="80.86" y2="254.58" stroke-opacity="0.34"/><line x1="90.17" y1="260.14" x2="83.29" y2="257.41" stroke-opacity="0.40"/><line x1="89.45" y1="260.96" x2="75.71" y2="256.05" stroke-opacity="0.38"/><line x1="89.05" y1="262.63" x2="80.51" y2="260.11" stroke-opacity="0.41"/><line x1="88.93" y1="262.85" x2="77.06" y2="259.44" stroke-opacity="0.56"/><line x1="88.70" y1="264.77" x2="75.73" y2="261.93" stroke-opacity="0.45"/><line x1="88.78" y1="265.14" x2="81.86" y2="263.70" stroke-opacity="0.30"/><line x1="89.47" y1="267.16" x2="80.67" y2="265.91" stroke-opacity="0.28"/><line x1="89.05" y1="268.33" x2="81.06" y2="267.54" stroke-opacity="0.54"/><line x1="87.74" y1="268.46" x2="75.36" y2="267.34" stroke-opacity="0.54"/><line x1="88.13" y1="270.59" x2="74.09" y2="270.30" stroke-opacity="0.26"/><line x1="88.26" y1="271.51" x2="74.81" y2="271.64" stroke-opacity="0.29"/><line x1="87.47" y1="272.65" x2="80.59" y2="272.97" stroke-opacity="0.36"/><line x1="87.74" y1="273.57" x2="79.08" y2="274.25" stroke-opacity="0.31"/><line x1="88.22" y1="274.30" x2="74.73" y2="275.71" stroke-opacity="0.39"/><line x1="88.82" y1="275.50" x2="78.47" y2="277.02" stroke-opacity="0.40"/><line x1="88.75" y1="276.32" x2="73.29" y2="279.02" stroke-opacity="0.39"/><line x1="89.81" y1="278.00" x2="76.32" y2="281.25" stroke-opacity="0.51"/><line x1="89.42" y1="279.17" x2="78.46" y2="282.22" stroke-opacity="0.48"/><line x1="90.53" y1="280.27" x2="82.28" y2="282.98" stroke-opacity="0.51"/><line x1="90.26" y1="281.57" x2="79.96" y2="285.41" stroke-opacity="0.50"/><line x1="90.82" y1="281.66" x2="82.09" y2="285.01" stroke-opacity="0.45"/><line x1="91.39" y1="282.79" x2="78.84" y2="288.24" stroke-opacity="0.58"/><line x1="91.05" y1="284.16" x2="81.73" y2="288.63" stroke-opacity="0.55"/><line x1="92.52" y1="285.06" x2="84.19" y2="289.58" stroke-opacity="0.26"/><line x1="92.84" y1="286.02" x2="85.22" y2="290.51" stroke-opacity="0.38"/><line x1="92.73" y1="287.22" x2="86.11" y2="291.40" stroke-opacity="0.60"/><line x1="93.79" y1="288.12" x2="84.80" y2="294.39" stroke-opacity="0.54"/><line x1="94.82" y1="289.28" x2="86.03" y2="296.12" stroke-opacity="0.50"/><line x1="95.83" y1="289.98" x2="85.45" y2="298.75" stroke-opacity="0.59"/><line x1="96.55" y1="290.26" x2="89.35" y2="296.64" stroke-opacity="0.50"/><line x1="96.52" y1="292.20" x2="86.84" y2="301.63" stroke-opacity="0.33"/><line x1="97.89" y1="291.65" x2="91.49" y2="298.15" stroke-opacity="0.50"/><line x1="98.54" y1="293.81" x2="93.02" y2="300.21" stroke-opacity="0.55"/><line x1="99.54" y1="293.44" x2="90.95" y2="303.74" stroke-opacity="0.28"/><line x1="99.77" y1="294.58" x2="94.30" y2="301.58" stroke-opacity="0.37"/><line x1="101.40" y1="295.33" x2="97.57" y2="300.87" stroke-opacity="0.37"/><line x1="102.44" y1="295.55" x2="97.68" y2="302.97" stroke-opacity="0.45"/><line x1="104.08" y1="296.25" x2="98.32" y2="306.57" stroke-opacity="0.29"/><line x1="104.15" y1="296.86" x2="100.51" y2="303.57" stroke-opacity="0.56"/><line x1="106.35" y1="296.70" x2="99.79" y2="310.97" stroke-opacity="0.38"/><line x1="106.77" y1="298.21" x2="103.31" y2="306.50" stroke-opacity="0.49"/><line x1="107.71" y1="298.66" x2="104.67" y2="306.73" stroke-opacity="0.51"/><line x1="109.28" y1="298.89" x2="105.91" y2="309.53" stroke-opacity="0.29"/><line x1="110.04" y1="298.48" x2="106.30" y2="311.23" stroke-opacity="0.49"/><line x1="111.32" y1="298.47" x2="108.21" y2="311.08" stroke-opacity="0.47"/><line x1="111.71" y1="299.92" x2="109.18" y2="311.37" stroke-opacity="0.29"/><line x1="114.00" y1="298.88" x2="112.49" y2="309.17" stroke-opacity="0.50"/><line x1="114.65" y1="299.74" x2="113.20" y2="311.94" stroke-opacity="0.41"/><line x1="115.55" y1="299.12" x2="114.82" y2="307.19" stroke-opacity="0.50"/><line x1="117.18" y1="299.90" x2="116.79" y2="312.96" stroke-opacity="0.38"/><line x1="117.77" y1="299.61" x2="117.63" y2="314.09" stroke-opacity="0.26"/><line x1="119.21" y1="299.33" x2="119.77" y2="313.19" stroke-opacity="0.37"/><line x1="120.17" y1="299.57" x2="121.04" y2="311.21" stroke-opacity="0.52"/><line x1="121.45" y1="300.29" x2="122.29" y2="307.47" stroke-opacity="0.34"/><line x1="122.13" y1="298.83" x2="124.21" y2="312.89" stroke-opacity="0.50"/><line x1="123.38" y1="298.77" x2="125.47" y2="309.60" stroke-opacity="0.51"/><line x1="125.48" y1="299.40" x2="128.41" y2="310.49" stroke-opacity="0.30"/><line x1="125.86" y1="298.23" x2="129.18" y2="309.73" stroke-opacity="0.45"/><line x1="126.77" y1="298.08" x2="131.09" y2="311.42" stroke-opacity="0.26"/><line x1="128.97" y1="298.62" x2="134.24" y2="311.87" stroke-opacity="0.38"/><line x1="129.56" y1="297.77" x2="134.41" y2="308.94" stroke-opacity="0.59"/><line x1="130.55" y1="296.77" x2="136.98" y2="309.93" stroke-opacity="0.42"/><line x1="131.88" y1="297.03" x2="134.98" y2="302.83" stroke-opacity="0.52"/><line x1="132.76" y1="296.07" x2="138.59" y2="305.94" stroke-opacity="0.41"/><line x1="133.32" y1="295.84" x2="137.15" y2="302.00" stroke-opacity="0.43"/><line x1="134.68" y1="294.82" x2="141.55" y2="304.59" stroke-opacity="0.59"/><line x1="135.50" y1="293.55" x2="144.42" y2="304.96" stroke-opacity="0.47"/><line x1="135.90" y1="293.79" x2="141.65" y2="301.07" stroke-opacity="0.28"/><line x1="137.97" y1="293.55" x2="143.95" y2="300.26" stroke-opacity="0.55"/><line x1="137.94" y1="291.57" x2="148.50" y2="302.38" stroke-opacity="0.46"/><line x1="139.76" y1="291.37" x2="149.30" y2="300.23" stroke-opacity="0.37"/><line x1="140.78" y1="290.91" x2="151.11" y2="299.87" stroke-opacity="0.40"/><line x1="140.87" y1="289.55" x2="147.14" y2="294.60" stroke-opacity="0.26"/><line x1="140.67" y1="288.95" x2="147.79" y2="294.53" stroke-opacity="0.42"/><line x1="142.34" y1="287.88" x2="151.14" y2="293.93" stroke-opacity="0.48"/><line x1="142.62" y1="287.25" x2="154.12" y2="294.76" stroke-opacity="0.39"/><line x1="143.89" y1="286.87" x2="154.66" y2="293.39" stroke-opacity="0.38"/><line x1="144.00" y1="285.34" x2="154.76" y2="291.21" stroke-opacity="0.33"/><line x1="143.81" y1="284.44" x2="156.70" y2="291.08" stroke-opacity="0.30"/><line x1="144.53" y1="282.99" x2="153.27" y2="286.88" stroke-opacity="0.31"/><line x1="144.92" y1="282.02" x2="152.38" y2="285.02" stroke-opacity="0.29"/><line x1="145.83" y1="281.46" x2="153.05" y2="284.13" stroke-opacity="0.26"/><line x1="146.18" y1="280.05" x2="159.05" y2="284.10" stroke-opacity="0.27"/><line x1="146.48" y1="279.02" x2="153.82" y2="281.04" stroke-opacity="0.59"/><line x1="146.16" y1="278.01" x2="157.93" y2="280.86" stroke-opacity="0.31"/><line x1="146.99" y1="276.59" x2="155.42" y2="278.16" stroke-opacity="0.27"/><line x1="147.07" y1="275.36" x2="161.44" y2="277.42" stroke-opacity="0.41"/><line x1="147.29" y1="274.03" x2="157.02" y2="274.98" stroke-opacity="0.34"/><line x1="148.01" y1="273.10" x2="157.96" y2="273.73" stroke-opacity="0.28"/><line x1="148.72" y1="272.14" x2="160.19" y2="272.50" stroke-opacity="0.25"/></g><path d="M133.68 249.74 A27.24 26.19 0 0 0 102.42 249.74" fill="none" stroke="#00e613" stroke-width="2.2" opacity="0.7"/><path d="M102.42 292.66 A27.24 26.19 0 0 0 133.68 292.66" fill="none" stroke="#00e613" stroke-width="2.2" opacity="0.7"/><path d="M141.98 284.48 A27.63 26.57 0 0 0 141.98 257.92" fill="none" stroke="#00e613" stroke-width="1.6" opacity="0.6"/><path d="M94.12 257.92 A27.63 26.57 0 0 0 94.12 284.48" fill="none" stroke="#00e613" stroke-width="1.6" opacity="0.6"/></g><g stroke="#000028" stroke-width="1.00" stroke-dasharray="2.4 2.6" fill="none" opacity="0.85"><line x1="84.02" y1="304.88" x2="84.02" y2="346.04"/><line x1="84.02" y1="252.49" x2="84.02" y2="289.91"/><line x1="84.02" y1="196.36" x2="84.02" y2="237.52"/><line x1="99.59" y1="304.88" x2="99.59" y2="346.04"/><line x1="99.59" y1="252.49" x2="99.59" y2="289.91"/><line x1="99.59" y1="196.36" x2="99.59" y2="237.52"/><line x1="138.51" y1="304.88" x2="138.51" y2="346.04"/><line x1="138.51" y1="252.49" x2="138.51" y2="289.91"/><line x1="138.51" y1="196.36" x2="138.51" y2="237.52"/><line x1="154.08" y1="304.88" x2="154.08" y2="346.04"/><line x1="154.08" y1="252.49" x2="154.08" y2="289.91"/><line x1="154.08" y1="196.36" x2="154.08" y2="237.52"/><line x1="41.21" y1="304.88" x2="84.02" y2="304.88"/><line x1="99.59" y1="304.88" x2="138.51" y2="304.88"/><line x1="154.08" y1="304.88" x2="196.89" y2="304.88"/><line x1="41.21" y1="289.91" x2="84.02" y2="289.91"/><line x1="99.59" y1="289.91" x2="138.51" y2="289.91"/><line x1="154.08" y1="289.91" x2="196.89" y2="289.91"/><line x1="41.21" y1="252.49" x2="84.02" y2="252.49"/><line x1="99.59" y1="252.49" x2="138.51" y2="252.49"/><line x1="154.08" y1="252.49" x2="196.89" y2="252.49"/><line x1="41.21" y1="237.52" x2="84.02" y2="237.52"/><line x1="99.59" y1="237.52" x2="138.51" y2="237.52"/><line x1="154.08" y1="237.52" x2="196.89" y2="237.52"/></g></g><g clip-path="url(#cpd)"><g><rect x="318.50" y="197.00" width="158.80" height="152.50" fill="#0006fc"/><rect x="353.67" y="230.84" width="88.46" height="84.82" rx="24.33" fill="#0005fa"/><rect x="354.17" y="231.32" width="87.46" height="83.85" rx="24.05" fill="#000afc"/><rect x="357.69" y="234.70" width="80.42" height="77.11" rx="22.12" fill="#0013fb"/><rect x="360.20" y="237.11" width="75.39" height="72.29" rx="20.73" fill="#001cfb"/><rect x="360.71" y="237.59" width="74.39" height="71.32" rx="20.46" fill="#0024fa"/><rect x="362.21" y="239.03" width="71.37" height="68.43" rx="19.63" fill="#002dfa"/><rect x="362.72" y="239.52" width="70.37" height="67.47" rx="19.35" fill="#0037fb"/><rect x="363.72" y="240.48" width="68.36" height="65.54" rx="18.80" fill="#0041fc"/><rect x="364.22" y="240.96" width="67.35" height="64.58" rx="18.52" fill="#004bfd"/><rect x="364.73" y="241.44" width="66.35" height="63.61" rx="18.25" fill="#0055fe"/><rect x="365.23" y="241.93" width="65.34" height="62.65" rx="17.97" fill="#0060ff"/><rect x="365.73" y="242.41" width="64.34" height="61.68" rx="17.69" fill="#0076ff"/><rect x="366.23" y="242.89" width="63.33" height="60.72" rx="17.42" fill="#0081ff"/><rect x="366.74" y="243.37" width="62.33" height="59.76" rx="17.14" fill="#008cff"/><rect x="367.24" y="243.85" width="61.32" height="58.79" rx="16.86" fill="#0097ff"/><rect x="367.74" y="244.34" width="60.32" height="57.83" rx="16.59" fill="#00a2ff"/><rect x="368.24" y="244.82" width="59.31" height="56.87" rx="16.31" fill="#00adff"/><rect x="368.75" y="245.30" width="58.31" height="55.90" rx="16.03" fill="#00b7ff"/><rect x="370.76" y="247.23" width="54.28" height="52.05" rx="14.93" fill="#00adff"/><rect x="372.77" y="249.15" width="50.26" height="48.19" rx="13.82" fill="#00a2ff"/><rect x="374.28" y="250.60" width="47.25" height="45.30" rx="12.99" fill="#0097ff"/><rect x="375.28" y="251.56" width="45.24" height="43.37" rx="12.44" fill="#008cff"/><rect x="377.79" y="253.97" width="40.21" height="38.55" rx="11.06" fill="#0081ff"/><rect x="380.31" y="256.38" width="35.18" height="33.73" rx="9.68" fill="#0076ff"/><rect x="382.82" y="258.79" width="30.16" height="28.91" rx="8.29" fill="#006bff"/><rect x="384.83" y="260.72" width="26.14" height="25.06" rx="7.19" fill="#0060ff"/><rect x="386.34" y="262.17" width="23.12" height="22.17" rx="6.36" fill="#0055fe"/><rect x="387.34" y="263.13" width="21.11" height="20.24" rx="5.81" fill="#0041fc"/><rect x="387.85" y="263.61" width="20.11" height="19.28" rx="5.53" fill="#002dfa"/><rect x="388.35" y="264.09" width="19.10" height="18.31" rx="5.25" fill="#0024fa"/><rect x="388.85" y="264.58" width="18.09" height="17.35" rx="4.98" fill="#0013fb"/><rect x="389.36" y="265.06" width="17.09" height="16.38" rx="4.70" fill="#0005fa"/><defs><radialGradient id="gdh"><stop offset="0" stop-color="#00e613" stop-opacity="1"/><stop offset="0.5" stop-color="#00e762" stop-opacity="0.6"/><stop offset="1" stop-color="#00eee2" stop-opacity="0"/></radialGradient></defs><ellipse cx="370.15" cy="273.25" rx="8.04" ry="19.28" fill="url(#gdh)"/><ellipse cx="425.65" cy="273.25" rx="8.04" ry="19.28" fill="url(#gdh)"/><ellipse cx="397.90" cy="248.58" rx="20.11" ry="6.94" fill="url(#gdh)"/><ellipse cx="397.90" cy="297.92" rx="20.11" ry="6.94" fill="url(#gdh)"/><g stroke="#00b7ff" stroke-width="0.6" stroke-linecap="round"><line x1="417.59" y1="258.90" x2="430.87" y2="249.21" stroke-opacity="0.33"/><line x1="415.49" y1="255.43" x2="423.10" y2="247.72" stroke-opacity="0.50"/><line x1="421.41" y1="262.91" x2="431.30" y2="258.55" stroke-opacity="0.34"/><line x1="418.40" y1="255.75" x2="425.67" y2="249.54" stroke-opacity="0.39"/><line x1="415.63" y1="252.55" x2="423.81" y2="243.00" stroke-opacity="0.46"/><line x1="407.81" y1="251.96" x2="415.46" y2="235.52" stroke-opacity="0.42"/><line x1="419.34" y1="261.69" x2="431.61" y2="255.08" stroke-opacity="0.63"/><line x1="420.60" y1="260.20" x2="433.34" y2="252.87" stroke-opacity="0.45"/><line x1="414.49" y1="256.13" x2="422.86" y2="247.50" stroke-opacity="0.38"/><line x1="377.28" y1="258.32" x2="367.01" y2="250.88" stroke-opacity="0.53"/><line x1="380.64" y1="255.47" x2="368.89" y2="243.37" stroke-opacity="0.58"/><line x1="383.22" y1="252.17" x2="375.45" y2="241.03" stroke-opacity="0.65"/><line x1="377.16" y1="259.38" x2="361.76" y2="249.07" stroke-opacity="0.35"/><line x1="379.93" y1="253.71" x2="373.16" y2="246.34" stroke-opacity="0.50"/><line x1="386.68" y1="249.90" x2="380.19" y2="236.38" stroke-opacity="0.53"/><line x1="375.58" y1="261.64" x2="361.17" y2="254.15" stroke-opacity="0.54"/><line x1="378.45" y1="256.76" x2="365.73" y2="245.98" stroke-opacity="0.68"/><line x1="379.33" y1="254.73" x2="372.49" y2="247.89" stroke-opacity="0.58"/><line x1="380.39" y1="294.34" x2="371.24" y2="305.35" stroke-opacity="0.41"/><line x1="377.35" y1="289.77" x2="370.03" y2="295.65" stroke-opacity="0.48"/><line x1="376.68" y1="285.18" x2="366.28" y2="291.03" stroke-opacity="0.61"/><line x1="375.86" y1="284.81" x2="363.40" y2="291.35" stroke-opacity="0.65"/><line x1="374.70" y1="284.36" x2="361.57" y2="290.65" stroke-opacity="0.65"/><line x1="383.70" y1="295.94" x2="378.14" y2="304.85" stroke-opacity="0.47"/><line x1="376.32" y1="289.88" x2="363.69" y2="299.61" stroke-opacity="0.36"/><line x1="376.36" y1="285.54" x2="365.19" y2="291.91" stroke-opacity="0.49"/><line x1="381.35" y1="291.45" x2="374.10" y2="299.43" stroke-opacity="0.47"/><line x1="414.60" y1="292.85" x2="425.65" y2="305.81" stroke-opacity="0.58"/><line x1="416.94" y1="291.07" x2="427.68" y2="301.13" stroke-opacity="0.32"/><line x1="422.10" y1="285.29" x2="436.27" y2="292.33" stroke-opacity="0.62"/><line x1="414.53" y1="292.07" x2="421.83" y2="300.34" stroke-opacity="0.55"/><line x1="408.49" y1="294.32" x2="414.35" y2="305.95" stroke-opacity="0.36"/><line x1="412.87" y1="291.65" x2="420.16" y2="300.61" stroke-opacity="0.36"/><line x1="409.70" y1="295.02" x2="414.69" y2="304.21" stroke-opacity="0.65"/><line x1="416.84" y1="288.48" x2="427.18" y2="296.79" stroke-opacity="0.44"/><line x1="413.40" y1="291.59" x2="424.98" y2="305.29" stroke-opacity="0.70"/></g><ellipse cx="367.74" cy="294.94" rx="2.71" ry="1.71" transform="rotate(144.3 367.74 294.94)" fill="#0005fa"/><ellipse cx="367.74" cy="287.71" rx="2.71" ry="1.71" transform="rotate(154.4 367.74 287.71)" fill="#0005fa"/><ellipse cx="367.74" cy="280.48" rx="2.71" ry="1.71" transform="rotate(166.5 367.74 280.48)" fill="#0005fa"/><ellipse cx="367.74" cy="273.25" rx="2.71" ry="1.71" transform="rotate(-180.0 367.74 273.25)" fill="#0005fa"/><ellipse cx="367.74" cy="266.02" rx="2.71" ry="1.71" transform="rotate(-166.5 367.74 266.02)" fill="#0005fa"/><ellipse cx="367.74" cy="258.79" rx="2.71" ry="1.71" transform="rotate(-154.4 367.74 258.79)" fill="#0005fa"/><ellipse cx="367.74" cy="251.56" rx="2.71" ry="1.71" transform="rotate(-144.3 367.74 251.56)" fill="#0005fa"/><ellipse cx="375.28" cy="302.16" rx="2.71" ry="1.71" transform="rotate(128.0 375.28 302.16)" fill="#0005fa"/><ellipse cx="375.28" cy="294.94" rx="2.71" ry="1.71" transform="rotate(136.2 375.28 294.94)" fill="#0005fa"/><ellipse cx="375.28" cy="287.71" rx="3.22" ry="2.21" transform="rotate(147.4 375.28 287.71)" fill="#0005fa"/><ellipse cx="375.28" cy="280.48" rx="3.22" ry="2.21" transform="rotate(162.3 375.28 280.48)" fill="#0005fa"/><ellipse cx="375.28" cy="273.25" rx="3.22" ry="2.21" transform="rotate(-180.0 375.28 273.25)" fill="#0005fa"/><ellipse cx="375.28" cy="266.02" rx="3.22" ry="2.21" transform="rotate(-162.3 375.28 266.02)" fill="#0005fa"/><ellipse cx="375.28" cy="258.79" rx="3.22" ry="2.21" transform="rotate(-147.4 375.28 258.79)" fill="#0005fa"/><ellipse cx="375.28" cy="251.56" rx="2.71" ry="1.71" transform="rotate(-136.2 375.28 251.56)" fill="#0005fa"/><ellipse cx="375.28" cy="244.34" rx="2.71" ry="1.71" transform="rotate(-128.0 375.28 244.34)" fill="#0005fa"/><ellipse cx="382.82" cy="302.16" rx="2.71" ry="1.71" transform="rotate(117.5 382.82 302.16)" fill="#0005fa"/><ellipse cx="382.82" cy="294.94" rx="3.22" ry="2.21" transform="rotate(124.8 382.82 294.94)" fill="#0005fa"/><ellipse cx="382.82" cy="287.71" rx="3.72" ry="2.71" transform="rotate(136.2 382.82 287.71)" fill="#0005fa"/><ellipse cx="382.82" cy="280.48" rx="3.72" ry="2.71" transform="rotate(154.4 382.82 280.48)" fill="#0005fa"/><ellipse cx="382.82" cy="273.25" rx="3.72" ry="2.71" transform="rotate(-180.0 382.82 273.25)" fill="#0005fa"/><ellipse cx="382.82" cy="266.02" rx="3.72" ry="2.71" transform="rotate(-154.4 382.82 266.02)" fill="#0005fa"/><ellipse cx="382.82" cy="258.79" rx="3.72" ry="2.71" transform="rotate(-136.2 382.82 258.79)" fill="#0005fa"/><ellipse cx="382.82" cy="251.56" rx="3.22" ry="2.21" transform="rotate(-124.8 382.82 251.56)" fill="#0005fa"/><ellipse cx="382.82" cy="244.34" rx="2.71" ry="1.71" transform="rotate(-117.5 382.82 244.34)" fill="#0005fa"/><ellipse cx="390.36" cy="302.16" rx="2.71" ry="1.71" transform="rotate(104.6 390.36 302.16)" fill="#0005fa"/><ellipse cx="390.36" cy="294.94" rx="3.22" ry="2.21" transform="rotate(109.2 390.36 294.94)" fill="#0005fa"/><ellipse cx="390.36" cy="287.71" rx="3.72" ry="2.71" transform="rotate(117.5 390.36 287.71)" fill="#0005fa"/><ellipse cx="390.36" cy="258.79" rx="3.72" ry="2.71" transform="rotate(-117.5 390.36 258.79)" fill="#0005fa"/><ellipse cx="390.36" cy="251.56" rx="3.22" ry="2.21" transform="rotate(-109.2 390.36 251.56)" fill="#0005fa"/><ellipse cx="390.36" cy="244.34" rx="2.71" ry="1.71" transform="rotate(-104.6 390.36 244.34)" fill="#0005fa"/><ellipse cx="397.90" cy="302.16" rx="2.71" ry="1.71" transform="rotate(90.0 397.90 302.16)" fill="#0005fa"/><ellipse cx="397.90" cy="294.94" rx="3.22" ry="2.21" transform="rotate(90.0 397.90 294.94)" fill="#0005fa"/><ellipse cx="397.90" cy="287.71" rx="3.72" ry="2.71" transform="rotate(90.0 397.90 287.71)" fill="#0005fa"/><ellipse cx="397.90" cy="258.79" rx="3.72" ry="2.71" transform="rotate(-90.0 397.90 258.79)" fill="#0005fa"/><ellipse cx="397.90" cy="251.56" rx="3.22" ry="2.21" transform="rotate(-90.0 397.90 251.56)" fill="#0005fa"/><ellipse cx="397.90" cy="244.34" rx="2.71" ry="1.71" transform="rotate(-90.0 397.90 244.34)" fill="#0005fa"/><ellipse cx="405.44" cy="302.16" rx="2.71" ry="1.71" transform="rotate(75.4 405.44 302.16)" fill="#0005fa"/><ellipse cx="405.44" cy="294.94" rx="3.22" ry="2.21" transform="rotate(70.8 405.44 294.94)" fill="#0005fa"/><ellipse cx="405.44" cy="287.71" rx="3.72" ry="2.71" transform="rotate(62.5 405.44 287.71)" fill="#0005fa"/><ellipse cx="405.44" cy="258.79" rx="3.72" ry="2.71" transform="rotate(-62.5 405.44 258.79)" fill="#0005fa"/><ellipse cx="405.44" cy="251.56" rx="3.22" ry="2.21" transform="rotate(-70.8 405.44 251.56)" fill="#0005fa"/><ellipse cx="405.44" cy="244.34" rx="2.71" ry="1.71" transform="rotate(-75.4 405.44 244.34)" fill="#0005fa"/><ellipse cx="412.98" cy="302.16" rx="2.71" ry="1.71" transform="rotate(62.5 412.98 302.16)" fill="#0005fa"/><ellipse cx="412.98" cy="294.94" rx="3.22" ry="2.21" transform="rotate(55.2 412.98 294.94)" fill="#0005fa"/><ellipse cx="412.98" cy="287.71" rx="3.72" ry="2.71" transform="rotate(43.8 412.98 287.71)" fill="#0005fa"/><ellipse cx="412.98" cy="280.48" rx="3.72" ry="2.71" transform="rotate(25.6 412.98 280.48)" fill="#0005fa"/><ellipse cx="412.98" cy="273.25" rx="3.72" ry="2.71" transform="rotate(-0.0 412.98 273.25)" fill="#0005fa"/><ellipse cx="412.98" cy="266.02" rx="3.72" ry="2.71" transform="rotate(-25.6 412.98 266.02)" fill="#0005fa"/><ellipse cx="412.98" cy="258.79" rx="3.72" ry="2.71" transform="rotate(-43.8 412.98 258.79)" fill="#0005fa"/><ellipse cx="412.98" cy="251.56" rx="3.22" ry="2.21" transform="rotate(-55.2 412.98 251.56)" fill="#0005fa"/><ellipse cx="412.98" cy="244.34" rx="2.71" ry="1.71" transform="rotate(-62.5 412.98 244.34)" fill="#0005fa"/><ellipse cx="420.52" cy="302.16" rx="2.71" ry="1.71" transform="rotate(52.0 420.52 302.16)" fill="#0005fa"/><ellipse cx="420.52" cy="294.94" rx="2.71" ry="1.71" transform="rotate(43.8 420.52 294.94)" fill="#0005fa"/><ellipse cx="420.52" cy="287.71" rx="3.22" ry="2.21" transform="rotate(32.6 420.52 287.71)" fill="#0005fa"/><ellipse cx="420.52" cy="280.48" rx="3.22" ry="2.21" transform="rotate(17.7 420.52 280.48)" fill="#0005fa"/><ellipse cx="420.52" cy="273.25" rx="3.22" ry="2.21" transform="rotate(-0.0 420.52 273.25)" fill="#0005fa"/><ellipse cx="420.52" cy="266.02" rx="3.22" ry="2.21" transform="rotate(-17.7 420.52 266.02)" fill="#0005fa"/><ellipse cx="420.52" cy="258.79" rx="3.22" ry="2.21" transform="rotate(-32.6 420.52 258.79)" fill="#0005fa"/><ellipse cx="420.52" cy="251.56" rx="2.71" ry="1.71" transform="rotate(-43.8 420.52 251.56)" fill="#0005fa"/><ellipse cx="420.52" cy="244.34" rx="2.71" ry="1.71" transform="rotate(-52.0 420.52 244.34)" fill="#0005fa"/><ellipse cx="428.06" cy="294.94" rx="2.71" ry="1.71" transform="rotate(35.7 428.06 294.94)" fill="#0005fa"/><ellipse cx="428.06" cy="287.71" rx="2.71" ry="1.71" transform="rotate(25.6 428.06 287.71)" fill="#0005fa"/><ellipse cx="428.06" cy="280.48" rx="2.71" ry="1.71" transform="rotate(13.5 428.06 280.48)" fill="#0005fa"/><ellipse cx="428.06" cy="273.25" rx="2.71" ry="1.71" transform="rotate(-0.0 428.06 273.25)" fill="#0005fa"/><ellipse cx="428.06" cy="266.02" rx="2.71" ry="1.71" transform="rotate(-13.5 428.06 266.02)" fill="#0005fa"/><ellipse cx="428.06" cy="258.79" rx="2.71" ry="1.71" transform="rotate(-25.6 428.06 258.79)" fill="#0005fa"/><ellipse cx="428.06" cy="251.56" rx="2.71" ry="1.71" transform="rotate(-35.7 428.06 251.56)" fill="#0005fa"/><ellipse cx="397.90" cy="273.25" rx="10.66" ry="10.22" fill="#0005fa"/><circle cx="408.78" cy="270.46" r="2.21" fill="#0005fa"/><circle cx="405.86" cy="265.62" r="2.21" fill="#0005fa"/><circle cx="400.81" cy="262.82" r="2.21" fill="#0005fa"/><circle cx="394.99" cy="262.82" r="2.21" fill="#0005fa"/><circle cx="389.94" cy="265.62" r="2.21" fill="#0005fa"/><circle cx="387.02" cy="270.46" r="2.21" fill="#0005fa"/><circle cx="387.02" cy="276.04" r="2.21" fill="#0005fa"/><circle cx="389.94" cy="280.88" r="2.21" fill="#0005fa"/><circle cx="394.99" cy="283.68" r="2.21" fill="#0005fa"/><circle cx="400.81" cy="283.68" r="2.21" fill="#0005fa"/><circle cx="405.86" cy="280.88" r="2.21" fill="#0005fa"/><circle cx="408.78" cy="276.04" r="2.21" fill="#0005fa"/></g><g stroke="#000028" stroke-width="1.00" stroke-dasharray="2.4 2.6" fill="none" opacity="0.85"><line x1="361.71" y1="307.95" x2="361.71" y2="350.36"/><line x1="361.71" y1="253.97" x2="361.71" y2="292.53"/><line x1="361.71" y1="196.14" x2="361.71" y2="238.55"/><line x1="377.79" y1="307.95" x2="377.79" y2="350.36"/><line x1="377.79" y1="253.97" x2="377.79" y2="292.53"/><line x1="377.79" y1="196.14" x2="377.79" y2="238.55"/><line x1="418.01" y1="307.95" x2="418.01" y2="350.36"/><line x1="418.01" y1="253.97" x2="418.01" y2="292.53"/><line x1="418.01" y1="196.14" x2="418.01" y2="238.55"/><line x1="434.09" y1="307.95" x2="434.09" y2="350.36"/><line x1="434.09" y1="253.97" x2="434.09" y2="292.53"/><line x1="434.09" y1="196.14" x2="434.09" y2="238.55"/><line x1="317.48" y1="307.95" x2="361.71" y2="307.95"/><line x1="377.79" y1="307.95" x2="418.01" y2="307.95"/><line x1="434.09" y1="307.95" x2="478.32" y2="307.95"/><line x1="317.48" y1="292.53" x2="361.71" y2="292.53"/><line x1="377.79" y1="292.53" x2="418.01" y2="292.53"/><line x1="434.09" y1="292.53" x2="478.32" y2="292.53"/><line x1="317.48" y1="253.97" x2="361.71" y2="253.97"/><line x1="377.79" y1="253.97" x2="418.01" y2="253.97"/><line x1="434.09" y1="253.97" x2="478.32" y2="253.97"/><line x1="317.48" y1="238.55" x2="361.71" y2="238.55"/><line x1="377.79" y1="238.55" x2="418.01" y2="238.55"/><line x1="434.09" y1="238.55" x2="478.32" y2="238.55"/></g></g><rect x="39.00" y="6.20" width="149.80" height="143.40" fill="none" stroke="#101030" stroke-width="0.8" opacity="0.7"/><g stroke="#555" stroke-width="0.8"><line x1="44.91" y1="149.60" x2="44.91" y2="151.00"/><line x1="39.00" y1="143.94" x2="37.60" y2="143.94"/><line x1="54.77" y1="149.60" x2="54.77" y2="152.00"/><line x1="39.00" y1="134.51" x2="36.60" y2="134.51"/><line x1="64.62" y1="149.60" x2="64.62" y2="151.00"/><line x1="39.00" y1="125.07" x2="37.60" y2="125.07"/><line x1="74.48" y1="149.60" x2="74.48" y2="152.00"/><line x1="39.00" y1="115.64" x2="36.60" y2="115.64"/><line x1="84.33" y1="149.60" x2="84.33" y2="151.00"/><line x1="39.00" y1="106.20" x2="37.60" y2="106.20"/><line x1="94.19" y1="149.60" x2="94.19" y2="152.00"/><line x1="39.00" y1="96.77" x2="36.60" y2="96.77"/><line x1="104.04" y1="149.60" x2="104.04" y2="151.00"/><line x1="39.00" y1="87.33" x2="37.60" y2="87.33"/><line x1="113.90" y1="149.60" x2="113.90" y2="152.00"/><line x1="39.00" y1="77.90" x2="36.60" y2="77.90"/><line x1="123.76" y1="149.60" x2="123.76" y2="151.00"/><line x1="39.00" y1="68.47" x2="37.60" y2="68.47"/><line x1="133.61" y1="149.60" x2="133.61" y2="152.00"/><line x1="39.00" y1="59.03" x2="36.60" y2="59.03"/><line x1="143.47" y1="149.60" x2="143.47" y2="151.00"/><line x1="39.00" y1="49.60" x2="37.60" y2="49.60"/><line x1="153.32" y1="149.60" x2="153.32" y2="152.00"/><line x1="39.00" y1="40.16" x2="36.60" y2="40.16"/><line x1="163.18" y1="149.60" x2="163.18" y2="151.00"/><line x1="39.00" y1="30.73" x2="37.60" y2="30.73"/><line x1="173.03" y1="149.60" x2="173.03" y2="152.00"/><line x1="39.00" y1="21.29" x2="36.60" y2="21.29"/><line x1="182.89" y1="149.60" x2="182.89" y2="151.00"/><line x1="39.00" y1="11.86" x2="37.60" y2="11.86"/></g><rect x="320.40" y="6.30" width="150.30" height="144.40" fill="none" stroke="#101030" stroke-width="0.8" opacity="0.7"/><g stroke="#555" stroke-width="0.8"><line x1="326.33" y1="150.70" x2="326.33" y2="152.10"/><line x1="320.40" y1="145.00" x2="319.00" y2="145.00"/><line x1="336.22" y1="150.70" x2="336.22" y2="153.10"/><line x1="320.40" y1="135.50" x2="318.00" y2="135.50"/><line x1="346.11" y1="150.70" x2="346.11" y2="152.10"/><line x1="320.40" y1="126.00" x2="319.00" y2="126.00"/><line x1="356.00" y1="150.70" x2="356.00" y2="153.10"/><line x1="320.40" y1="116.50" x2="318.00" y2="116.50"/><line x1="365.89" y1="150.70" x2="365.89" y2="152.10"/><line x1="320.40" y1="107.00" x2="319.00" y2="107.00"/><line x1="375.77" y1="150.70" x2="375.77" y2="153.10"/><line x1="320.40" y1="97.50" x2="318.00" y2="97.50"/><line x1="385.66" y1="150.70" x2="385.66" y2="152.10"/><line x1="320.40" y1="88.00" x2="319.00" y2="88.00"/><line x1="395.55" y1="150.70" x2="395.55" y2="153.10"/><line x1="320.40" y1="78.50" x2="318.00" y2="78.50"/><line x1="405.44" y1="150.70" x2="405.44" y2="152.10"/><line x1="320.40" y1="69.00" x2="319.00" y2="69.00"/><line x1="415.33" y1="150.70" x2="415.33" y2="153.10"/><line x1="320.40" y1="59.50" x2="318.00" y2="59.50"/><line x1="425.21" y1="150.70" x2="425.21" y2="152.10"/><line x1="320.40" y1="50.00" x2="319.00" y2="50.00"/><line x1="435.10" y1="150.70" x2="435.10" y2="153.10"/><line x1="320.40" y1="40.50" x2="318.00" y2="40.50"/><line x1="444.99" y1="150.70" x2="444.99" y2="152.10"/><line x1="320.40" y1="31.00" x2="319.00" y2="31.00"/><line x1="454.88" y1="150.70" x2="454.88" y2="153.10"/><line x1="320.40" y1="21.50" x2="318.00" y2="21.50"/><line x1="464.77" y1="150.70" x2="464.77" y2="152.10"/><line x1="320.40" y1="12.00" x2="319.00" y2="12.00"/></g><rect x="45.10" y="200.10" width="147.90" height="142.20" fill="none" stroke="#101030" stroke-width="0.8" opacity="0.7"/><g stroke="#555" stroke-width="0.8"><line x1="50.94" y1="342.30" x2="50.94" y2="343.70"/><line x1="45.10" y1="336.69" x2="43.70" y2="336.69"/><line x1="60.67" y1="342.30" x2="60.67" y2="344.70"/><line x1="45.10" y1="327.33" x2="42.70" y2="327.33"/><line x1="70.40" y1="342.30" x2="70.40" y2="343.70"/><line x1="45.10" y1="317.98" x2="43.70" y2="317.98"/><line x1="80.13" y1="342.30" x2="80.13" y2="344.70"/><line x1="45.10" y1="308.62" x2="42.70" y2="308.62"/><line x1="89.86" y1="342.30" x2="89.86" y2="343.70"/><line x1="45.10" y1="299.27" x2="43.70" y2="299.27"/><line x1="99.59" y1="342.30" x2="99.59" y2="344.70"/><line x1="45.10" y1="289.91" x2="42.70" y2="289.91"/><line x1="109.32" y1="342.30" x2="109.32" y2="343.70"/><line x1="45.10" y1="280.56" x2="43.70" y2="280.56"/><line x1="119.05" y1="342.30" x2="119.05" y2="344.70"/><line x1="45.10" y1="271.20" x2="42.70" y2="271.20"/><line x1="128.78" y1="342.30" x2="128.78" y2="343.70"/><line x1="45.10" y1="261.84" x2="43.70" y2="261.84"/><line x1="138.51" y1="342.30" x2="138.51" y2="344.70"/><line x1="45.10" y1="252.49" x2="42.70" y2="252.49"/><line x1="148.24" y1="342.30" x2="148.24" y2="343.70"/><line x1="45.10" y1="243.13" x2="43.70" y2="243.13"/><line x1="157.97" y1="342.30" x2="157.97" y2="344.70"/><line x1="45.10" y1="233.78" x2="42.70" y2="233.78"/><line x1="167.70" y1="342.30" x2="167.70" y2="343.70"/><line x1="45.10" y1="224.42" x2="43.70" y2="224.42"/><line x1="177.43" y1="342.30" x2="177.43" y2="344.70"/><line x1="45.10" y1="215.07" x2="42.70" y2="215.07"/><line x1="187.16" y1="342.30" x2="187.16" y2="343.70"/><line x1="45.10" y1="205.71" x2="43.70" y2="205.71"/></g><rect x="321.50" y="200.00" width="152.80" height="146.50" fill="none" stroke="#101030" stroke-width="0.8" opacity="0.7"/><g stroke="#555" stroke-width="0.8"><line x1="327.53" y1="346.50" x2="327.53" y2="347.90"/><line x1="321.50" y1="340.72" x2="320.10" y2="340.72"/><line x1="337.58" y1="346.50" x2="337.58" y2="348.90"/><line x1="321.50" y1="331.08" x2="319.10" y2="331.08"/><line x1="347.64" y1="346.50" x2="347.64" y2="347.90"/><line x1="321.50" y1="321.44" x2="320.10" y2="321.44"/><line x1="357.69" y1="346.50" x2="357.69" y2="348.90"/><line x1="321.50" y1="311.80" x2="319.10" y2="311.80"/><line x1="367.74" y1="346.50" x2="367.74" y2="347.90"/><line x1="321.50" y1="302.16" x2="320.10" y2="302.16"/><line x1="377.79" y1="346.50" x2="377.79" y2="348.90"/><line x1="321.50" y1="292.53" x2="319.10" y2="292.53"/><line x1="387.85" y1="346.50" x2="387.85" y2="347.90"/><line x1="321.50" y1="282.89" x2="320.10" y2="282.89"/><line x1="397.90" y1="346.50" x2="397.90" y2="348.90"/><line x1="321.50" y1="273.25" x2="319.10" y2="273.25"/><line x1="407.95" y1="346.50" x2="407.95" y2="347.90"/><line x1="321.50" y1="263.61" x2="320.10" y2="263.61"/><line x1="418.01" y1="346.50" x2="418.01" y2="348.90"/><line x1="321.50" y1="253.97" x2="319.10" y2="253.97"/><line x1="428.06" y1="346.50" x2="428.06" y2="347.90"/><line x1="321.50" y1="244.34" x2="320.10" y2="244.34"/><line x1="438.11" y1="346.50" x2="438.11" y2="348.90"/><line x1="321.50" y1="234.70" x2="319.10" y2="234.70"/><line x1="448.16" y1="346.50" x2="448.16" y2="347.90"/><line x1="321.50" y1="225.06" x2="320.10" y2="225.06"/><line x1="458.22" y1="346.50" x2="458.22" y2="348.90"/><line x1="321.50" y1="215.42" x2="319.10" y2="215.42"/><line x1="468.27" y1="346.50" x2="468.27" y2="347.90"/><line x1="321.50" y1="205.78" x2="320.10" y2="205.78"/></g><rect x="201.00" y="11.00" width="14.50" height="4.46" fill="#f00d00"/><rect x="201.00" y="15.16" width="14.50" height="4.46" fill="#fb2700"/><rect x="201.00" y="19.31" width="14.50" height="4.46" fill="#ff4800"/><rect x="201.00" y="23.47" width="14.50" height="4.46" fill="#ff6d00"/><rect x="201.00" y="27.62" width="14.50" height="4.46" fill="#ff8d00"/><rect x="201.00" y="31.78" width="14.50" height="4.46" fill="#ffaa00"/><rect x="201.00" y="35.94" width="14.50" height="4.46" fill="#ffc400"/><rect x="201.00" y="40.09" width="14.50" height="4.46" fill="#ffdf00"/><rect x="201.00" y="44.25" width="14.50" height="4.46" fill="#fffb00"/><rect x="201.00" y="48.41" width="14.50" height="4.46" fill="#bef300"/><rect x="201.00" y="52.56" width="14.50" height="4.46" fill="#54e900"/><rect x="201.00" y="56.72" width="14.50" height="4.46" fill="#15e600"/><rect x="201.00" y="60.88" width="14.50" height="4.46" fill="#00e601"/><rect x="201.00" y="65.03" width="14.50" height="4.46" fill="#00e605"/><rect x="201.00" y="69.19" width="14.50" height="4.46" fill="#00e609"/><rect x="201.00" y="73.34" width="14.50" height="4.46" fill="#00e60c"/><rect x="201.00" y="77.50" width="14.50" height="4.46" fill="#00e610"/><rect x="201.00" y="81.66" width="14.50" height="4.46" fill="#00e614"/><rect x="201.00" y="85.81" width="14.50" height="4.46" fill="#00e641"/><rect x="201.00" y="89.97" width="14.50" height="4.46" fill="#00e86e"/><rect x="201.00" y="94.12" width="14.50" height="4.46" fill="#00eb97"/><rect x="201.00" y="98.28" width="14.50" height="4.46" fill="#00efc1"/><rect x="201.00" y="102.44" width="14.50" height="4.46" fill="#00eee5"/><rect x="201.00" y="106.59" width="14.50" height="4.46" fill="#00e7ff"/><rect x="201.00" y="110.75" width="14.50" height="4.46" fill="#00c7ff"/><rect x="201.00" y="114.91" width="14.50" height="4.46" fill="#00a5ff"/><rect x="201.00" y="119.06" width="14.50" height="4.46" fill="#0083ff"/><rect x="201.00" y="123.22" width="14.50" height="4.46" fill="#0060ff"/><rect x="201.00" y="127.38" width="14.50" height="4.46" fill="#0040fc"/><rect x="201.00" y="131.53" width="14.50" height="4.46" fill="#0023fb"/><rect x="201.00" y="135.69" width="14.50" height="4.46" fill="#0008fc"/><rect x="201.00" y="139.84" width="14.50" height="4.16" fill="#0002f1"/><rect x="201.00" y="6.30" width="14.50" height="142.40" fill="none" stroke="#999" stroke-width="0.7"/><rect x="483.30" y="11.00" width="15.10" height="4.52" fill="#f00d00"/><rect x="483.30" y="15.22" width="15.10" height="4.52" fill="#fb2700"/><rect x="483.30" y="19.45" width="15.10" height="4.52" fill="#ff4800"/><rect x="483.30" y="23.67" width="15.10" height="4.52" fill="#ff6d00"/><rect x="483.30" y="27.90" width="15.10" height="4.52" fill="#ff8d00"/><rect x="483.30" y="32.12" width="15.10" height="4.52" fill="#ffaa00"/><rect x="483.30" y="36.35" width="15.10" height="4.52" fill="#ffc400"/><rect x="483.30" y="40.57" width="15.10" height="4.52" fill="#ffdf00"/><rect x="483.30" y="44.80" width="15.10" height="4.52" fill="#fffb00"/><rect x="483.30" y="49.02" width="15.10" height="4.52" fill="#bef300"/><rect x="483.30" y="53.25" width="15.10" height="4.52" fill="#54e900"/><rect x="483.30" y="57.47" width="15.10" height="4.52" fill="#15e600"/><rect x="483.30" y="61.70" width="15.10" height="4.52" fill="#00e601"/><rect x="483.30" y="65.92" width="15.10" height="4.52" fill="#00e605"/><rect x="483.30" y="70.15" width="15.10" height="4.52" fill="#00e609"/><rect x="483.30" y="74.38" width="15.10" height="4.52" fill="#00e60c"/><rect x="483.30" y="78.60" width="15.10" height="4.52" fill="#00e610"/><rect x="483.30" y="82.82" width="15.10" height="4.52" fill="#00e614"/><rect x="483.30" y="87.05" width="15.10" height="4.52" fill="#00e641"/><rect x="483.30" y="91.27" width="15.10" height="4.52" fill="#00e86e"/><rect x="483.30" y="95.50" width="15.10" height="4.52" fill="#00eb97"/><rect x="483.30" y="99.72" width="15.10" height="4.52" fill="#00efc1"/><rect x="483.30" y="103.95" width="15.10" height="4.52" fill="#00eee5"/><rect x="483.30" y="108.17" width="15.10" height="4.52" fill="#00e7ff"/><rect x="483.30" y="112.40" width="15.10" height="4.52" fill="#00c7ff"/><rect x="483.30" y="116.62" width="15.10" height="4.52" fill="#00a5ff"/><rect x="483.30" y="120.85" width="15.10" height="4.52" fill="#0083ff"/><rect x="483.30" y="125.07" width="15.10" height="4.52" fill="#0060ff"/><rect x="483.30" y="129.30" width="15.10" height="4.52" fill="#0040fc"/><rect x="483.30" y="133.52" width="15.10" height="4.52" fill="#0023fb"/><rect x="483.30" y="137.75" width="15.10" height="4.52" fill="#0008fc"/><rect x="483.30" y="141.97" width="15.10" height="4.22" fill="#0002f1"/><rect x="483.30" y="6.50" width="15.10" height="144.50" fill="none" stroke="#999" stroke-width="0.7"/><rect x="206.40" y="204.60" width="14.60" height="4.61" fill="#f00d00"/><rect x="206.40" y="208.91" width="14.60" height="4.61" fill="#fb2700"/><rect x="206.40" y="213.21" width="14.60" height="4.61" fill="#ff4800"/><rect x="206.40" y="217.52" width="14.60" height="4.61" fill="#ff6d00"/><rect x="206.40" y="221.82" width="14.60" height="4.61" fill="#ff8d00"/><rect x="206.40" y="226.13" width="14.60" height="4.61" fill="#ffaa00"/><rect x="206.40" y="230.44" width="14.60" height="4.61" fill="#ffc400"/><rect x="206.40" y="234.74" width="14.60" height="4.61" fill="#ffdf00"/><rect x="206.40" y="239.05" width="14.60" height="4.61" fill="#fffb00"/><rect x="206.40" y="243.36" width="14.60" height="4.61" fill="#bef300"/><rect x="206.40" y="247.66" width="14.60" height="4.61" fill="#54e900"/><rect x="206.40" y="251.97" width="14.60" height="4.61" fill="#15e600"/><rect x="206.40" y="256.27" width="14.60" height="4.61" fill="#00e601"/><rect x="206.40" y="260.58" width="14.60" height="4.61" fill="#00e605"/><rect x="206.40" y="264.89" width="14.60" height="4.61" fill="#00e609"/><rect x="206.40" y="269.19" width="14.60" height="4.61" fill="#00e60c"/><rect x="206.40" y="273.50" width="14.60" height="4.61" fill="#00e610"/><rect x="206.40" y="277.81" width="14.60" height="4.61" fill="#00e614"/><rect x="206.40" y="282.11" width="14.60" height="4.61" fill="#00e641"/><rect x="206.40" y="286.42" width="14.60" height="4.61" fill="#00e86e"/><rect x="206.40" y="290.72" width="14.60" height="4.61" fill="#00eb97"/><rect x="206.40" y="295.03" width="14.60" height="4.61" fill="#00efc1"/><rect x="206.40" y="299.34" width="14.60" height="4.61" fill="#00eee5"/><rect x="206.40" y="303.64" width="14.60" height="4.61" fill="#00e7ff"/><rect x="206.40" y="307.95" width="14.60" height="4.61" fill="#00c7ff"/><rect x="206.40" y="312.26" width="14.60" height="4.61" fill="#00a5ff"/><rect x="206.40" y="316.56" width="14.60" height="4.61" fill="#0083ff"/><rect x="206.40" y="320.87" width="14.60" height="4.61" fill="#0060ff"/><rect x="206.40" y="325.17" width="14.60" height="4.61" fill="#0040fc"/><rect x="206.40" y="329.48" width="14.60" height="4.61" fill="#0023fb"/><rect x="206.40" y="333.79" width="14.60" height="4.61" fill="#0008fc"/><rect x="206.40" y="338.09" width="14.60" height="4.31" fill="#0002f1"/><rect x="206.40" y="200.40" width="14.60" height="142.00" fill="none" stroke="#999" stroke-width="0.7"/><rect x="488.40" y="205.00" width="15.00" height="4.73" fill="#f00d00"/><rect x="488.40" y="209.43" width="15.00" height="4.73" fill="#fb2700"/><rect x="488.40" y="213.86" width="15.00" height="4.73" fill="#ff4800"/><rect x="488.40" y="218.28" width="15.00" height="4.73" fill="#ff6d00"/><rect x="488.40" y="222.71" width="15.00" height="4.73" fill="#ff8d00"/><rect x="488.40" y="227.14" width="15.00" height="4.73" fill="#ffaa00"/><rect x="488.40" y="231.57" width="15.00" height="4.73" fill="#ffc400"/><rect x="488.40" y="236.00" width="15.00" height="4.73" fill="#ffdf00"/><rect x="488.40" y="240.43" width="15.00" height="4.73" fill="#fffb00"/><rect x="488.40" y="244.85" width="15.00" height="4.73" fill="#bef300"/><rect x="488.40" y="249.28" width="15.00" height="4.73" fill="#54e900"/><rect x="488.40" y="253.71" width="15.00" height="4.73" fill="#15e600"/><rect x="488.40" y="258.14" width="15.00" height="4.73" fill="#00e601"/><rect x="488.40" y="262.57" width="15.00" height="4.73" fill="#00e605"/><rect x="488.40" y="266.99" width="15.00" height="4.73" fill="#00e609"/><rect x="488.40" y="271.42" width="15.00" height="4.73" fill="#00e60c"/><rect x="488.40" y="275.85" width="15.00" height="4.73" fill="#00e610"/><rect x="488.40" y="280.28" width="15.00" height="4.73" fill="#00e614"/><rect x="488.40" y="284.71" width="15.00" height="4.73" fill="#00e641"/><rect x="488.40" y="289.13" width="15.00" height="4.73" fill="#00e86e"/><rect x="488.40" y="293.56" width="15.00" height="4.73" fill="#00eb97"/><rect x="488.40" y="297.99" width="15.00" height="4.73" fill="#00efc1"/><rect x="488.40" y="302.42" width="15.00" height="4.73" fill="#00eee5"/><rect x="488.40" y="306.85" width="15.00" height="4.73" fill="#00e7ff"/><rect x="488.40" y="311.27" width="15.00" height="4.73" fill="#00c7ff"/><rect x="488.40" y="315.70" width="15.00" height="4.73" fill="#00a5ff"/><rect x="488.40" y="320.13" width="15.00" height="4.73" fill="#0083ff"/><rect x="488.40" y="324.56" width="15.00" height="4.73" fill="#0060ff"/><rect x="488.40" y="328.99" width="15.00" height="4.73" fill="#0040fc"/><rect x="488.40" y="333.42" width="15.00" height="4.73" fill="#0023fb"/><rect x="488.40" y="337.84" width="15.00" height="4.73" fill="#0008fc"/><rect x="488.40" y="342.27" width="15.00" height="4.43" fill="#0002f1"/><rect x="488.40" y="200.70" width="15.00" height="146.00" fill="none" stroke="#999" stroke-width="0.7"/><g font-family="'Liberation Serif', serif" fill="#1a1a1a" stroke="#1a1a1a" stroke-width="0.22"><text x="54.77" y="159.40" font-size="9.00" text-anchor="middle" textLength="14.08" lengthAdjust="spacingAndGlyphs">−30</text><text x="35.31" y="138.13" font-size="9.00" text-anchor="end" textLength="14.08" lengthAdjust="spacingAndGlyphs">−30</text><text x="74.48" y="159.40" font-size="9.00" text-anchor="middle" textLength="14.08" lengthAdjust="spacingAndGlyphs">−20</text><text x="35.31" y="119.26" font-size="9.00" text-anchor="end" textLength="14.08" lengthAdjust="spacingAndGlyphs">−20</text><text x="94.19" y="159.40" font-size="9.00" text-anchor="middle" textLength="14.08" lengthAdjust="spacingAndGlyphs">−10</text><text x="35.31" y="100.39" font-size="9.00" text-anchor="end" textLength="14.08" lengthAdjust="spacingAndGlyphs">−10</text><text x="113.90" y="159.40" font-size="9.00" text-anchor="middle" textLength="4.50" lengthAdjust="spacingAndGlyphs">0</text><text x="35.36" y="81.52" font-size="9.00" text-anchor="end" textLength="4.50" lengthAdjust="spacingAndGlyphs">0</text><text x="133.61" y="159.40" font-size="9.00" text-anchor="middle" textLength="9.00" lengthAdjust="spacingAndGlyphs">10</text><text x="35.36" y="62.66" font-size="9.00" text-anchor="end" textLength="9.00" lengthAdjust="spacingAndGlyphs">10</text><text x="153.32" y="159.40" font-size="9.00" text-anchor="middle" textLength="9.00" lengthAdjust="spacingAndGlyphs">20</text><text x="35.36" y="43.79" font-size="9.00" text-anchor="end" textLength="9.00" lengthAdjust="spacingAndGlyphs">20</text><text x="173.03" y="159.40" font-size="9.00" text-anchor="middle" textLength="9.00" lengthAdjust="spacingAndGlyphs">30</text><text x="35.36" y="24.92" font-size="9.00" text-anchor="end" textLength="9.00" lengthAdjust="spacingAndGlyphs">30</text><text x="336.22" y="161.70" font-size="9.40" text-anchor="middle" textLength="14.70" lengthAdjust="spacingAndGlyphs">−30</text><text x="314.22" y="137.75" font-size="9.40" text-anchor="end" textLength="14.70" lengthAdjust="spacingAndGlyphs">−30</text><text x="356.00" y="161.70" font-size="9.40" text-anchor="middle" textLength="14.70" lengthAdjust="spacingAndGlyphs">−20</text><text x="314.22" y="118.76" font-size="9.40" text-anchor="end" textLength="14.70" lengthAdjust="spacingAndGlyphs">−20</text><text x="375.77" y="161.70" font-size="9.40" text-anchor="middle" textLength="14.70" lengthAdjust="spacingAndGlyphs">−10</text><text x="314.22" y="99.76" font-size="9.40" text-anchor="end" textLength="14.70" lengthAdjust="spacingAndGlyphs">−10</text><text x="395.55" y="161.70" font-size="9.40" text-anchor="middle" textLength="4.70" lengthAdjust="spacingAndGlyphs">0</text><text x="314.28" y="80.76" font-size="9.40" text-anchor="end" textLength="4.70" lengthAdjust="spacingAndGlyphs">0</text><text x="415.33" y="161.70" font-size="9.40" text-anchor="middle" textLength="9.40" lengthAdjust="spacingAndGlyphs">10</text><text x="314.28" y="61.76" font-size="9.40" text-anchor="end" textLength="9.40" lengthAdjust="spacingAndGlyphs">10</text><text x="435.10" y="161.70" font-size="9.40" text-anchor="middle" textLength="9.40" lengthAdjust="spacingAndGlyphs">20</text><text x="314.28" y="42.76" font-size="9.40" text-anchor="end" textLength="9.40" lengthAdjust="spacingAndGlyphs">20</text><text x="454.88" y="161.70" font-size="9.40" text-anchor="middle" textLength="9.40" lengthAdjust="spacingAndGlyphs">30</text><text x="314.28" y="23.76" font-size="9.40" text-anchor="end" textLength="9.40" lengthAdjust="spacingAndGlyphs">30</text><text x="60.67" y="356.30" font-size="11.50" text-anchor="middle" textLength="17.99" lengthAdjust="spacingAndGlyphs">−30</text><text x="39.89" y="332.07" font-size="11.50" text-anchor="end" textLength="17.99" lengthAdjust="spacingAndGlyphs">−30</text><text x="80.13" y="356.30" font-size="11.50" text-anchor="middle" textLength="17.99" lengthAdjust="spacingAndGlyphs">−20</text><text x="39.89" y="313.36" font-size="11.50" text-anchor="end" textLength="17.99" lengthAdjust="spacingAndGlyphs">−20</text><text x="99.59" y="356.30" font-size="11.50" text-anchor="middle" textLength="17.99" lengthAdjust="spacingAndGlyphs">−10</text><text x="39.89" y="294.65" font-size="11.50" text-anchor="end" textLength="17.99" lengthAdjust="spacingAndGlyphs">−10</text><text x="119.05" y="356.30" font-size="11.50" text-anchor="middle" textLength="5.75" lengthAdjust="spacingAndGlyphs">0</text><text x="39.96" y="275.94" font-size="11.50" text-anchor="end" textLength="5.75" lengthAdjust="spacingAndGlyphs">0</text><text x="138.51" y="356.30" font-size="11.50" text-anchor="middle" textLength="11.50" lengthAdjust="spacingAndGlyphs">10</text><text x="39.96" y="257.23" font-size="11.50" text-anchor="end" textLength="11.50" lengthAdjust="spacingAndGlyphs">10</text><text x="157.97" y="356.30" font-size="11.50" text-anchor="middle" textLength="11.50" lengthAdjust="spacingAndGlyphs">20</text><text x="39.96" y="238.52" font-size="11.50" text-anchor="end" textLength="11.50" lengthAdjust="spacingAndGlyphs">20</text><text x="177.43" y="356.30" font-size="11.50" text-anchor="middle" textLength="11.50" lengthAdjust="spacingAndGlyphs">30</text><text x="39.96" y="219.81" font-size="11.50" text-anchor="end" textLength="11.50" lengthAdjust="spacingAndGlyphs">30</text><text x="337.58" y="360.00" font-size="12.00" text-anchor="middle" textLength="18.77" lengthAdjust="spacingAndGlyphs">−30</text><text x="317.41" y="335.48" font-size="12.00" text-anchor="end" textLength="18.77" lengthAdjust="spacingAndGlyphs">−30</text><text x="357.69" y="360.00" font-size="12.00" text-anchor="middle" textLength="18.77" lengthAdjust="spacingAndGlyphs">−20</text><text x="317.41" y="316.20" font-size="12.00" text-anchor="end" textLength="18.77" lengthAdjust="spacingAndGlyphs">−20</text><text x="377.79" y="360.00" font-size="12.00" text-anchor="middle" textLength="18.77" lengthAdjust="spacingAndGlyphs">−10</text><text x="317.41" y="296.93" font-size="12.00" text-anchor="end" textLength="18.77" lengthAdjust="spacingAndGlyphs">−10</text><text x="397.90" y="360.00" font-size="12.00" text-anchor="middle" textLength="6.00" lengthAdjust="spacingAndGlyphs">0</text><text x="317.48" y="277.65" font-size="12.00" text-anchor="end" textLength="6.00" lengthAdjust="spacingAndGlyphs">0</text><text x="418.01" y="360.00" font-size="12.00" text-anchor="middle" textLength="12.00" lengthAdjust="spacingAndGlyphs">10</text><text x="317.48" y="258.37" font-size="12.00" text-anchor="end" textLength="12.00" lengthAdjust="spacingAndGlyphs">10</text><text x="438.11" y="360.00" font-size="12.00" text-anchor="middle" textLength="12.00" lengthAdjust="spacingAndGlyphs">20</text><text x="317.48" y="239.10" font-size="12.00" text-anchor="end" textLength="12.00" lengthAdjust="spacingAndGlyphs">20</text><text x="458.22" y="360.00" font-size="12.00" text-anchor="middle" textLength="12.00" lengthAdjust="spacingAndGlyphs">30</text><text x="317.48" y="219.82" font-size="12.00" text-anchor="end" textLength="12.00" lengthAdjust="spacingAndGlyphs">30</text><text x="223.50" y="14.00" font-size="8.40" textLength="26.50" lengthAdjust="spacingAndGlyphs">3.0×10</text><text x="250.00" y="11.00" font-size="5.80" textLength="8.40" lengthAdjust="spacingAndGlyphs">-24</text><text x="223.50" y="41.20" font-size="8.40" textLength="26.50" lengthAdjust="spacingAndGlyphs">2.4×10</text><text x="250.00" y="38.20" font-size="5.80" textLength="8.40" lengthAdjust="spacingAndGlyphs">-24</text><text x="223.50" y="68.40" font-size="8.40" textLength="26.50" lengthAdjust="spacingAndGlyphs">1.8×10</text><text x="250.00" y="65.40" font-size="5.80" textLength="8.40" lengthAdjust="spacingAndGlyphs">-24</text><text x="223.50" y="95.60" font-size="8.40" textLength="26.50" lengthAdjust="spacingAndGlyphs">1.2×10</text><text x="250.00" y="92.60" font-size="5.80" textLength="8.40" lengthAdjust="spacingAndGlyphs">-24</text><text x="223.50" y="122.80" font-size="8.40" textLength="26.50" lengthAdjust="spacingAndGlyphs">6.0×10</text><text x="250.00" y="119.80" font-size="5.80" textLength="8.40" lengthAdjust="spacingAndGlyphs">-25</text><text x="223.50" y="150.00" font-size="8.40" textLength="11.77" lengthAdjust="spacingAndGlyphs">0.0</text><text x="507.70" y="13.20" font-size="8.40" textLength="26.50" lengthAdjust="spacingAndGlyphs">3.0×10</text><text x="534.20" y="10.20" font-size="5.80" textLength="8.40" lengthAdjust="spacingAndGlyphs">-24</text><text x="507.70" y="40.30" font-size="8.40" textLength="26.50" lengthAdjust="spacingAndGlyphs">2.4×10</text><text x="534.20" y="37.30" font-size="5.80" textLength="8.40" lengthAdjust="spacingAndGlyphs">-24</text><text x="507.70" y="67.40" font-size="8.40" textLength="26.50" lengthAdjust="spacingAndGlyphs">1.8×10</text><text x="534.20" y="64.40" font-size="5.80" textLength="8.40" lengthAdjust="spacingAndGlyphs">-24</text><text x="507.70" y="94.50" font-size="8.40" textLength="26.50" lengthAdjust="spacingAndGlyphs">1.2×10</text><text x="534.20" y="91.50" font-size="5.80" textLength="8.40" lengthAdjust="spacingAndGlyphs">-24</text><text x="507.70" y="121.60" font-size="8.40" textLength="26.50" lengthAdjust="spacingAndGlyphs">6.0×10</text><text x="534.20" y="118.60" font-size="5.80" textLength="8.40" lengthAdjust="spacingAndGlyphs">-25</text><text x="507.70" y="148.70" font-size="8.40" textLength="11.77" lengthAdjust="spacingAndGlyphs">0.0</text><text x="224.30" y="211.40" font-size="11.20" textLength="34.00" lengthAdjust="spacingAndGlyphs">5.0×10</text><text x="258.30" y="207.00" font-size="6.80" textLength="6.60" lengthAdjust="spacingAndGlyphs">-6</text><text x="224.30" y="237.70" font-size="11.20" textLength="34.00" lengthAdjust="spacingAndGlyphs">4.0×10</text><text x="258.30" y="233.30" font-size="6.80" textLength="6.60" lengthAdjust="spacingAndGlyphs">-6</text><text x="224.30" y="264.00" font-size="11.20" textLength="34.00" lengthAdjust="spacingAndGlyphs">3.0×10</text><text x="258.30" y="259.60" font-size="6.80" textLength="6.60" lengthAdjust="spacingAndGlyphs">-6</text><text x="224.30" y="290.30" font-size="11.20" textLength="34.00" lengthAdjust="spacingAndGlyphs">2.0×10</text><text x="258.30" y="285.90" font-size="6.80" textLength="6.60" lengthAdjust="spacingAndGlyphs">-6</text><text x="224.30" y="316.60" font-size="11.20" textLength="34.00" lengthAdjust="spacingAndGlyphs">1.0×10</text><text x="258.30" y="312.20" font-size="6.80" textLength="6.60" lengthAdjust="spacingAndGlyphs">-6</text><text x="224.30" y="342.90" font-size="11.20" textLength="15.10" lengthAdjust="spacingAndGlyphs">0.0</text><text x="505.40" y="212.00" font-size="11.20" textLength="34.00" lengthAdjust="spacingAndGlyphs">5.0×10</text><text x="539.40" y="207.60" font-size="6.80" textLength="6.60" lengthAdjust="spacingAndGlyphs">-6</text><text x="505.40" y="239.10" font-size="11.20" textLength="34.00" lengthAdjust="spacingAndGlyphs">4.0×10</text><text x="539.40" y="234.70" font-size="6.80" textLength="6.60" lengthAdjust="spacingAndGlyphs">-6</text><text x="505.40" y="266.20" font-size="11.20" textLength="34.00" lengthAdjust="spacingAndGlyphs">3.0×10</text><text x="539.40" y="261.80" font-size="6.80" textLength="6.60" lengthAdjust="spacingAndGlyphs">-6</text><text x="505.40" y="293.30" font-size="11.20" textLength="34.00" lengthAdjust="spacingAndGlyphs">2.0×10</text><text x="539.40" y="288.90" font-size="6.80" textLength="6.60" lengthAdjust="spacingAndGlyphs">-6</text><text x="505.40" y="320.40" font-size="11.20" textLength="34.00" lengthAdjust="spacingAndGlyphs">1.0×10</text><text x="539.40" y="316.00" font-size="6.80" textLength="6.60" lengthAdjust="spacingAndGlyphs">-6</text><text x="505.40" y="347.50" font-size="11.20" textLength="15.10" lengthAdjust="spacingAndGlyphs">0.0</text><text x="96.67" y="172.00" font-size="10.85" textLength="31.74" lengthAdjust="spacingAndGlyphs">x(μm)</text><text transform="translate(15.60 95.43) rotate(-90)" font-size="10.85" textLength="31.74" lengthAdjust="spacingAndGlyphs">y(μm)</text><text x="377.57" y="173.89" font-size="11.02" textLength="32.25" lengthAdjust="spacingAndGlyphs">x(μm)</text><text transform="translate(291.89 94.93) rotate(-90)" font-size="11.02" textLength="32.25" lengthAdjust="spacingAndGlyphs">y(μm)</text><text x="97.44" y="374.55" font-size="13.53" textLength="43.60" lengthAdjust="spacingAndGlyphs">x (μm)</text><text transform="translate(13.88 291.75) rotate(-90)" font-size="13.03" textLength="41.97" lengthAdjust="spacingAndGlyphs">y (μm)</text><text x="375.94" y="373.12" font-size="13.85" textLength="44.62" lengthAdjust="spacingAndGlyphs">x (μm)</text><text transform="translate(294.07 293.06) rotate(-90)" font-size="13.22" textLength="42.58" lengthAdjust="spacingAndGlyphs">y (μm)</text><text x="125.83" y="194.27" font-size="14.26" font-weight="bold" textLength="16.63" lengthAdjust="spacingAndGlyphs" stroke="none">(a)</text><text x="407.04" y="194.00" font-size="13.95" font-weight="bold" textLength="17.05" lengthAdjust="spacingAndGlyphs" stroke="none">(b)</text><text x="126.47" y="394.54" font-size="13.30" font-weight="bold" textLength="14.76" lengthAdjust="spacingAndGlyphs" stroke="none">(c)</text><text x="407.04" y="394.80" font-size="13.95" font-weight="bold" textLength="17.05" lengthAdjust="spacingAndGlyphs" stroke="none">(d)</text></g></svg></body></html>
